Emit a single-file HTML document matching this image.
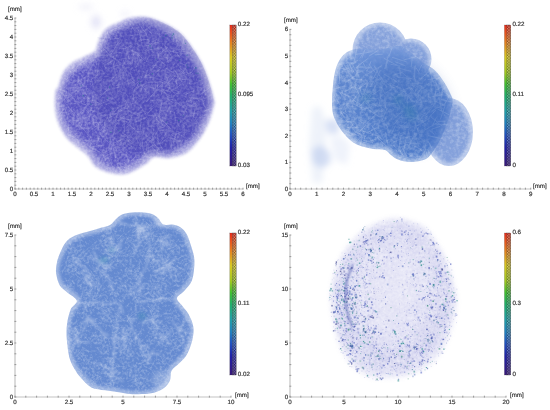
<!DOCTYPE html>
<html><head><meta charset="utf-8"><style>
html,body{margin:0;padding:0;background:#fff;width:550px;height:410px;overflow:hidden}
svg{display:block}
</style></head><body>
<svg width="550" height="410" viewBox="0 0 550 410">
<defs>
<linearGradient id="cb" x1="0" y1="0" x2="0" y2="1">
<stop offset="0" stop-color="#e82c1c"/>
<stop offset="0.10" stop-color="#e87020"/>
<stop offset="0.23" stop-color="#d8c820"/>
<stop offset="0.34" stop-color="#a0c820"/>
<stop offset="0.42" stop-color="#40c030"/>
<stop offset="0.50" stop-color="#20b068"/>
<stop offset="0.61" stop-color="#20a0a8"/>
<stop offset="0.70" stop-color="#2080c0"/>
<stop offset="0.78" stop-color="#2050c0"/>
<stop offset="0.87" stop-color="#2020a8"/>
<stop offset="1" stop-color="#381878"/>
</linearGradient>
<pattern id="chk" x="0" y="0" width="2.8" height="2.8" patternUnits="userSpaceOnUse">
<rect x="0" y="0" width="1.4" height="1.4" fill="#fff" fill-opacity="0.4"/>
<rect x="1.4" y="0" width="1.4" height="1.4" fill="#000" fill-opacity="0.45"/>
<rect x="0" y="1.4" width="1.4" height="1.4" fill="#000" fill-opacity="0.45"/>
<rect x="1.4" y="1.4" width="1.4" height="1.4" fill="#fff" fill-opacity="0.4"/>
</pattern>
<filter id="b05" x="-10%" y="-10%" width="120%" height="120%"><feGaussianBlur stdDeviation="0.6"/></filter>
<filter id="b08" x="-10%" y="-10%" width="120%" height="120%"><feGaussianBlur stdDeviation="0.8"/></filter>
<filter id="b1" x="-50%" y="-50%" width="200%" height="200%"><feGaussianBlur stdDeviation="1"/></filter>
<filter id="b2" x="-50%" y="-50%" width="200%" height="200%"><feGaussianBlur stdDeviation="2"/></filter>
<filter id="b3" x="-50%" y="-50%" width="200%" height="200%"><feGaussianBlur stdDeviation="3"/></filter>
<filter id="b5" x="-50%" y="-50%" width="200%" height="200%"><feGaussianBlur stdDeviation="5"/></filter>
<filter id="b8" x="-50%" y="-50%" width="200%" height="200%"><feGaussianBlur stdDeviation="8"/></filter>
<filter id="tex1" x="-15%" y="-15%" width="130%" height="130%" color-interpolation-filters="sRGB">
<feMorphology in="SourceGraphic" operator="erode" radius="5" result="er"/>
<feGaussianBlur in="er" stdDeviation="2.5" result="core"/>
<feGaussianBlur in="SourceGraphic" stdDeviation="1.8" result="outer"/>
<feComponentTransfer in="outer" result="outerA"><feFuncA type="linear" slope="0.5"/></feComponentTransfer>
<feComponentTransfer in="core" result="coreA"><feFuncA type="linear" slope="0.9"/></feComponentTransfer>
<feComposite in="coreA" in2="outerA" operator="over" result="b"/>
<feTurbulence type="fractalNoise" baseFrequency="0.4" numOctaves="2" seed="4" result="n1"/>
<feColorMatrix in="n1" type="matrix" values="0 0 0 0 0 0 0 0 0 0 0 0 0 0 0 1 0 0 0 0" result="a1"/>
<feTurbulence type="fractalNoise" baseFrequency="0.07" numOctaves="2" seed="9" result="n2"/>
<feColorMatrix in="n2" type="matrix" values="0 0 0 0 0 0 0 0 0 0 0 0 0 0 0 1 0 0 0 0" result="a2"/>
<feComposite in="a1" in2="a2" operator="arithmetic" k1="0" k2="0.6" k3="0.3" k4="0.43" result="na"/>
<feComposite in="b" in2="na" operator="in"/>
</filter><filter id="tex2" x="-15%" y="-15%" width="130%" height="130%" color-interpolation-filters="sRGB">
<feMorphology in="SourceGraphic" operator="erode" radius="3" result="er"/>
<feGaussianBlur in="er" stdDeviation="1.5" result="core"/>
<feGaussianBlur in="SourceGraphic" stdDeviation="0.7" result="outer"/>
<feComponentTransfer in="outer" result="outerA"><feFuncA type="linear" slope="0.55"/></feComponentTransfer>
<feComponentTransfer in="core" result="coreA"><feFuncA type="linear" slope="0.92"/></feComponentTransfer>
<feComposite in="coreA" in2="outerA" operator="over" result="b"/>
<feTurbulence type="fractalNoise" baseFrequency="0.3" numOctaves="3" seed="5" result="n1"/>
<feColorMatrix in="n1" type="matrix" values="0 0 0 0 0 0 0 0 0 0 0 0 0 0 0 1 0 0 0 0" result="a1"/>
<feTurbulence type="fractalNoise" baseFrequency="0.05" numOctaves="2" seed="11" result="n2"/>
<feColorMatrix in="n2" type="matrix" values="0 0 0 0 0 0 0 0 0 0 0 0 0 0 0 1 0 0 0 0" result="a2"/>
<feComposite in="a1" in2="a2" operator="arithmetic" k1="0" k2="0.6" k3="0.25" k4="0.47" result="na"/>
<feComposite in="b" in2="na" operator="in"/>
</filter><filter id="tex2l" x="-15%" y="-15%" width="130%" height="130%" color-interpolation-filters="sRGB">
<feMorphology in="SourceGraphic" operator="erode" radius="3" result="er"/>
<feGaussianBlur in="er" stdDeviation="1.5" result="core"/>
<feGaussianBlur in="SourceGraphic" stdDeviation="0.7" result="outer"/>
<feComponentTransfer in="outer" result="outerA"><feFuncA type="linear" slope="0.55"/></feComponentTransfer>
<feComponentTransfer in="core" result="coreA"><feFuncA type="linear" slope="0.85"/></feComponentTransfer>
<feComposite in="coreA" in2="outerA" operator="over" result="b"/>
<feTurbulence type="fractalNoise" baseFrequency="0.3" numOctaves="3" seed="6" result="n1"/>
<feColorMatrix in="n1" type="matrix" values="0 0 0 0 0 0 0 0 0 0 0 0 0 0 0 1 0 0 0 0" result="a1"/>
<feTurbulence type="fractalNoise" baseFrequency="0.05" numOctaves="2" seed="12" result="n2"/>
<feColorMatrix in="n2" type="matrix" values="0 0 0 0 0 0 0 0 0 0 0 0 0 0 0 1 0 0 0 0" result="a2"/>
<feComposite in="a1" in2="a2" operator="arithmetic" k1="0" k2="0.6" k3="0.25" k4="0.5" result="na"/>
<feComposite in="b" in2="na" operator="in"/>
</filter><filter id="tex3" x="-15%" y="-15%" width="130%" height="130%" color-interpolation-filters="sRGB">
<feMorphology in="SourceGraphic" operator="erode" radius="3" result="er"/>
<feGaussianBlur in="er" stdDeviation="1.8" result="core"/>
<feGaussianBlur in="SourceGraphic" stdDeviation="0.6" result="outer"/>
<feComponentTransfer in="outer" result="outerA"><feFuncA type="linear" slope="0.6"/></feComponentTransfer>
<feComponentTransfer in="core" result="coreA"><feFuncA type="linear" slope="0.92"/></feComponentTransfer>
<feComposite in="coreA" in2="outerA" operator="over" result="b"/>
<feTurbulence type="fractalNoise" baseFrequency="0.4" numOctaves="2" seed="7" result="n1"/>
<feColorMatrix in="n1" type="matrix" values="0 0 0 0 0 0 0 0 0 0 0 0 0 0 0 1 0 0 0 0" result="a1"/>
<feTurbulence type="fractalNoise" baseFrequency="0.06" numOctaves="2" seed="13" result="n2"/>
<feColorMatrix in="n2" type="matrix" values="0 0 0 0 0 0 0 0 0 0 0 0 0 0 0 1 0 0 0 0" result="a2"/>
<feComposite in="a1" in2="a2" operator="arithmetic" k1="0" k2="0.6" k3="0.35" k4="0.47" result="na"/>
<feComposite in="b" in2="na" operator="in"/>
</filter><filter id="tex4" x="-15%" y="-15%" width="130%" height="130%" color-interpolation-filters="sRGB">
<feMorphology in="SourceGraphic" operator="erode" radius="4" result="er"/>
<feGaussianBlur in="er" stdDeviation="3" result="core"/>
<feGaussianBlur in="SourceGraphic" stdDeviation="2.5" result="outer"/>
<feComponentTransfer in="outer" result="outerA"><feFuncA type="linear" slope="0.6"/></feComponentTransfer>
<feComponentTransfer in="core" result="coreA"><feFuncA type="linear" slope="0.8"/></feComponentTransfer>
<feComposite in="coreA" in2="outerA" operator="over" result="b"/>
<feTurbulence type="fractalNoise" baseFrequency="0.35" numOctaves="2" seed="8" result="n1"/>
<feColorMatrix in="n1" type="matrix" values="0 0 0 0 0 0 0 0 0 0 0 0 0 0 0 1 0 0 0 0" result="a1"/>
<feTurbulence type="fractalNoise" baseFrequency="0.06" numOctaves="2" seed="14" result="n2"/>
<feColorMatrix in="n2" type="matrix" values="0 0 0 0 0 0 0 0 0 0 0 0 0 0 0 1 0 0 0 0" result="a2"/>
<feComposite in="a1" in2="a2" operator="arithmetic" k1="0" k2="0.7" k3="0.35" k4="0.3" result="na"/>
<feComposite in="b" in2="na" operator="in"/>
</filter>
</defs>
<rect width="550" height="410" fill="#fff"/>
<g fill="#d0d0f0" filter="url(#b3)"><ellipse cx="96" cy="22" rx="5" ry="7" opacity="0.55"/><ellipse cx="86" cy="7" rx="8" ry="3" opacity="0.3"/><ellipse cx="125" cy="14" rx="4" ry="3" opacity="0.3"/></g>
<path d="M130.0,18.0 C134.2,17.2 140.2,16.5 145.0,17.0 C149.8,17.5 153.3,18.5 159.0,21.0 C164.7,23.5 173.3,27.3 179.0,32.0 C184.7,36.7 189.0,43.3 193.0,49.0 C197.0,54.7 200.2,60.0 203.0,66.0 C205.8,72.0 208.2,79.3 210.0,85.0 C211.8,90.7 213.3,96.7 214.0,100.0 C214.7,103.3 215.0,101.0 214.0,105.0 C213.0,109.0 210.7,118.0 208.0,124.0 C205.3,130.0 201.7,136.2 198.0,141.0 C194.3,145.8 190.8,150.2 186.0,153.0 C181.2,155.8 174.3,157.3 169.0,158.0 C163.7,158.7 157.7,156.2 154.0,157.0 C150.3,157.8 149.8,161.0 147.0,163.0 C144.2,165.0 140.7,167.2 137.0,169.0 C133.3,170.8 129.3,173.3 125.0,174.0 C120.7,174.7 115.8,174.2 111.0,173.0 C106.2,171.8 99.8,169.8 96.0,167.0 C92.2,164.2 90.8,159.1 88.0,156.0 C85.2,152.9 82.5,151.5 79.0,148.5 C75.5,145.5 70.5,142.4 67.0,138.0 C63.5,133.6 60.0,127.5 58.0,122.0 C56.0,116.5 55.3,110.3 55.0,105.0 C54.7,99.7 55.5,92.8 56.0,90.0 C56.5,87.2 56.8,90.8 58.0,88.0 C59.2,85.2 60.7,77.2 63.0,73.0 C65.3,68.8 68.5,65.7 72.0,63.0 C75.5,60.3 80.2,59.0 84.0,57.0 C87.8,55.0 92.6,53.6 95.0,51.0 C97.4,48.4 96.7,45.2 98.5,41.5 C100.3,37.8 102.4,32.2 106.0,29.0 C109.6,25.8 116.0,23.8 120.0,22.0 C124.0,20.2 125.8,18.8 130.0,18.0 Z" fill="#524ec0" filter="url(#tex1)"/>
<clipPath id="cp1"><path d="M130.0,18.0 C134.2,17.2 140.2,16.5 145.0,17.0 C149.8,17.5 153.3,18.5 159.0,21.0 C164.7,23.5 173.3,27.3 179.0,32.0 C184.7,36.7 189.0,43.3 193.0,49.0 C197.0,54.7 200.2,60.0 203.0,66.0 C205.8,72.0 208.2,79.3 210.0,85.0 C211.8,90.7 213.3,96.7 214.0,100.0 C214.7,103.3 215.0,101.0 214.0,105.0 C213.0,109.0 210.7,118.0 208.0,124.0 C205.3,130.0 201.7,136.2 198.0,141.0 C194.3,145.8 190.8,150.2 186.0,153.0 C181.2,155.8 174.3,157.3 169.0,158.0 C163.7,158.7 157.7,156.2 154.0,157.0 C150.3,157.8 149.8,161.0 147.0,163.0 C144.2,165.0 140.7,167.2 137.0,169.0 C133.3,170.8 129.3,173.3 125.0,174.0 C120.7,174.7 115.8,174.2 111.0,173.0 C106.2,171.8 99.8,169.8 96.0,167.0 C92.2,164.2 90.8,159.1 88.0,156.0 C85.2,152.9 82.5,151.5 79.0,148.5 C75.5,145.5 70.5,142.4 67.0,138.0 C63.5,133.6 60.0,127.5 58.0,122.0 C56.0,116.5 55.3,110.3 55.0,105.0 C54.7,99.7 55.5,92.8 56.0,90.0 C56.5,87.2 56.8,90.8 58.0,88.0 C59.2,85.2 60.7,77.2 63.0,73.0 C65.3,68.8 68.5,65.7 72.0,63.0 C75.5,60.3 80.2,59.0 84.0,57.0 C87.8,55.0 92.6,53.6 95.0,51.0 C97.4,48.4 96.7,45.2 98.5,41.5 C100.3,37.8 102.4,32.2 106.0,29.0 C109.6,25.8 116.0,23.8 120.0,22.0 C124.0,20.2 125.8,18.8 130.0,18.0 Z"/></clipPath>
<g clip-path="url(#cp1)"><ellipse cx="153" cy="86" rx="60" ry="68" fill="#34349e" opacity="0.2" filter="url(#b3)"/></g>
<path d="M83.1,121.0L79.3,129.5M93.3,138.7L85.4,144.2M131.1,54.0L139.5,54.1M150.9,25.7L145.2,30.0M190.2,113.3L198.1,114.1M138.2,34.6L130.0,35.8M124.8,99.5L129.3,107.8M185.6,49.1L172.6,50.4M176.5,131.2L173.6,142.4M77.4,90.0L71.6,93.5M119.5,70.2L120.8,78.5M134.8,88.4L132.9,100.0M91.2,107.4L89.4,117.8M108.0,158.0L112.8,167.1M181.6,71.2L175.5,80.5M212.3,108.0L203.5,111.4M117.7,54.6L111.7,57.0M180.4,91.5L175.7,94.2M95.2,59.3L96.8,65.7M168.8,87.3L178.4,97.1M135.1,131.1L142.0,131.7M193.1,140.0L183.4,143.7M126.2,106.5L119.3,110.0M141.9,58.6L138.1,62.0M158.3,147.2L156.4,154.2M122.5,166.6L116.5,168.4M159.7,32.9L158.7,40.8M130.6,49.8L136.4,53.1M115.5,125.8L114.6,131.1M173.5,141.0L182.7,141.3M78.9,124.7L86.8,132.7M120.5,64.4L113.2,66.8M137.9,102.8L132.1,103.7M155.2,91.7L146.0,101.9M104.7,121.8L103.9,131.8M176.8,84.9L174.9,89.7M157.7,82.2L157.3,90.7M114.4,51.7L123.2,53.1M99.1,124.4L89.4,130.7M125.9,49.7L129.2,58.5M68.4,86.6L68.7,98.0M157.9,130.6L151.5,141.6M161.4,119.6L170.9,128.8M122.2,109.9L110.5,117.1M103.6,63.0L105.8,68.9M139.0,24.0L146.9,35.0M166.6,87.3L179.4,91.9M164.3,44.6L169.6,54.0M167.3,57.4L159.5,58.6M90.5,147.1L100.4,152.3M84.1,107.7L89.5,114.1M203.5,85.1L205.6,95.5M110.5,56.0L121.8,63.6M63.4,109.5L59.1,115.3M126.0,154.6L128.4,160.3M181.1,143.4L180.6,148.8M85.4,76.8L84.3,83.7M188.9,147.9L176.3,150.9M171.5,134.7L176.1,137.8M186.3,107.9L182.9,116.5M179.5,67.0L184.9,73.1M105.0,114.5L99.7,116.4M67.5,94.5L64.0,100.2M63.8,90.1L58.0,99.3M201.4,96.2L204.6,106.9M164.7,97.8L176.8,100.9M112.3,97.6L109.7,103.6M162.3,91.4L173.4,97.6M168.1,46.9L158.0,55.3M144.0,159.2L135.6,160.0M112.9,107.8L109.0,118.9M162.6,41.3L153.1,43.4M182.2,131.7L174.5,134.7M64.0,78.1L72.3,83.3M182.2,72.8L187.0,74.9M116.8,107.7L127.7,108.6M207.1,97.6L198.0,100.7M126.9,113.7L118.0,121.5M157.6,52.6L159.4,60.8M133.4,54.1L132.3,63.2M152.2,138.8L144.3,147.3M162.3,101.5L159.0,115.1M171.6,141.8L171.9,147.3M113.9,142.2L113.9,151.3M118.6,110.3L115.2,121.0M191.2,131.6L194.0,138.3M182.6,140.7L176.0,142.2M158.9,38.1L152.6,41.8M160.8,61.3L166.2,65.6M129.8,125.4L138.4,132.5M106.9,115.8L109.6,122.0M159.7,79.5L171.7,84.4M169.4,105.7L171.1,115.0M154.5,113.1L157.8,120.5M174.4,112.0L175.7,121.6M85.2,140.6L95.9,141.3M128.7,46.8L126.0,56.7M63.5,90.9L74.1,97.0M104.9,66.8L109.1,70.3M151.9,148.1L156.6,152.0M138.2,29.5L141.7,40.8M87.7,124.0L87.0,129.7M90.3,110.1L96.8,112.1M147.1,140.0L146.3,150.9M103.0,155.0L108.2,165.8M66.1,93.3L54.8,97.2M149.9,44.9L144.4,46.3M165.9,98.3L172.9,102.3M158.5,114.2L162.6,125.7M177.6,133.5L184.5,137.1M72.2,117.4L73.5,124.4M113.2,147.4L115.8,158.3M155.5,87.3L154.1,95.4M84.2,91.4L88.8,97.9M119.2,48.1L126.1,48.8M194.9,66.8L191.3,73.0M161.7,84.1L155.1,91.3M116.5,55.0L112.9,66.9M161.6,86.8L168.3,98.0M166.6,132.4L159.4,144.0M83.0,75.6L80.2,82.5M99.5,136.2L95.4,147.2M172.0,97.2L161.1,98.2M121.6,118.8L125.3,123.7M113.5,38.5L119.3,38.5M121.9,136.0L132.5,137.7M70.0,93.5L75.4,100.7M166.3,76.5L170.1,87.4M77.1,66.7L69.7,76.8M158.1,61.0L150.7,71.2M80.5,70.4L72.5,72.0M151.7,140.9L159.4,150.1M79.5,69.7L83.6,72.9M183.8,39.4L181.6,49.1M156.0,41.5L151.7,45.5M123.2,138.7L112.7,143.8M168.9,52.0L173.0,58.6M126.8,154.3L121.0,154.3M130.9,123.7L125.7,127.9M68.2,122.6L68.8,135.8M75.8,100.9L87.2,105.4M106.4,34.4L102.0,44.1M147.7,70.0L144.9,78.1M121.9,132.6L128.3,136.8M170.0,50.9L182.9,53.7M78.3,78.5L82.4,84.6M106.5,99.6L115.6,103.1M114.1,60.0L104.5,65.4M132.4,134.8L128.1,141.4M153.6,128.2L152.3,139.9M101.9,122.1L92.1,122.8M173.2,55.6L166.9,61.8M135.6,51.4L144.5,60.6M153.7,114.4L160.9,117.1M140.7,121.4L140.3,131.4M91.3,79.1L94.1,89.9M164.8,54.3L159.8,61.6M118.5,41.9L111.4,53.9M207.4,113.8L198.9,117.9M144.2,156.5L152.3,158.1M113.9,67.9L115.1,73.2M103.7,138.1L112.7,145.9M86.0,106.2L78.9,114.7M194.5,90.3L185.1,94.7M85.7,76.9L77.9,81.8M86.6,104.9L82.6,113.1M116.6,163.3L121.8,173.0M85.0,96.1L90.1,99.3M106.6,30.0L110.5,40.1M142.1,139.0L142.5,144.8M175.5,75.3L165.8,85.0M136.3,52.0L140.4,60.6M123.3,116.8L113.4,123.3M114.4,117.1L126.4,119.2M167.2,54.9L167.9,62.4M186.6,79.8L176.3,88.2M175.4,70.7L181.9,82.6M115.3,138.1L109.9,143.4M122.4,166.9L129.5,169.0M211.0,86.5L200.1,94.9M103.3,48.3L111.5,57.1M80.5,102.1L73.9,103.6M159.8,99.7L150.2,100.7M135.3,156.6L130.8,161.1M189.6,79.0L176.0,80.3M130.6,79.9L136.3,84.8M153.6,107.1L146.8,114.6M65.2,103.3L74.4,113.7M204.7,123.2L198.4,126.7M130.2,73.4L134.1,80.8M126.1,119.3L135.9,120.1M139.6,104.8L145.8,114.2M148.4,56.9L146.3,61.9M175.3,62.8L171.3,67.5M146.3,43.1L153.7,44.0M190.3,72.0L189.5,84.1M168.6,137.3L162.1,142.2M127.1,136.8L133.7,143.4M151.8,146.8L159.7,154.5M133.7,112.6L128.0,124.8M80.9,96.6L81.4,103.9M152.3,116.0L162.4,124.6M162.2,47.5L149.7,49.8M101.2,151.2L108.6,154.4M119.1,163.5L124.1,170.4M82.7,142.2L93.3,149.1M112.6,101.9L105.8,104.7M140.1,112.6L138.0,121.1M155.5,65.2L159.9,67.6M153.9,105.3L148.7,109.0M162.5,81.9L161.5,94.4M138.9,82.6L136.1,88.2M189.1,97.6L198.4,98.9M126.5,57.9L119.1,59.4M125.9,121.9L133.8,123.6M165.8,68.1L175.6,74.1M124.1,120.0L124.7,132.3M184.1,125.1L184.4,135.5M120.6,26.8L109.2,31.2M69.2,70.4L66.5,82.4M135.7,136.0L139.9,146.2M176.2,110.9L187.1,111.6M68.3,134.0L78.2,139.8M64.7,108.4L68.1,118.5M127.9,110.9L138.1,115.4M184.2,150.1L174.1,150.3M160.6,68.7L154.5,73.6M160.2,115.2L148.1,115.6M114.1,76.4L109.5,82.1M140.8,83.6L147.0,92.4M151.1,87.8L161.6,90.4M185.8,68.1L179.7,75.8M109.3,88.0L99.9,96.8M193.6,73.2L187.9,76.2M148.0,82.5L137.5,87.2M157.7,140.3L161.9,148.3M66.7,68.7L76.0,75.5M146.2,85.4L154.6,88.7M148.8,39.3L140.5,39.9M122.6,58.3L125.5,65.2M112.7,106.9L113.2,114.8M129.4,23.2L134.5,30.5M175.5,79.3L178.3,89.8M94.7,100.4L103.3,106.4M146.3,117.4L135.1,122.0M119.9,86.8L106.7,90.1M179.8,63.1L186.2,65.5M159.4,126.7L164.3,127.8M55.8,88.2L67.5,91.9M142.2,112.4L136.2,113.8M90.7,136.3L87.7,144.8M118.3,113.1L105.0,115.4M187.2,51.2L186.5,60.4M115.4,125.0L112.8,137.4M141.9,144.7L145.4,156.6M124.5,70.2L127.5,76.6M145.4,135.3L152.5,139.7M140.9,77.1L153.7,77.4M79.3,120.2L71.7,120.7M98.8,62.2L97.0,75.9M158.4,130.3L163.7,130.3M160.8,88.8L170.1,91.9M67.7,67.4L77.3,68.5M127.2,59.9L131.5,63.5M170.0,84.9L167.9,92.3M122.4,83.9L116.2,85.6M195.0,109.4L192.9,119.0M146.0,28.4L151.9,34.1M171.3,80.0L165.4,86.2M138.9,81.5L134.0,85.3M143.1,84.9L140.4,91.5M70.4,94.7L65.4,95.3M169.8,137.6L179.6,141.3M140.2,59.5L135.6,68.1M101.3,153.9L98.3,162.5M95.5,148.5L83.2,154.4M194.7,117.1L199.8,126.2M110.6,138.4L108.5,151.0M193.6,133.1L200.0,137.8M82.5,62.2L77.6,65.9M174.8,50.8L180.4,58.0M155.1,144.2L147.6,148.8M125.5,138.0L130.9,143.6M185.2,68.4L188.0,73.6M96.2,124.2L99.1,130.1M116.7,163.2L122.8,164.3M157.2,133.9L158.0,139.2M139.9,32.0L145.3,33.3M127.1,143.4L134.0,148.4M177.2,102.8L185.2,108.5M57.4,95.7L71.1,96.2M105.5,101.6L97.4,105.0M175.7,35.6L177.7,47.0M133.1,44.3L125.7,47.9M161.6,81.6L148.0,82.4M180.7,50.5L190.8,53.4M104.7,145.1L91.4,146.7M165.2,31.2L171.3,33.3M149.7,73.8L144.1,76.8M116.2,109.3L112.9,114.5" stroke="#ffffff" stroke-width="0.9" opacity="0.16" fill="none" filter="url(#b05)"/>
<path d="M161.9,70.1L155.2,72.5M193.3,106.8L197.0,112.3M196.0,107.3L184.2,109.7M210.9,101.6L204.8,110.2M110.1,138.9L99.3,140.4M156.3,45.3L166.0,46.8M134.0,93.0L137.0,103.5M111.4,104.3L117.5,112.6M143.9,80.9L138.8,89.2M109.5,78.4L113.6,91.2M205.5,94.6L207.3,100.2M139.8,68.3L144.0,75.3M141.7,138.9L138.6,145.0M124.7,145.9L115.9,148.1M190.0,90.2L189.2,100.4M132.0,127.5L128.4,134.9M181.9,139.4L177.4,152.1M151.1,67.6L160.7,73.3M117.3,58.3L130.9,60.1M108.2,33.2L113.8,37.8M127.0,44.5L132.5,54.7M85.2,88.4L89.4,99.4M166.7,87.4L171.7,92.4M165.9,39.9L155.8,43.6M64.9,92.8L63.2,97.9M189.9,50.5L189.2,56.7M111.6,151.2L107.3,154.0M110.2,114.3L120.6,120.7M194.3,97.8L199.7,109.3M134.5,44.1L138.6,49.0M191.9,92.0L184.8,102.1M122.6,151.4L116.4,157.1M156.9,46.3L161.7,48.9M115.8,47.2L115.0,60.9M84.0,102.4L74.6,106.7M132.1,137.1L145.6,138.0M166.7,142.1L161.6,145.2M139.4,163.1L131.1,165.5M150.5,127.2L157.4,139.1M156.4,64.7L161.0,70.2M121.8,66.7L129.7,71.6M124.2,70.4L117.7,74.7M145.2,154.3L136.9,155.4M133.5,49.8L140.0,52.6M97.5,37.7L111.3,39.9M131.5,140.0L131.4,145.6M113.9,75.4L104.1,78.1M122.5,115.2L133.5,116.9M181.9,118.9L185.1,125.7M82.2,85.9L76.9,90.4M131.1,114.5L129.1,119.2M199.3,106.0L203.4,111.8M109.2,76.3L108.0,82.7M120.6,155.0L118.4,167.2M99.4,151.2L93.9,155.6M140.5,119.0L138.1,129.1M90.5,98.5L95.9,109.4M146.5,49.8L148.1,55.7M153.5,63.4L148.8,67.3M160.9,127.0L165.5,131.2M112.5,117.0L116.0,120.7M119.3,140.8L131.1,147.2M131.8,40.9L139.8,43.5M126.2,43.3L135.3,45.8M94.5,81.2L96.3,92.3M141.5,49.4L152.2,56.2M142.6,158.3L139.5,165.7M118.9,127.9L128.0,136.0M103.8,102.0L115.5,107.9M207.6,95.6L196.9,98.9M147.1,40.8L134.0,42.8M121.7,76.2L132.0,78.6M187.7,73.9L194.2,82.2M177.7,39.5L184.5,47.8M104.7,144.4L105.6,150.9M100.7,132.7L92.1,139.2M106.6,118.2L101.1,124.3M65.4,88.5L70.5,92.8M120.7,27.5L113.5,29.9M191.3,132.5L204.4,133.0M188.0,97.8L179.3,101.1M107.0,150.2L101.8,153.3M107.6,31.8L113.7,37.2M122.6,37.4L119.2,43.7M195.2,86.8L197.8,98.4M106.3,55.9L113.4,58.8M89.8,127.3L94.8,137.5M106.7,77.7L100.2,79.6M63.7,90.5L62.1,96.3M115.7,137.7L127.2,137.7M163.7,135.9L164.1,145.1M137.6,34.8L137.3,42.0M141.8,49.4L140.2,58.8M152.5,119.3L147.1,127.2M102.6,139.9L104.8,145.4M119.1,147.0L124.8,148.9M133.0,150.6L135.5,157.4M107.6,108.0L96.3,113.8M105.5,56.0L108.1,61.6M102.1,137.1L94.6,137.6M124.9,129.8L116.3,137.8M178.5,51.1L179.8,56.7M114.4,140.5L114.8,150.2M111.1,87.3L111.3,98.5M142.6,117.5L140.9,131.3M148.4,106.1L151.3,114.4M182.0,73.8L171.0,77.3M140.2,74.3L151.1,74.9M176.4,128.7L172.5,132.4M161.6,54.9L166.0,66.9M116.1,89.8L122.7,90.8M135.3,23.7L140.9,25.3M168.7,95.4L179.8,100.2M132.7,147.1L139.9,157.7M178.6,152.5L166.3,153.1M87.0,92.3L85.4,103.7M89.4,105.0L93.6,110.2M127.2,139.1L125.8,147.2M89.7,69.8L92.1,76.9M101.1,48.3L107.8,57.1" stroke="#2a2c90" stroke-width="0.9" opacity="0.1" fill="none" filter="url(#b05)"/>
<g filter="url(#b05)"><rect x="171.6" y="34.9" width="1.3" height="1.3" fill="#2a7090" opacity="0.50"/><rect x="171.3" y="37.3" width="1.3" height="1.3" fill="#2a7090" opacity="0.59"/><rect x="162.3" y="37.1" width="1.3" height="1.3" fill="#2a7090" opacity="0.46"/><rect x="165.2" y="34.8" width="1.3" height="1.3" fill="#2a7090" opacity="0.74"/><rect x="184.8" y="42.7" width="1.3" height="1.3" fill="#2a7090" opacity="0.47"/><rect x="172.8" y="33.4" width="1.3" height="1.3" fill="#2a7090" opacity="0.73"/><rect x="187.2" y="66.8" width="1.3" height="1.3" fill="#2a7090" opacity="0.43"/><rect x="186.3" y="54.7" width="1.3" height="1.3" fill="#2a7090" opacity="0.48"/><rect x="185.9" y="64.3" width="1.3" height="1.3" fill="#2a7090" opacity="0.48"/><rect x="179.0" y="59.6" width="1.3" height="1.3" fill="#2a7090" opacity="0.68"/><rect x="195.2" y="67.3" width="1.3" height="1.3" fill="#2a7090" opacity="0.79"/><rect x="149.4" y="45.1" width="1.3" height="1.3" fill="#2a7090" opacity="0.74"/><rect x="155.5" y="58.7" width="1.3" height="1.3" fill="#2a7090" opacity="0.43"/><rect x="151.5" y="47.7" width="1.3" height="1.3" fill="#2a7090" opacity="0.44"/><rect x="90.2" y="103.5" width="1.3" height="1.3" fill="#2a7090" opacity="0.62"/><rect x="110.2" y="109.7" width="1.3" height="1.3" fill="#2a7090" opacity="0.42"/><rect x="109.0" y="86.5" width="1.3" height="1.3" fill="#2a7090" opacity="0.70"/><rect x="107.0" y="97.5" width="1.3" height="1.3" fill="#2a7090" opacity="0.49"/><rect x="110.3" y="131.7" width="1.3" height="1.3" fill="#2a7090" opacity="0.71"/><rect x="109.1" y="139.7" width="1.3" height="1.3" fill="#2a7090" opacity="0.41"/><rect x="118.3" y="130.0" width="1.3" height="1.3" fill="#2a7090" opacity="0.54"/><rect x="178.0" y="119.8" width="1.3" height="1.3" fill="#2a7090" opacity="0.79"/><rect x="182.6" y="114.9" width="1.3" height="1.3" fill="#2a7090" opacity="0.42"/><rect x="165.9" y="121.6" width="1.3" height="1.3" fill="#2a7090" opacity="0.44"/><rect x="139.2" y="82.5" width="1.3" height="1.3" fill="#2a7090" opacity="0.74"/><rect x="151.7" y="73.1" width="1.3" height="1.3" fill="#2a7090" opacity="0.70"/><rect x="138.1" y="79.0" width="1.3" height="1.3" fill="#2a7090" opacity="0.59"/><rect x="80.7" y="84.9" width="1.3" height="1.3" fill="#2a7090" opacity="0.41"/><rect x="82.6" y="95.1" width="1.3" height="1.3" fill="#2a7090" opacity="0.77"/><rect x="199.5" y="78.9" width="1.3" height="1.3" fill="#2a7090" opacity="0.59"/><rect x="197.4" y="72.8" width="1.3" height="1.3" fill="#2a7090" opacity="0.50"/><rect x="195.3" y="72.5" width="1.3" height="1.3" fill="#2a7090" opacity="0.47"/></g>
<g filter="url(#b3)"><path d="M312,108 L320,106 L326,120 L326,150 L322,183 L313,183 L309,150 Z" fill="#c8d4f0" opacity="0.3"/><path d="M312,150 L320,145 L330,152 L331,163 L322,168 L313,163 Z" fill="#a8bce8" opacity="0.45"/><path d="M325,122 L333,118 L340,124 L338,134 L328,134 Z" fill="#a8bce8" opacity="0.45"/><path d="M330,137 L342,136 L350,145 L347,165 L335,160 Z" fill="#d0dcf4" opacity="0.35"/></g>
<g filter="url(#tex2l)" fill="#7c9ad8"><circle cx="380" cy="50" r="27.5"/><circle cx="411" cy="59" r="20.5"/><ellipse cx="449" cy="132" rx="24" ry="34"/></g>
<linearGradient id="p2g" gradientUnits="userSpaceOnUse" x1="0" y1="48" x2="0" y2="165"><stop offset="0" stop-color="#7498da"/><stop offset="0.3" stop-color="#5882ce"/><stop offset="1" stop-color="#4c7aca"/></linearGradient>
<path d="M348.0,51.5 C350.3,50.2 353.0,49.5 356.0,49.0 C359.0,48.5 362.0,48.4 366.0,48.5 C370.0,48.6 374.7,49.9 380.0,49.5 C385.3,49.1 393.0,45.6 398.0,46.0 C403.0,46.4 406.0,49.3 410.0,52.0 C414.0,54.7 417.9,59.0 422.0,62.0 C426.1,65.0 430.9,66.7 434.6,70.0 C438.3,73.3 441.4,78.0 444.0,82.0 C446.6,86.0 449.1,90.7 450.5,94.0 C451.9,97.3 452.9,97.7 452.5,102.0 C452.1,106.3 449.9,114.0 448.0,120.0 C446.1,126.0 443.3,133.0 441.0,138.0 C438.7,143.0 436.5,146.5 434.0,150.0 C431.5,153.5 429.8,157.0 426.0,159.0 C422.2,161.0 415.7,161.9 411.0,162.0 C406.3,162.1 401.3,160.7 398.0,159.5 C394.7,158.3 393.2,156.6 391.0,155.0 C388.8,153.4 388.0,151.0 385.0,150.0 C382.0,149.0 377.5,149.8 373.0,149.0 C368.5,148.2 362.0,146.7 358.0,145.0 C354.0,143.3 352.2,142.0 349.0,139.0 C345.8,136.0 341.7,131.2 339.0,127.0 C336.3,122.8 334.2,118.5 333.0,114.0 C331.8,109.5 332.0,104.8 332.0,100.0 C332.0,95.2 332.6,89.3 333.0,85.0 C333.4,80.7 333.8,77.5 334.5,74.0 C335.2,70.5 336.2,66.9 337.5,64.0 C338.8,61.1 340.2,58.6 342.0,56.5 C343.8,54.4 345.7,52.8 348.0,51.5 Z" fill="url(#p2g)" filter="url(#tex2)"/>
<path d="M376.1,123.8L382.6,126.8M353.9,130.9L365.9,136.9M412.4,56.6L411.2,67.0M441.5,90.0L449.0,95.5M358.9,65.6L355.8,76.7M381.8,65.7L367.9,73.6M431.2,117.1L442.0,126.0M421.7,64.8L418.2,72.2M375.5,85.5L369.1,98.4M371.1,61.1L366.7,71.8M399.7,125.2L409.2,128.1M445.6,121.2L437.7,121.4M385.6,132.0L388.0,145.7M392.1,57.3L407.2,62.1M343.1,62.8L349.6,74.2M434.9,94.2L435.0,108.1M367.6,83.4L363.4,95.0M353.1,123.7L344.1,136.6M430.4,70.2L418.6,80.9M374.5,77.1L380.0,80.5M360.7,66.0L353.1,70.8M357.4,94.2L350.9,103.4M436.1,86.0L435.1,99.1M387.2,125.5L388.0,132.8M425.1,150.5L418.4,160.2M341.9,93.2L350.7,97.4M372.5,90.9L365.5,99.9M366.1,131.1L356.4,141.6M380.0,89.9L371.7,95.2M352.9,65.1L358.9,76.6M372.2,134.6L380.5,136.3M407.3,93.9L407.3,109.3M360.0,66.5L370.8,67.6M364.8,100.9L370.8,101.0M373.3,127.8L382.2,140.0M405.0,90.1L398.6,95.5M405.5,139.6L404.3,148.8M339.5,109.9L347.6,115.3M417.2,104.3L409.0,108.2M379.4,120.5L378.0,128.6M376.8,137.0L386.2,146.0M421.4,83.2L407.5,83.9M339.2,66.8L339.6,82.8M380.6,104.8L382.0,112.1M384.6,95.3L385.5,108.1M416.6,83.6L422.6,87.1M398.0,147.3L403.2,155.7M407.8,142.5L421.0,144.1M391.9,88.9L380.7,96.2M442.9,88.8L440.4,102.5M388.6,54.8L384.7,69.0M374.2,65.7L381.7,79.4M379.3,78.4L386.1,86.3M409.3,83.5L416.1,88.0M345.9,131.2L359.0,135.8M363.3,133.1L364.8,139.7M394.4,96.6L400.2,108.1M391.5,48.9L388.7,57.5M436.8,107.3L431.3,112.0M423.8,113.5L410.6,120.2M401.7,111.8L395.2,117.6M399.3,131.8L396.0,142.7M364.5,51.2L361.9,58.2M399.8,139.3L393.0,142.3M386.2,63.3L387.1,70.6M435.1,80.2L440.2,94.3M431.2,78.7L431.2,91.3M358.1,60.1L351.2,63.4M418.6,127.1L415.9,136.1M428.1,135.6L442.7,138.9M405.7,77.8L411.7,81.3M428.0,140.9L431.6,147.8M338.9,91.4L342.8,96.6M363.0,140.2L372.8,142.3M390.6,64.4L397.3,65.2M440.2,126.4L431.5,129.2M402.9,148.5L407.2,157.7M414.8,146.2L422.2,150.5M437.5,109.0L449.1,114.8M416.4,56.5L404.2,59.9M386.4,83.3L395.8,88.5M378.9,67.4L373.3,78.7M386.2,124.3L390.1,133.9M333.6,93.6L340.5,105.8M440.8,99.3L452.3,102.2M406.9,121.5L398.7,128.4M394.0,134.7L402.4,135.4M388.1,59.7L385.0,69.1M408.8,154.6L420.3,159.5M396.8,77.0L412.1,78.7M408.7,116.2L422.9,120.9M381.0,94.8L379.2,105.1M450.5,94.4L443.3,106.0M408.4,87.9L401.7,90.5M365.3,49.3L359.7,58.7M364.1,92.3L373.3,101.7M426.5,89.0L420.6,91.6M394.8,61.7L405.6,65.9M352.0,87.4L344.3,91.9M393.0,145.0L401.1,152.0M415.3,65.2L414.3,79.4M437.1,122.7L423.4,130.9M402.4,72.8L407.4,77.0M445.1,105.3L440.4,119.3M416.1,88.2L414.3,94.8M367.6,82.1L357.5,89.6M402.6,87.4L407.0,96.2M344.8,85.8L331.2,89.8M364.8,101.0L359.2,106.7M368.7,109.8L381.2,118.2M408.1,86.3L417.2,97.9M415.9,67.5L419.6,73.3M404.2,89.7L411.3,100.6M368.6,58.0L356.7,66.9M433.9,105.1L424.7,116.5M371.5,125.1L378.2,137.0M387.2,108.0L381.7,121.0M398.8,64.8L401.0,76.3M420.8,89.2L417.2,94.0M339.4,109.5L345.1,117.8M419.3,94.6L414.7,107.2M429.3,130.0L434.4,134.4M357.0,48.6L353.5,64.2M383.8,74.0L397.3,82.0M402.7,72.2L393.0,75.1M355.5,67.3L369.6,68.0M375.9,128.1L367.1,132.9M395.6,125.4L391.4,134.0M349.7,78.7L362.1,79.5M408.0,129.2L410.5,142.3M400.4,138.5L398.4,151.1M397.4,67.8L411.2,71.3M419.2,104.2L411.7,106.3M416.8,103.2L423.7,105.6M420.2,100.7L431.0,102.3M366.6,98.3L369.9,105.9M429.9,118.2L416.5,126.0M434.5,101.0L444.9,105.7M366.0,125.2L357.2,133.4M434.8,106.9L443.4,108.4M377.5,110.7L372.2,114.4M350.3,95.8L356.4,102.4M384.0,58.4L398.0,65.8M420.5,113.8L427.2,116.8M399.1,117.0L414.7,117.6M380.4,70.3L374.1,84.1M368.9,104.4L379.4,106.0M442.5,77.7L427.6,79.4M415.5,124.6L413.8,130.9M415.6,132.4L409.0,145.9M371.5,102.6L378.4,107.1M376.7,103.1L386.7,112.3M403.1,142.9L410.3,146.1M364.9,102.0L372.7,110.0M378.6,50.2L368.8,56.2M446.0,103.7L435.0,108.9M397.4,154.5L408.4,157.7M377.0,138.9L363.0,142.9M382.8,54.2L374.7,54.8M435.9,109.8L427.2,119.6M358.2,84.7L362.9,96.8M391.9,84.7L401.6,88.5M399.8,125.5L407.7,126.2M412.3,136.4L405.0,137.8M421.5,91.9L417.9,104.2M384.1,116.0L377.9,116.7M424.7,146.5L427.9,157.5M362.1,127.1L346.4,127.6M441.8,94.9L427.5,97.7M380.3,85.5L385.1,93.5M403.7,93.9L397.8,94.7M412.8,95.9L396.9,96.0M415.6,124.6L420.4,136.6M362.3,136.5L360.4,144.6M354.4,85.5L360.3,96.7M378.9,98.3L363.6,98.8M346.4,68.0L354.0,71.9M370.3,107.0L361.3,110.3M376.4,99.8L365.5,101.6M403.1,113.5L394.0,124.6M339.9,67.7L352.9,72.1M384.6,102.5L398.5,104.0M414.4,131.8L418.5,145.9M348.8,63.6L353.4,71.7M438.7,97.6L441.8,111.4M381.3,76.9L386.8,87.4M421.2,97.8L410.9,109.2M357.9,119.6L364.0,123.8M436.4,117.4L432.0,126.7M369.6,52.2L355.8,54.4M340.2,111.4L348.0,122.8M350.7,99.8L353.0,107.8M368.9,63.9L374.9,72.4M384.4,120.5L374.1,124.6M349.6,101.9L362.5,108.4M442.2,110.7L445.2,116.3M348.2,132.6L355.0,135.1M435.1,124.1L447.8,124.7M366.0,70.2L372.5,73.1M405.7,131.7L393.9,135.6M425.5,112.4L418.1,122.8M415.0,120.6L415.4,128.5M374.2,80.8L370.2,86.9M420.4,99.5L410.4,102.0M429.3,67.7L432.6,80.9M422.7,156.2L408.9,156.3M355.9,75.4L346.8,81.4M441.1,76.7L427.2,84.5M415.0,65.8L413.7,77.4M362.7,130.9L369.9,133.7M428.5,94.1L428.7,100.2M411.0,87.5L418.7,98.3M411.6,100.7L422.3,103.3M415.5,116.9L424.8,123.5M375.1,115.2L365.1,125.1M343.1,89.7L340.5,98.7M363.2,62.9L366.4,69.1M350.6,121.4L340.6,122.1M365.7,92.1L373.8,92.1M356.1,62.2L343.6,63.3" stroke="#ffffff" stroke-width="0.9" opacity="0.18" fill="none" filter="url(#b05)"/>
<ellipse cx="0" cy="0" rx="36" ry="46" transform="translate(408,104) rotate(-35)" fill="#3464b8" opacity="0.4" filter="url(#b8)"/>
<g fill="#2a78a8" opacity="0.4" filter="url(#b3)"><ellipse cx="366" cy="98" rx="5" ry="4"/><ellipse cx="398" cy="100" rx="5" ry="5"/><ellipse cx="410" cy="112" rx="6" ry="9" transform="rotate(-30 410 112)"/></g>
<path d="M116.0,219.0 C118.0,217.2 119.3,215.6 122.0,214.5 C124.7,213.4 128.3,212.8 132.0,212.5 C135.7,212.2 140.7,212.2 144.0,212.5 C147.3,212.8 149.7,213.1 152.0,214.0 C154.3,214.9 156.3,216.4 158.0,218.0 C159.7,219.6 160.7,222.3 162.0,223.5 C163.3,224.7 164.3,224.8 166.0,225.0 C167.7,225.2 169.7,224.2 172.0,224.5 C174.3,224.8 177.7,225.6 180.0,227.0 C182.3,228.4 184.2,230.2 186.0,233.0 C187.8,235.8 189.2,240.0 190.5,244.0 C191.8,248.0 193.5,252.9 194.1,257.0 C194.7,261.1 194.5,264.8 194.1,268.8 C193.7,272.8 193.3,277.4 191.7,281.0 C190.1,284.6 186.8,287.9 184.4,290.7 C182.0,293.5 177.4,295.6 177.0,298.0 C176.6,300.4 180.1,302.7 182.0,305.4 C183.9,308.1 186.6,310.4 188.5,314.0 C190.4,317.6 192.8,322.4 193.4,327.0 C194.0,331.6 193.2,336.7 192.0,341.5 C190.8,346.3 188.2,352.4 186.0,356.0 C183.8,359.6 181.4,360.9 179.0,363.4 C176.6,365.8 173.0,367.8 171.5,370.7 C170.0,373.6 171.2,377.6 170.0,380.5 C168.8,383.4 166.7,386.0 164.0,388.0 C161.3,390.0 157.7,391.7 154.0,392.7 C150.3,393.7 146.0,393.8 142.0,394.0 C138.0,394.2 133.9,394.3 130.0,394.0 C126.1,393.7 122.8,392.9 118.6,392.3 C114.4,391.7 109.5,391.1 105.0,390.3 C100.5,389.5 95.2,389.3 91.3,387.4 C87.4,385.4 84.1,381.4 81.5,378.6 C78.9,375.8 77.5,374.1 75.6,370.8 C73.6,367.5 71.3,364.2 69.8,359.0 C68.3,353.8 67.3,345.3 66.8,339.5 C66.3,333.7 66.3,329.0 67.0,324.0 C67.7,319.0 69.1,313.2 70.7,309.3 C72.3,305.4 77.4,303.6 76.8,300.7 C76.2,297.8 69.8,294.7 67.0,292.2 C64.2,289.7 61.6,288.6 59.8,285.5 C58.0,282.4 56.6,277.2 56.1,273.3 C55.6,269.4 56.3,265.6 57.0,262.0 C57.7,258.4 59.0,255.3 60.5,252.0 C62.0,248.7 63.6,244.8 66.0,242.0 C68.4,239.2 71.0,237.3 75.0,235.5 C79.0,233.7 85.8,232.2 90.0,231.0 C94.2,229.8 96.7,229.0 100.0,228.0 C103.3,227.0 107.3,226.5 110.0,225.0 C112.7,223.5 114.0,220.8 116.0,219.0 Z" fill="#6086cf" filter="url(#tex3)"/>
<path d="M104.6,252.0L112.8,256.7M136.4,334.7L135.3,340.9M160.1,314.6L154.0,319.6M169.8,291.1L174.1,293.4M157.7,239.5L154.1,246.3M174.9,248.5L169.4,254.9M69.0,332.3L77.7,335.9M64.9,266.6L62.1,273.7M169.3,265.4L176.5,269.0M112.2,329.7L112.4,336.1M118.4,340.6L120.3,348.8M132.0,369.7L129.2,374.9M173.0,347.5L180.5,350.2M147.6,345.5L145.5,351.6M92.2,288.9L86.8,294.9M115.6,293.9L110.0,294.5M82.3,333.4L88.3,340.6M99.3,376.0L102.8,384.6M157.8,343.8L161.7,346.9M145.4,221.7L150.8,226.7M74.5,269.6L80.5,274.9M139.3,338.5L138.2,345.4M138.9,380.2L136.0,386.6M148.6,241.3L142.9,247.9M140.8,272.4L135.7,280.4M177.1,266.3L185.2,270.5M143.2,361.9L138.0,364.2M140.4,265.1L133.9,270.0M89.9,300.7L88.3,305.9M77.9,297.8L84.7,299.4M150.7,340.7L159.2,341.4M81.4,355.6L84.7,360.9M76.3,367.0L83.4,372.9M128.7,236.3L125.3,242.6M161.0,342.1L162.8,346.9M130.8,316.1L126.9,321.8M132.4,341.9L136.6,344.7M126.7,346.7L119.2,352.0M113.7,341.0L119.7,343.1M161.7,278.7L158.1,281.4M109.5,275.1L105.0,277.2M175.2,268.9L169.6,270.6M176.3,246.4L166.9,249.4M181.8,336.6L172.8,339.6M193.0,260.5L185.2,264.5M107.1,242.0L100.6,244.1M129.1,370.7L129.4,376.2M148.1,306.0L153.4,312.2M184.4,254.8L177.3,259.5M129.6,245.1L126.8,250.1M89.2,365.7L92.2,369.1M98.8,281.8L97.6,290.2M112.7,380.0L113.9,387.8M94.2,277.8L99.8,281.2M156.3,325.4L156.9,329.8M171.2,334.8L163.1,340.3M133.8,291.8L135.1,297.3M145.9,227.1L136.7,229.3M174.2,306.8L176.6,313.2M111.8,384.8L102.7,387.1M129.4,302.9L126.2,307.6M93.2,259.3L93.4,263.8M130.3,240.4L126.4,242.7M170.2,258.6L163.3,264.0M125.1,222.7L123.4,232.1M159.2,328.7L168.7,331.5M103.8,383.5L109.0,386.1M82.2,292.8L81.5,298.3M124.8,284.9L128.0,291.0M105.7,281.0L102.1,284.3M100.4,296.7L91.7,300.8M85.2,274.4L90.6,276.3M89.7,251.9L94.5,260.2M127.6,371.6L126.8,380.0M152.2,319.2L144.9,320.9M122.5,253.1L128.7,255.1M114.2,235.9L110.1,236.5M115.7,252.9L118.3,261.6M152.4,372.0L156.3,377.0M113.2,360.6L118.6,368.2M82.5,334.1L80.8,338.0M100.6,362.1L101.9,366.2M120.7,307.4L121.3,313.9M185.0,331.0L186.1,337.5M162.1,251.5L162.6,260.0M167.3,330.7L165.7,334.6M105.0,294.0L107.7,298.8M103.7,253.0L111.0,254.6M113.6,356.9L109.5,362.3M159.5,328.2L152.5,328.4M107.1,308.2L114.4,310.7M75.7,330.2L72.9,337.8M86.4,340.9L76.7,342.7M163.6,239.4L159.8,242.7M187.3,258.4L181.7,260.8M172.3,234.5L165.7,235.7M86.6,293.2L90.8,293.3M125.2,320.7L118.1,320.7M97.7,259.6L107.2,260.3M155.6,257.7L149.7,263.3M148.7,292.7L139.9,296.4M160.1,242.3L161.4,250.1M119.9,224.3L125.4,225.4M152.3,248.7L146.6,254.2M97.5,306.2L93.9,308.3M145.6,348.7L139.6,349.3M141.5,355.2L146.5,362.3M159.0,383.0L160.2,387.4M131.5,334.4L123.3,336.7M135.0,366.1L128.2,369.5M93.7,335.4L89.8,339.8M141.1,371.0L137.2,375.5M92.9,356.3L85.6,362.1M170.1,353.1L173.0,361.1M157.8,358.7L165.5,364.9M135.8,373.1L135.3,381.8M139.3,260.8L139.6,269.8M97.5,377.1L91.7,383.6M130.2,338.1L127.5,344.1M150.2,309.7L152.5,316.7M184.1,325.7L178.9,326.7M143.9,297.3L151.0,299.7M68.9,262.2L73.8,264.6M129.9,237.6L134.0,239.8M155.5,314.8L150.3,320.2M88.8,280.5L92.7,289.2M155.4,359.3L150.8,367.9M179.0,246.9L179.8,254.3M89.4,261.7L84.6,263.5M172.7,295.0L169.1,300.2M149.0,337.5L150.4,343.2M112.8,347.7L118.0,347.9M104.6,336.4L104.4,341.7M180.3,315.8L174.4,317.9M105.9,238.9L101.8,241.9M165.7,358.2L173.3,361.5M156.4,226.1L149.3,232.8M101.7,306.1L103.2,311.3M80.7,332.8L76.0,333.3M91.5,368.4L94.0,371.7M98.2,283.8L99.6,290.2M166.7,247.1L171.7,251.0M145.3,360.6L141.4,363.7M188.5,241.7L181.0,246.9M69.4,279.1L74.7,283.3M165.6,356.8L162.5,359.7M99.0,376.9L93.2,383.2M80.0,237.0L80.2,244.6M138.2,380.0L132.1,381.8M94.1,360.5L94.2,368.1M129.2,294.8L125.1,296.7M118.1,248.1L115.1,256.5M110.5,248.4L119.2,251.9M135.0,380.1L138.8,384.4M81.8,323.8L80.0,332.7M133.3,271.8L141.5,274.6M185.0,269.1L189.0,275.0M107.7,344.2L108.1,351.1M112.9,256.9L103.5,259.2M87.0,278.4L83.1,283.1M114.9,312.5L119.1,317.3M150.7,382.0L159.8,383.9M84.1,359.1L91.2,359.5M120.3,327.8L113.9,332.7M116.2,247.6L110.8,252.0M186.2,271.3L190.0,276.9M98.6,337.0L94.9,339.3M163.1,297.1L155.2,300.2M108.8,279.1L115.3,283.9M171.9,291.7L178.7,294.3M67.1,282.8L71.9,283.3M98.1,270.7L93.1,271.7M172.1,313.2L162.5,314.4M140.3,271.8L143.3,275.9M86.8,320.1L88.7,327.1M153.8,237.1L151.6,241.1M135.5,303.9L136.6,312.7M152.6,249.4L152.7,255.8M106.6,251.2L112.5,256.2M127.2,292.5L122.2,299.8M126.2,239.4L134.4,244.5M117.5,298.7L123.6,303.7M109.4,311.0L107.8,320.3M165.3,377.3L161.1,379.1M139.2,259.0L142.6,265.2M127.6,315.5L128.5,320.0M149.7,248.4L146.1,253.2M107.0,364.9L104.3,368.1M94.7,280.9L99.9,284.9M171.7,325.9L173.2,332.6M72.5,257.6L81.1,258.9M69.5,240.6L71.6,249.2M96.6,280.8L98.1,290.6M136.6,268.0L141.2,275.7M143.2,306.5L146.8,311.6M118.4,358.7L123.4,364.2M82.8,350.0L92.2,352.1M112.8,326.1L119.1,328.3M121.3,351.5L119.8,356.2M67.6,257.6L66.4,262.1M74.7,273.5L80.3,278.7M89.4,247.0L83.9,252.5M159.4,236.0L156.9,241.8M125.0,249.0L117.6,253.8M117.3,275.7L122.3,280.6M99.3,287.8L96.3,296.4M160.6,281.8L166.9,284.2M174.5,280.8L178.6,286.7M138.8,377.8L129.3,380.6M125.9,317.6L120.8,320.4M122.1,234.8L118.0,239.0M90.4,270.5L95.5,277.3M172.3,327.0L173.6,335.0M126.8,320.8L133.0,327.7M100.6,293.1L107.2,295.8M119.0,252.6L116.6,256.9M132.4,293.5L124.1,295.0M141.4,330.2L136.4,337.7M82.4,349.1L76.6,356.4M102.8,351.1L109.1,351.2M84.1,255.5L90.9,257.4M139.9,351.9L142.1,355.5M174.5,272.6L177.7,281.4M75.4,327.7L78.5,334.7M121.8,248.3L114.8,249.6M82.9,291.4L80.0,300.4M115.9,366.0L125.4,366.9M126.0,294.4L122.8,302.2M147.4,377.5L145.4,383.0M109.9,286.0L114.4,289.7M111.8,382.6L103.9,385.4M153.2,256.9L155.4,261.6M170.0,334.2L168.2,337.8M157.0,352.4L156.4,361.0M166.3,325.0L170.3,331.2M180.0,228.8L174.8,231.9M150.7,229.8L152.0,239.7M135.1,297.1L138.6,302.3M144.2,378.1L149.7,380.5M112.0,264.7L103.1,265.5M182.4,344.9L177.0,347.0M99.3,283.4L101.3,289.8M121.5,331.7L115.5,335.0M175.4,245.4L177.6,249.5M170.4,357.6L168.9,363.0M140.9,249.5L145.2,253.3M169.2,264.2L161.9,265.6M76.3,252.8L69.3,252.8M137.5,228.9L132.5,232.7M94.2,326.9L102.3,332.6M142.0,327.5L139.5,334.2M143.8,258.1L146.4,262.8M135.7,312.6L128.9,317.2M177.0,284.6L172.5,286.6M120.1,327.6L125.6,328.0M108.4,339.3L111.0,348.9M149.6,364.0L142.5,364.4M141.3,229.0L140.1,234.4M101.2,308.2L107.8,312.4M96.4,362.1L90.6,362.1" stroke="#ffffff" stroke-width="0.8" opacity="0.16" fill="none" filter="url(#b05)"/>
<ellipse cx="161" cy="380" rx="9" ry="10" fill="#ffffff" opacity="0.22" filter="url(#b2)"/>
<path d="M74.0,301.0 L77.0,301.6 L79.9,302.1 L82.9,302.6 L85.9,303.2 L88.9,303.0 L91.9,303.7 L95.0,303.0 L98.2,302.0 L101.3,303.2 L104.3,304.4 L107.5,303.9 L110.6,304.6 L113.8,302.8 L116.9,303.8 L120.0,304.0M77.0,301.6 L73.9,301.5 L71.3,300.0M85.9,303.2 L85.0,305.6 L85.5,308.3 L84.5,310.7M104.3,304.4 L101.6,302.0M113.8,302.8 L116.6,299.9M135.0,302.0 L137.9,300.9 L141.2,302.3 L144.1,301.7 L146.9,299.9 L150.0,300.0 L153.2,300.9 L156.3,299.6 L159.4,299.7 L162.4,298.3 L165.7,299.8 L168.8,299.0 L172.0,299.4 L175.0,298.0M146.9,299.9 L144.5,302.8M156.3,299.6 L160.4,301.4M120.0,303.0 L120.7,306.4 L118.6,309.3 L118.9,312.6 L118.5,315.7 L116.7,318.7 L117.0,322.0 L116.7,325.3 L116.8,328.7 L116.0,332.0 L115.2,335.3 L116.4,338.8 L115.0,342.0 L113.5,344.9 L115.5,348.1 L113.4,350.9 L112.8,353.9 L114.5,357.1 L113.0,360.0 L111.9,363.1 L112.5,366.4 L111.6,369.6 L112.6,372.9 L111.0,376.0M120.7,306.4 L122.2,308.5 L122.5,311.2 L123.9,313.4M115.2,335.3 L113.1,337.2 L111.7,339.7M113.5,344.9 L114.1,341.4 L113.5,337.9M112.8,353.9 L116.1,352.8M111.9,363.1 L109.8,361.7 L108.5,359.3 L106.1,358.2M86.0,316.0 L88.8,318.2 L91.3,320.7 L94.0,323.0 L96.0,326.0 L98.9,327.5 L101.0,329.8 L102.3,332.9 L104.0,335.6 L107.0,337.0M88.8,318.2 L91.3,319.0 L93.9,319.6 L96.4,320.6M96.0,326.0 L93.0,324.1 L90.1,322.0M102.3,332.9 L104.9,333.1 L107.0,334.6 L109.4,335.5M128.0,316.0 L128.6,319.5 L131.5,322.0 L131.5,325.7 L132.3,329.1 L134.4,332.0 L136.0,335.0 L136.5,338.1 L139.1,340.4 L139.5,343.5 L141.2,346.1 L140.8,349.6 L143.1,352.0 L143.8,355.0M128.6,319.5 L132.2,320.2 L135.8,319.4M132.3,329.1 L129.0,329.4 L125.7,329.6M136.5,338.1 L133.4,340.2M141.2,346.1 L143.8,346.1 L146.4,345.7 L149.0,345.6M94.0,363.0 L97.6,363.9 L101.3,364.6 L104.7,366.2 L108.0,368.0 L110.7,370.0 L113.6,371.6 L117.1,371.8 L120.0,373.5M164.7,337.0 L162.2,339.4 L159.8,341.9 L158.0,345.0M162.2,339.4 L160.9,335.2M164.7,337.0 L167.1,334.6 L170.0,332.8 L172.0,330.0M164.7,337.0 L166.9,339.4 L167.3,342.9 L170.0,345.0M164.7,337.0 L161.6,335.2 L157.7,334.7 L155.0,332.0M168.0,265.0 L164.9,263.1 L162.9,260.0 L160.0,258.0M164.9,263.1 L166.6,260.5 L167.5,257.4M168.0,265.0 L170.4,262.4 L173.6,260.6 L176.0,258.0M168.0,265.0 L165.3,267.6 L164.3,271.2 L162.0,274.0M168.0,265.0 L170.9,267.5 L174.5,268.7 L178.0,270.0M168.0,265.0 L168.0,268.6 L170.0,271.5 L170.9,274.8 L172.0,278.0M168.0,268.6 L169.2,266.4 L170.9,264.3 L171.9,262.0M136.0,217.6 L136.0,220.8 L136.5,223.9 L138.3,226.8 L138.0,230.0 L137.6,233.3 L138.3,236.5 L138.4,239.8 L139.0,243.0 L137.9,246.1 L136.2,248.9 L134.6,251.7 L134.0,255.0M138.4,239.8 L139.5,242.1 L141.1,244.2M136.2,248.9 L134.3,246.3 L133.8,243.2M93.0,250.7 L94.6,254.3 L96.0,258.0 L98.3,261.0 L99.5,264.7M94.6,254.3 L97.6,257.7M118.6,222.7 L122.6,223.1 L126.4,224.2 L130.0,226.0 L133.0,224.9 L136.0,225.9 L139.0,225.7 L142.0,226.3 L145.0,226.0 L148.2,226.0 L151.4,225.0 L154.7,226.5 L157.9,224.1 L161.2,224.9 L164.4,225.0M122.6,223.1 L119.6,225.0M142.0,226.3 L145.1,226.3 L147.9,227.6M161.2,224.9 L159.1,223.2 L156.6,222.5 L154.3,221.1M150.0,255.0 L152.0,258.0 L154.8,260.2 L157.7,262.3 L160.0,265.0M152.0,258.0 L150.0,255.8 L147.2,254.7M145.0,232.0 L145.2,235.7 L147.3,238.6 L149.1,241.6 L150.0,245.0 L148.7,248.3 L150.4,251.9 L149.7,255.3 L148.2,258.6 L148.0,262.0 L146.4,264.9 L146.1,268.4 L143.7,270.9 L141.8,273.6 L141.6,277.1 L140.0,280.0 L138.1,282.5 L136.5,285.2 L134.4,287.5 L131.1,288.9 L130.0,292.0M145.2,235.7 L147.7,235.2 L150.0,234.1 L152.5,233.8M149.7,255.3 L145.8,257.6M141.8,273.6 L141.8,276.4 L140.6,278.9M131.1,288.9 L129.7,292.1 L129.3,295.5M100.0,270.0 L103.3,271.7 L104.9,275.1 L107.9,277.1 L110.0,280.0 L109.5,283.2 L110.3,286.1 L112.1,288.9 L112.0,292.0M103.3,271.7 L105.1,273.7 L106.2,276.1 L107.8,278.2M110.0,280.0 L108.5,277.4 L106.3,275.2M112.1,288.9 L112.4,284.4M75.0,262.0 L78.3,264.1 L81.9,265.7 L85.0,268.0 L87.2,270.8 L88.4,274.0 L90.3,277.0 L92.0,280.0M78.3,264.1 L77.5,261.1 L78.1,258.1M87.2,270.8 L84.6,270.9 L82.3,272.1 L79.9,272.8M167.0,267.0 L163.7,267.7 L161.0,269.8 L157.8,270.3 L154.7,271.3M167.0,267.0 L169.4,264.6 L171.3,261.7 L173.9,260.1 L175.4,257.5M167.0,267.0 L163.8,267.2 L160.7,268.4 L158.7,269.9 L156.7,271.5 L154.9,273.3M167.0,267.0 L162.7,267.8 L158.8,267.5M150.0,355.0 L152.5,353.7 L155.3,354.1 L158.0,354.2 L160.6,353.4M150.0,355.0 L149.6,358.4 L151.0,361.3M150.0,355.0 L147.5,359.3 L147.4,363.8M150.0,355.0 L146.5,355.3 L143.2,355.1M150.0,355.0 L151.6,351.9 L154.5,349.9M100.0,262.0 L103.2,260.2 L106.6,258.1M100.0,262.0 L101.7,264.3 L103.1,266.9 L106.2,267.9 L108.6,270.1M100.0,262.0 L102.8,262.4 L105.2,264.0 L107.6,266.0 L109.8,268.2M100.0,262.0 L99.1,264.7 L97.8,267.2 L95.6,270.9M100.0,262.0 L102.9,263.1 L105.8,264.1 L108.6,266.3 L112.2,267.1M100.0,262.0 L97.1,261.4 L94.5,260.0 L91.8,258.5 L88.6,257.7M136.0,232.0 L139.2,231.3 L142.6,231.0 L145.8,229.6 L149.2,229.6M136.0,232.0 L140.5,232.5 L145.0,230.5M136.0,232.0 L137.7,230.0 L139.5,228.0 L141.7,226.3 L142.7,223.6M136.0,232.0 L137.7,234.2 L140.2,235.4 L144.2,238.1M136.0,232.0 L140.6,230.3 L143.1,229.4 L145.7,230.1M136.0,232.0 L138.1,230.4 L140.4,229.2 L143.8,227.6M88.0,318.0 L87.3,321.5 L86.2,325.0 L84.1,327.8 L82.8,331.1M88.0,318.0 L85.3,321.4 L82.0,323.0M88.0,318.0 L85.9,320.4 L82.7,323.4M88.0,318.0 L89.4,321.0 L92.3,323.3M110.0,376.0 L113.6,376.0 L116.8,377.7 L119.1,378.9 L121.0,380.9 L123.6,381.5M110.0,376.0 L106.4,372.6 L102.7,371.2M110.0,376.0 L112.1,379.1 L114.6,381.8M110.0,376.0 L112.7,373.5 L114.6,370.3M140.0,290.0 L139.7,287.0 L140.0,284.0 L138.7,280.9 L136.7,278.3M140.0,290.0 L138.7,293.0 L139.2,296.0M140.0,290.0 L142.2,287.0 L145.3,283.6M140.0,290.0 L136.1,291.2 L133.7,292.5 L131.8,294.4M78.0,340.0 L78.4,343.3 L79.2,346.6M78.0,340.0 L75.1,343.3 L72.3,347.3M78.0,340.0 L78.0,336.9 L77.3,333.8 L76.4,330.5 L74.2,328.0M78.0,340.0 L75.0,336.1 L74.4,334.3M78.0,340.0 L81.0,341.3 L84.0,342.4 L87.3,342.8 L90.3,341.4M78.0,340.0 L73.5,339.5 L68.9,341.3M160.0,240.0 L162.1,241.4 L164.3,242.8 L165.7,244.9 L167.9,246.3M160.0,240.0 L163.0,241.6 L166.4,242.0 L169.4,244.3 L173.0,245.1M160.0,240.0 L161.5,242.7 L162.1,245.8 L163.2,250.5M160.0,240.0 L162.7,238.0 L165.9,237.1 L170.0,237.8M160.0,240.0 L162.9,241.2 L165.6,242.9 L168.2,244.0 L170.7,245.3M125.0,340.0 L121.4,339.5 L117.9,337.9M125.0,340.0 L123.1,337.0 L122.4,333.5 L123.0,330.2 L123.8,326.8M125.0,340.0 L125.8,335.9 L126.1,331.6M125.0,340.0 L122.7,338.6 L120.0,338.8 L117.9,337.1 L115.4,335.9M125.0,340.0 L124.1,342.5 L124.2,345.1 L124.9,350.0M85.0,280.0 L87.5,277.8 L90.6,275.3M85.0,280.0 L85.4,277.0 L85.0,274.4M85.0,280.0 L87.1,282.3 L90.1,285.0M85.0,280.0 L85.6,277.0 L84.5,273.9M85.0,280.0 L87.8,281.8 L90.2,284.1 L93.0,285.0 L95.1,287.1M178.0,330.0 L176.1,326.2 L174.3,323.9 L172.3,321.8M178.0,330.0 L181.2,330.6 L184.4,330.6M178.0,330.0 L180.2,327.1 L182.6,324.4 L184.2,321.9 L186.0,319.6 L188.0,317.4M178.0,330.0 L180.9,329.5 L183.6,330.4 L186.2,331.5 L188.8,332.4M178.0,330.0 L179.0,333.0 L180.9,335.4 L183.2,338.4 L184.2,342.1M150.0,320.0 L146.2,321.3 L142.3,324.1M150.0,320.0 L152.9,320.9 L155.7,321.8 L159.1,321.7 L162.0,323.4M150.0,320.0 L153.0,321.8 L154.8,324.9 L158.4,328.0M150.0,320.0 L153.4,317.8 L157.3,315.0M150.0,320.0 L146.2,320.9 L142.2,322.6M115.0,250.0 L113.4,252.8 L111.0,255.0 L109.1,257.5 L108.7,260.6M115.0,250.0 L116.3,246.8 L118.7,244.2 L120.6,242.5 L121.6,240.1 L123.1,238.1M115.0,250.0 L118.7,250.9 L122.5,252.7M115.0,250.0 L118.2,247.7 L122.0,244.8M115.0,250.0 L113.4,247.0 L112.2,243.7 L110.4,240.4 L110.3,236.6M115.0,250.0 L112.2,250.1 L109.4,249.6 L106.6,250.6 L103.8,249.9" stroke="#f6f8fd" stroke-width="1.2" fill="none" opacity="0.42" stroke-linejoin="round" filter="url(#b08)"/>
<g fill="#3a8cb4" filter="url(#b2)" opacity="0.5"><ellipse cx="142" cy="316" rx="4" ry="3"/><ellipse cx="104" cy="260" rx="5" ry="3"/><ellipse cx="112" cy="250" rx="3" ry="2"/></g>
<radialGradient id="p4g" gradientUnits="userSpaceOnUse" cx="392" cy="292" r="80" gradientTransform="translate(392 292) scale(0.85 1) translate(-392 -292)"><stop offset="0" stop-color="#e2e2f5"/><stop offset="0.55" stop-color="#dcdcf3"/><stop offset="0.85" stop-color="#d0d0ee"/><stop offset="1" stop-color="#dadaf2"/></radialGradient>
<path d="M393.6,218.0 C385.4,218.5 375.4,223.2 369.0,226.4 C362.6,229.6 359.6,233.2 355.5,237.3 C351.4,241.4 347.7,246.0 344.5,251.0 C341.3,256.0 338.4,261.9 336.4,267.3 C334.4,272.7 333.2,278.2 332.3,283.6 C331.4,289.1 330.8,293.6 331.0,300.0 C331.2,306.4 332.3,315.0 333.6,322.3 C334.9,329.6 336.3,337.2 339.0,344.0 C341.7,350.8 345.4,358.0 350.0,363.2 C354.6,368.4 360.9,372.9 366.4,375.4 C371.8,377.9 376.8,378.0 382.7,378.2 C388.6,378.4 395.9,377.9 401.8,376.8 C407.7,375.7 412.6,374.1 418.0,371.4 C423.4,368.7 429.9,365.0 434.5,360.4 C439.1,355.8 442.2,350.4 445.4,344.0 C448.6,337.6 451.8,329.6 453.6,322.3 C455.4,315.1 456.4,306.9 456.4,300.5 C456.4,294.1 455.0,289.6 453.6,283.6 C452.2,277.6 450.3,270.4 448.0,264.5 C445.7,258.6 443.2,253.4 440.0,248.0 C436.8,242.6 432.7,235.9 429.0,231.8 C425.3,227.7 423.9,225.9 418.0,223.6 C412.1,221.3 401.8,217.5 393.6,218.0 Z" fill="url(#p4g)" filter="url(#tex4)"/>
<g filter="url(#b05)"><rect x="348.3" y="308.0" width="0.8" height="0.8" fill="#8088d0" opacity="0.31"/><rect x="361.1" y="250.3" width="0.7" height="0.7" fill="#6a70c8" opacity="0.16"/><rect x="408.3" y="334.2" width="1.0" height="1.0" fill="#5a62c0" opacity="0.26"/><rect x="340.8" y="298.1" width="0.9" height="0.9" fill="#8088d0" opacity="0.40"/><rect x="378.0" y="334.9" width="0.7" height="0.7" fill="#6a70c8" opacity="0.25"/><rect x="401.5" y="256.6" width="0.9" height="0.9" fill="#6a70c8" opacity="0.39"/><rect x="419.6" y="350.5" width="0.8" height="0.8" fill="#7a80cc" opacity="0.25"/><rect x="337.0" y="260.4" width="0.8" height="0.8" fill="#8088d0" opacity="0.40"/><rect x="352.0" y="266.7" width="0.8" height="0.8" fill="#7a80cc" opacity="0.26"/><rect x="378.6" y="311.4" width="0.8" height="0.8" fill="#6a70c8" opacity="0.30"/><rect x="410.3" y="262.2" width="0.8" height="0.8" fill="#8088d0" opacity="0.37"/><rect x="358.3" y="270.8" width="0.7" height="0.7" fill="#5a62c0" opacity="0.21"/><rect x="363.5" y="276.8" width="0.7" height="0.7" fill="#7a80cc" opacity="0.21"/><rect x="378.8" y="377.2" width="0.7" height="0.7" fill="#6a70c8" opacity="0.22"/><rect x="378.5" y="303.5" width="0.9" height="0.9" fill="#7a80cc" opacity="0.17"/><rect x="426.0" y="335.9" width="0.8" height="0.8" fill="#6a70c8" opacity="0.38"/><rect x="355.4" y="304.2" width="0.7" height="0.7" fill="#6a70c8" opacity="0.30"/><rect x="439.0" y="306.7" width="1.0" height="1.0" fill="#8088d0" opacity="0.30"/><rect x="345.1" y="339.3" width="1.0" height="1.0" fill="#8088d0" opacity="0.36"/><rect x="444.8" y="327.5" width="0.7" height="0.7" fill="#8088d0" opacity="0.16"/><rect x="337.8" y="291.5" width="1.0" height="1.0" fill="#8088d0" opacity="0.37"/><rect x="362.6" y="357.8" width="1.0" height="1.0" fill="#7a80cc" opacity="0.37"/><rect x="351.2" y="336.0" width="0.8" height="0.8" fill="#7a80cc" opacity="0.27"/><rect x="425.9" y="287.6" width="1.0" height="1.0" fill="#8088d0" opacity="0.22"/><rect x="436.6" y="293.2" width="0.7" height="0.7" fill="#5a62c0" opacity="0.37"/><rect x="366.7" y="368.3" width="0.8" height="0.8" fill="#8088d0" opacity="0.26"/><rect x="452.2" y="307.1" width="0.8" height="0.8" fill="#6a70c8" opacity="0.40"/><rect x="366.0" y="264.2" width="0.8" height="0.8" fill="#7a80cc" opacity="0.36"/><rect x="328.8" y="297.8" width="0.8" height="0.8" fill="#6a70c8" opacity="0.25"/><rect x="418.7" y="369.1" width="0.9" height="0.9" fill="#8088d0" opacity="0.23"/><rect x="417.3" y="223.5" width="0.8" height="0.8" fill="#8088d0" opacity="0.40"/><rect x="339.0" y="280.0" width="0.7" height="0.7" fill="#7a80cc" opacity="0.35"/><rect x="449.1" y="321.5" width="0.9" height="0.9" fill="#7a80cc" opacity="0.27"/><rect x="385.5" y="356.8" width="0.7" height="0.7" fill="#6a70c8" opacity="0.30"/><rect x="341.6" y="335.8" width="1.0" height="1.0" fill="#6a70c8" opacity="0.32"/><rect x="439.0" y="317.8" width="1.0" height="1.0" fill="#5a62c0" opacity="0.21"/><rect x="429.4" y="326.8" width="0.9" height="0.9" fill="#7a80cc" opacity="0.33"/><rect x="396.0" y="356.2" width="0.7" height="0.7" fill="#5a62c0" opacity="0.33"/><rect x="371.8" y="227.5" width="1.0" height="1.0" fill="#7a80cc" opacity="0.28"/><rect x="428.1" y="258.7" width="0.8" height="0.8" fill="#7a80cc" opacity="0.21"/><rect x="339.8" y="327.1" width="1.0" height="1.0" fill="#6a70c8" opacity="0.17"/><rect x="351.7" y="348.2" width="0.9" height="0.9" fill="#7a80cc" opacity="0.35"/><rect x="403.9" y="322.9" width="0.8" height="0.8" fill="#5a62c0" opacity="0.38"/><rect x="338.1" y="311.6" width="1.0" height="1.0" fill="#8088d0" opacity="0.28"/><rect x="346.0" y="320.5" width="0.7" height="0.7" fill="#7a80cc" opacity="0.20"/><rect x="339.4" y="314.3" width="0.8" height="0.8" fill="#7a80cc" opacity="0.17"/><rect x="406.1" y="253.5" width="1.0" height="1.0" fill="#7a80cc" opacity="0.28"/><rect x="450.8" y="291.8" width="0.7" height="0.7" fill="#7a80cc" opacity="0.35"/><rect x="343.7" y="331.9" width="0.9" height="0.9" fill="#5a62c0" opacity="0.27"/><rect x="349.6" y="277.3" width="1.0" height="1.0" fill="#7a80cc" opacity="0.33"/><rect x="400.0" y="217.1" width="0.7" height="0.7" fill="#7a80cc" opacity="0.21"/><rect x="380.8" y="307.4" width="1.0" height="1.0" fill="#6a70c8" opacity="0.17"/><rect x="454.6" y="315.7" width="1.0" height="1.0" fill="#7a80cc" opacity="0.36"/><rect x="344.9" y="284.7" width="1.0" height="1.0" fill="#8088d0" opacity="0.22"/><rect x="361.4" y="322.1" width="1.0" height="1.0" fill="#5a62c0" opacity="0.29"/><rect x="379.1" y="367.8" width="0.7" height="0.7" fill="#7a80cc" opacity="0.30"/><rect x="429.1" y="310.1" width="0.9" height="0.9" fill="#6a70c8" opacity="0.35"/><rect x="405.3" y="366.0" width="0.8" height="0.8" fill="#6a70c8" opacity="0.28"/><rect x="436.4" y="335.4" width="0.8" height="0.8" fill="#6a70c8" opacity="0.24"/><rect x="420.0" y="336.2" width="1.0" height="1.0" fill="#8088d0" opacity="0.30"/><rect x="355.9" y="252.2" width="0.8" height="0.8" fill="#5a62c0" opacity="0.33"/><rect x="384.6" y="367.0" width="0.8" height="0.8" fill="#5a62c0" opacity="0.34"/><rect x="447.1" y="266.9" width="0.7" height="0.7" fill="#6a70c8" opacity="0.22"/><rect x="345.6" y="322.6" width="0.9" height="0.9" fill="#6a70c8" opacity="0.34"/><rect x="416.6" y="284.2" width="0.9" height="0.9" fill="#8088d0" opacity="0.27"/><rect x="404.8" y="280.6" width="0.8" height="0.8" fill="#8088d0" opacity="0.26"/><rect x="390.2" y="372.6" width="0.9" height="0.9" fill="#5a62c0" opacity="0.29"/><rect x="340.2" y="303.1" width="0.7" height="0.7" fill="#6a70c8" opacity="0.23"/><rect x="336.7" y="299.9" width="0.8" height="0.8" fill="#7a80cc" opacity="0.24"/><rect x="386.7" y="250.0" width="1.0" height="1.0" fill="#5a62c0" opacity="0.26"/><rect x="394.5" y="347.6" width="0.9" height="0.9" fill="#8088d0" opacity="0.30"/><rect x="433.9" y="246.4" width="0.7" height="0.7" fill="#7a80cc" opacity="0.29"/><rect x="337.5" y="290.3" width="0.9" height="0.9" fill="#5a62c0" opacity="0.32"/><rect x="346.0" y="299.9" width="0.7" height="0.7" fill="#8088d0" opacity="0.34"/><rect x="431.5" y="294.6" width="1.0" height="1.0" fill="#6a70c8" opacity="0.37"/><rect x="433.1" y="295.8" width="0.8" height="0.8" fill="#8088d0" opacity="0.26"/><rect x="372.3" y="378.4" width="0.9" height="0.9" fill="#6a70c8" opacity="0.23"/><rect x="408.1" y="254.9" width="0.9" height="0.9" fill="#7a80cc" opacity="0.30"/><rect x="355.8" y="270.2" width="1.0" height="1.0" fill="#7a80cc" opacity="0.37"/><rect x="362.5" y="308.2" width="0.8" height="0.8" fill="#8088d0" opacity="0.19"/><rect x="387.7" y="358.8" width="0.8" height="0.8" fill="#6a70c8" opacity="0.20"/><rect x="415.9" y="285.3" width="0.9" height="0.9" fill="#5a62c0" opacity="0.30"/><rect x="372.5" y="346.8" width="1.0" height="1.0" fill="#6a70c8" opacity="0.24"/><rect x="381.0" y="348.1" width="0.9" height="0.9" fill="#5a62c0" opacity="0.34"/><rect x="375.7" y="291.3" width="1.0" height="1.0" fill="#6a70c8" opacity="0.23"/><rect x="357.2" y="363.3" width="0.8" height="0.8" fill="#6a70c8" opacity="0.18"/><rect x="373.3" y="275.9" width="0.7" height="0.7" fill="#8088d0" opacity="0.30"/><rect x="421.5" y="315.4" width="0.7" height="0.7" fill="#8088d0" opacity="0.25"/><rect x="362.8" y="248.7" width="0.9" height="0.9" fill="#7a80cc" opacity="0.24"/><rect x="434.4" y="269.8" width="0.8" height="0.8" fill="#7a80cc" opacity="0.40"/><rect x="401.4" y="319.9" width="1.0" height="1.0" fill="#5a62c0" opacity="0.23"/><rect x="444.8" y="348.2" width="0.7" height="0.7" fill="#5a62c0" opacity="0.19"/><rect x="438.2" y="355.5" width="0.9" height="0.9" fill="#7a80cc" opacity="0.34"/><rect x="440.1" y="307.7" width="1.0" height="1.0" fill="#7a80cc" opacity="0.23"/><rect x="436.3" y="272.3" width="0.9" height="0.9" fill="#8088d0" opacity="0.37"/><rect x="406.2" y="274.2" width="0.9" height="0.9" fill="#8088d0" opacity="0.26"/><rect x="359.5" y="267.1" width="0.9" height="0.9" fill="#5a62c0" opacity="0.37"/><rect x="372.6" y="309.5" width="0.8" height="0.8" fill="#6a70c8" opacity="0.37"/><rect x="353.5" y="277.1" width="0.9" height="0.9" fill="#6a70c8" opacity="0.23"/><rect x="359.3" y="324.2" width="0.7" height="0.7" fill="#5a62c0" opacity="0.16"/><rect x="360.7" y="341.4" width="0.8" height="0.8" fill="#7a80cc" opacity="0.20"/><rect x="434.6" y="254.5" width="1.0" height="1.0" fill="#8088d0" opacity="0.17"/><rect x="405.2" y="330.1" width="0.9" height="0.9" fill="#5a62c0" opacity="0.24"/><rect x="347.1" y="289.6" width="0.9" height="0.9" fill="#5a62c0" opacity="0.26"/><rect x="450.7" y="308.4" width="0.7" height="0.7" fill="#8088d0" opacity="0.38"/><rect x="427.9" y="252.9" width="0.8" height="0.8" fill="#6a70c8" opacity="0.29"/><rect x="414.7" y="276.7" width="0.7" height="0.7" fill="#8088d0" opacity="0.35"/><rect x="415.5" y="302.2" width="0.8" height="0.8" fill="#7a80cc" opacity="0.16"/><rect x="341.3" y="298.5" width="1.0" height="1.0" fill="#5a62c0" opacity="0.21"/><rect x="340.9" y="299.0" width="1.0" height="1.0" fill="#6a70c8" opacity="0.23"/><rect x="340.4" y="309.3" width="0.7" height="0.7" fill="#7a80cc" opacity="0.27"/><rect x="399.8" y="216.8" width="1.0" height="1.0" fill="#6a70c8" opacity="0.15"/><rect x="350.7" y="325.5" width="0.9" height="0.9" fill="#8088d0" opacity="0.26"/><rect x="399.8" y="228.1" width="0.9" height="0.9" fill="#6a70c8" opacity="0.29"/><rect x="404.3" y="344.5" width="0.8" height="0.8" fill="#8088d0" opacity="0.20"/><rect x="406.2" y="351.8" width="1.0" height="1.0" fill="#8088d0" opacity="0.40"/><rect x="367.4" y="329.0" width="0.8" height="0.8" fill="#5a62c0" opacity="0.28"/><rect x="344.8" y="275.8" width="0.7" height="0.7" fill="#5a62c0" opacity="0.16"/><rect x="384.3" y="227.9" width="0.8" height="0.8" fill="#6a70c8" opacity="0.16"/><rect x="371.4" y="344.4" width="1.0" height="1.0" fill="#5a62c0" opacity="0.21"/><rect x="434.8" y="259.0" width="0.8" height="0.8" fill="#8088d0" opacity="0.16"/><rect x="428.2" y="345.6" width="0.9" height="0.9" fill="#8088d0" opacity="0.26"/><rect x="414.5" y="325.2" width="1.0" height="1.0" fill="#8088d0" opacity="0.18"/><rect x="355.4" y="293.9" width="0.9" height="0.9" fill="#5a62c0" opacity="0.30"/><rect x="391.1" y="231.3" width="0.8" height="0.8" fill="#5a62c0" opacity="0.32"/><rect x="366.5" y="349.4" width="0.8" height="0.8" fill="#8088d0" opacity="0.20"/><rect x="412.6" y="245.5" width="0.9" height="0.9" fill="#6a70c8" opacity="0.38"/><rect x="351.8" y="363.1" width="0.8" height="0.8" fill="#6a70c8" opacity="0.31"/><rect x="361.0" y="266.7" width="0.9" height="0.9" fill="#6a70c8" opacity="0.36"/><rect x="413.5" y="324.9" width="0.8" height="0.8" fill="#7a80cc" opacity="0.28"/><rect x="451.3" y="269.5" width="1.0" height="1.0" fill="#6a70c8" opacity="0.31"/><rect x="366.4" y="363.6" width="0.8" height="0.8" fill="#7a80cc" opacity="0.36"/><rect x="426.9" y="349.4" width="0.9" height="0.9" fill="#5a62c0" opacity="0.25"/><rect x="351.7" y="344.9" width="0.8" height="0.8" fill="#5a62c0" opacity="0.23"/><rect x="418.5" y="348.3" width="0.7" height="0.7" fill="#6a70c8" opacity="0.35"/><rect x="340.5" y="293.8" width="1.0" height="1.0" fill="#8088d0" opacity="0.16"/><rect x="345.3" y="337.2" width="0.9" height="0.9" fill="#7a80cc" opacity="0.23"/><rect x="398.2" y="333.0" width="0.8" height="0.8" fill="#5a62c0" opacity="0.32"/><rect x="345.8" y="324.8" width="0.8" height="0.8" fill="#6a70c8" opacity="0.19"/><rect x="454.0" y="297.0" width="0.9" height="0.9" fill="#6a70c8" opacity="0.25"/><rect x="432.8" y="256.6" width="1.0" height="1.0" fill="#7a80cc" opacity="0.40"/><rect x="346.3" y="337.8" width="0.8" height="0.8" fill="#8088d0" opacity="0.19"/><rect x="447.1" y="340.3" width="1.0" height="1.0" fill="#8088d0" opacity="0.18"/><rect x="430.6" y="344.4" width="0.8" height="0.8" fill="#6a70c8" opacity="0.27"/><rect x="367.8" y="327.4" width="0.7" height="0.7" fill="#6a70c8" opacity="0.37"/><rect x="385.4" y="320.1" width="1.0" height="1.0" fill="#7a80cc" opacity="0.40"/><rect x="339.9" y="330.2" width="0.7" height="0.7" fill="#7a80cc" opacity="0.29"/><rect x="361.6" y="249.1" width="0.9" height="0.9" fill="#7a80cc" opacity="0.40"/><rect x="336.5" y="319.5" width="0.8" height="0.8" fill="#6a70c8" opacity="0.39"/><rect x="341.5" y="284.9" width="0.7" height="0.7" fill="#5a62c0" opacity="0.17"/><rect x="333.6" y="311.2" width="0.9" height="0.9" fill="#6a70c8" opacity="0.34"/><rect x="357.6" y="299.1" width="0.7" height="0.7" fill="#8088d0" opacity="0.25"/><rect x="442.6" y="305.2" width="1.0" height="1.0" fill="#5a62c0" opacity="0.28"/><rect x="358.6" y="309.6" width="0.9" height="0.9" fill="#6a70c8" opacity="0.22"/><rect x="401.8" y="331.3" width="0.8" height="0.8" fill="#5a62c0" opacity="0.32"/><rect x="405.2" y="320.8" width="0.9" height="0.9" fill="#7a80cc" opacity="0.26"/><rect x="439.9" y="300.7" width="0.9" height="0.9" fill="#7a80cc" opacity="0.16"/><rect x="360.1" y="279.7" width="0.8" height="0.8" fill="#8088d0" opacity="0.25"/><rect x="429.9" y="346.2" width="0.7" height="0.7" fill="#7a80cc" opacity="0.30"/><rect x="363.6" y="342.9" width="1.0" height="1.0" fill="#6a70c8" opacity="0.18"/><rect x="354.3" y="337.4" width="0.7" height="0.7" fill="#8088d0" opacity="0.26"/><rect x="329.2" y="293.3" width="0.7" height="0.7" fill="#5a62c0" opacity="0.21"/><rect x="407.1" y="242.8" width="1.0" height="1.0" fill="#6a70c8" opacity="0.34"/><rect x="420.6" y="335.5" width="0.7" height="0.7" fill="#5a62c0" opacity="0.39"/><rect x="402.3" y="340.7" width="1.0" height="1.0" fill="#6a70c8" opacity="0.36"/><rect x="344.4" y="253.1" width="0.8" height="0.8" fill="#5a62c0" opacity="0.37"/><rect x="367.4" y="359.1" width="0.8" height="0.8" fill="#7a80cc" opacity="0.20"/><rect x="436.0" y="341.6" width="0.8" height="0.8" fill="#5a62c0" opacity="0.18"/><rect x="440.5" y="279.9" width="0.8" height="0.8" fill="#6a70c8" opacity="0.40"/><rect x="370.0" y="235.5" width="0.9" height="0.9" fill="#8088d0" opacity="0.20"/><rect x="425.2" y="313.0" width="1.0" height="1.0" fill="#5a62c0" opacity="0.26"/><rect x="330.8" y="295.4" width="1.0" height="1.0" fill="#7a80cc" opacity="0.27"/><rect x="402.6" y="353.6" width="1.0" height="1.0" fill="#7a80cc" opacity="0.26"/><rect x="433.9" y="315.0" width="1.0" height="1.0" fill="#5a62c0" opacity="0.22"/><rect x="372.1" y="237.4" width="1.0" height="1.0" fill="#5a62c0" opacity="0.18"/><rect x="351.5" y="270.8" width="0.8" height="0.8" fill="#6a70c8" opacity="0.35"/><rect x="433.9" y="257.1" width="0.7" height="0.7" fill="#5a62c0" opacity="0.19"/><rect x="348.9" y="296.4" width="0.7" height="0.7" fill="#7a80cc" opacity="0.39"/><rect x="435.6" y="316.5" width="0.8" height="0.8" fill="#7a80cc" opacity="0.27"/><rect x="420.8" y="249.5" width="0.7" height="0.7" fill="#6a70c8" opacity="0.19"/><rect x="347.1" y="287.2" width="0.7" height="0.7" fill="#5a62c0" opacity="0.40"/><rect x="378.0" y="291.2" width="0.7" height="0.7" fill="#5a62c0" opacity="0.22"/><rect x="445.1" y="337.3" width="0.8" height="0.8" fill="#8088d0" opacity="0.30"/><rect x="446.4" y="285.7" width="0.7" height="0.7" fill="#7a80cc" opacity="0.19"/><rect x="425.1" y="344.7" width="0.7" height="0.7" fill="#8088d0" opacity="0.23"/><rect x="434.5" y="310.1" width="0.9" height="0.9" fill="#6a70c8" opacity="0.31"/><rect x="336.6" y="330.0" width="0.8" height="0.8" fill="#6a70c8" opacity="0.25"/><rect x="371.7" y="367.6" width="0.9" height="0.9" fill="#6a70c8" opacity="0.26"/><rect x="355.3" y="303.7" width="1.0" height="1.0" fill="#6a70c8" opacity="0.16"/><rect x="354.1" y="285.7" width="0.7" height="0.7" fill="#5a62c0" opacity="0.16"/><rect x="338.8" y="288.6" width="0.7" height="0.7" fill="#6a70c8" opacity="0.32"/><rect x="440.2" y="340.2" width="0.7" height="0.7" fill="#7a80cc" opacity="0.21"/><rect x="384.6" y="372.3" width="0.9" height="0.9" fill="#8088d0" opacity="0.17"/><rect x="400.3" y="338.3" width="0.8" height="0.8" fill="#7a80cc" opacity="0.35"/><rect x="440.4" y="275.2" width="0.8" height="0.8" fill="#6a70c8" opacity="0.36"/><rect x="356.5" y="302.9" width="0.7" height="0.7" fill="#7a80cc" opacity="0.35"/><rect x="339.5" y="319.4" width="1.0" height="1.0" fill="#8088d0" opacity="0.35"/><rect x="345.6" y="334.5" width="0.7" height="0.7" fill="#7a80cc" opacity="0.17"/><rect x="416.6" y="331.2" width="1.0" height="1.0" fill="#8088d0" opacity="0.20"/><rect x="337.8" y="311.6" width="1.0" height="1.0" fill="#5a62c0" opacity="0.17"/><rect x="342.1" y="301.4" width="1.0" height="1.0" fill="#6a70c8" opacity="0.21"/><rect x="449.9" y="321.9" width="0.8" height="0.8" fill="#8088d0" opacity="0.38"/><rect x="354.0" y="290.1" width="0.8" height="0.8" fill="#6a70c8" opacity="0.32"/><rect x="367.0" y="332.0" width="0.8" height="0.8" fill="#7a80cc" opacity="0.40"/><rect x="411.5" y="326.9" width="0.9" height="0.9" fill="#5a62c0" opacity="0.24"/><rect x="445.5" y="281.6" width="0.9" height="0.9" fill="#6a70c8" opacity="0.21"/><rect x="441.0" y="304.0" width="0.9" height="0.9" fill="#5a62c0" opacity="0.21"/><rect x="428.5" y="335.4" width="0.9" height="0.9" fill="#5a62c0" opacity="0.39"/><rect x="371.1" y="291.4" width="0.8" height="0.8" fill="#5a62c0" opacity="0.23"/><rect x="339.6" y="324.8" width="0.8" height="0.8" fill="#8088d0" opacity="0.26"/><rect x="345.0" y="296.3" width="0.8" height="0.8" fill="#6a70c8" opacity="0.39"/><rect x="451.4" y="325.8" width="0.7" height="0.7" fill="#7a80cc" opacity="0.40"/><rect x="365.2" y="371.7" width="0.7" height="0.7" fill="#7a80cc" opacity="0.16"/><rect x="437.3" y="320.8" width="0.9" height="0.9" fill="#8088d0" opacity="0.38"/><rect x="410.0" y="282.9" width="0.8" height="0.8" fill="#6a70c8" opacity="0.32"/><rect x="448.9" y="332.4" width="0.8" height="0.8" fill="#5a62c0" opacity="0.38"/><rect x="437.8" y="244.1" width="1.0" height="1.0" fill="#5a62c0" opacity="0.38"/><rect x="403.5" y="295.4" width="0.8" height="0.8" fill="#6a70c8" opacity="0.15"/><rect x="389.1" y="361.5" width="0.9" height="0.9" fill="#5a62c0" opacity="0.26"/><rect x="401.6" y="375.0" width="0.8" height="0.8" fill="#7a80cc" opacity="0.21"/><rect x="336.7" y="305.6" width="0.8" height="0.8" fill="#5a62c0" opacity="0.30"/><rect x="348.3" y="275.0" width="0.9" height="0.9" fill="#7a80cc" opacity="0.17"/><rect x="338.1" y="294.6" width="0.7" height="0.7" fill="#7a80cc" opacity="0.29"/><rect x="445.9" y="326.0" width="0.8" height="0.8" fill="#6a70c8" opacity="0.25"/><rect x="432.8" y="295.5" width="0.7" height="0.7" fill="#8088d0" opacity="0.40"/><rect x="344.3" y="325.7" width="0.8" height="0.8" fill="#8088d0" opacity="0.38"/><rect x="334.2" y="273.3" width="0.7" height="0.7" fill="#6a70c8" opacity="0.27"/><rect x="420.4" y="288.6" width="0.8" height="0.8" fill="#8088d0" opacity="0.24"/><rect x="382.8" y="221.7" width="0.7" height="0.7" fill="#7a80cc" opacity="0.33"/><rect x="363.1" y="280.4" width="1.0" height="1.0" fill="#5a62c0" opacity="0.39"/><rect x="421.9" y="313.7" width="0.9" height="0.9" fill="#7a80cc" opacity="0.19"/><rect x="363.9" y="352.4" width="1.0" height="1.0" fill="#5a62c0" opacity="0.30"/><rect x="422.6" y="256.5" width="1.0" height="1.0" fill="#6a70c8" opacity="0.26"/><rect x="350.8" y="272.6" width="0.7" height="0.7" fill="#7a80cc" opacity="0.25"/><rect x="427.8" y="229.1" width="1.0" height="1.0" fill="#8088d0" opacity="0.30"/><rect x="393.7" y="369.2" width="0.8" height="0.8" fill="#8088d0" opacity="0.26"/><rect x="340.2" y="300.9" width="0.8" height="0.8" fill="#8088d0" opacity="0.28"/><rect x="428.1" y="294.7" width="0.9" height="0.9" fill="#7a80cc" opacity="0.29"/><rect x="344.6" y="332.2" width="0.7" height="0.7" fill="#6a70c8" opacity="0.24"/><rect x="354.1" y="294.4" width="1.0" height="1.0" fill="#8088d0" opacity="0.22"/><rect x="346.1" y="273.9" width="0.7" height="0.7" fill="#5a62c0" opacity="0.27"/><rect x="383.5" y="353.0" width="0.7" height="0.7" fill="#7a80cc" opacity="0.30"/><rect x="382.1" y="306.8" width="0.7" height="0.7" fill="#8088d0" opacity="0.24"/><rect x="374.8" y="249.8" width="0.8" height="0.8" fill="#7a80cc" opacity="0.35"/><rect x="425.5" y="360.9" width="0.8" height="0.8" fill="#6a70c8" opacity="0.38"/><rect x="439.8" y="304.6" width="1.0" height="1.0" fill="#6a70c8" opacity="0.39"/><rect x="415.2" y="331.3" width="1.0" height="1.0" fill="#5a62c0" opacity="0.21"/><rect x="346.8" y="258.8" width="0.8" height="0.8" fill="#6a70c8" opacity="0.26"/><rect x="356.7" y="322.5" width="0.7" height="0.7" fill="#5a62c0" opacity="0.39"/><rect x="361.5" y="259.2" width="0.9" height="0.9" fill="#6a70c8" opacity="0.16"/><rect x="430.6" y="356.5" width="0.7" height="0.7" fill="#7a80cc" opacity="0.28"/><rect x="376.4" y="338.1" width="0.9" height="0.9" fill="#6a70c8" opacity="0.23"/><rect x="401.1" y="251.6" width="1.0" height="1.0" fill="#6a70c8" opacity="0.16"/><rect x="392.6" y="256.8" width="0.9" height="0.9" fill="#7a80cc" opacity="0.26"/><rect x="413.1" y="222.8" width="1.0" height="1.0" fill="#8088d0" opacity="0.27"/><rect x="356.2" y="275.3" width="0.7" height="0.7" fill="#7a80cc" opacity="0.20"/><rect x="443.9" y="293.9" width="0.9" height="0.9" fill="#5a62c0" opacity="0.22"/><rect x="398.8" y="282.2" width="0.7" height="0.7" fill="#8088d0" opacity="0.39"/><rect x="420.8" y="289.6" width="0.7" height="0.7" fill="#6a70c8" opacity="0.15"/><rect x="396.4" y="372.3" width="1.0" height="1.0" fill="#6a70c8" opacity="0.17"/><rect x="363.6" y="285.1" width="1.0" height="1.0" fill="#6a70c8" opacity="0.25"/><rect x="367.0" y="266.2" width="1.0" height="1.0" fill="#8088d0" opacity="0.37"/><rect x="399.2" y="311.6" width="0.9" height="0.9" fill="#8088d0" opacity="0.20"/><rect x="448.9" y="272.2" width="0.8" height="0.8" fill="#5a62c0" opacity="0.21"/><rect x="364.7" y="306.6" width="0.7" height="0.7" fill="#5a62c0" opacity="0.29"/><rect x="341.3" y="340.8" width="1.0" height="1.0" fill="#5a62c0" opacity="0.17"/><rect x="342.9" y="346.1" width="0.8" height="0.8" fill="#8088d0" opacity="0.16"/><rect x="349.8" y="333.9" width="0.9" height="0.9" fill="#5a62c0" opacity="0.29"/><rect x="393.3" y="367.4" width="0.8" height="0.8" fill="#6a70c8" opacity="0.18"/><rect x="348.7" y="289.9" width="1.0" height="1.0" fill="#8088d0" opacity="0.22"/><rect x="411.9" y="249.2" width="0.7" height="0.7" fill="#8088d0" opacity="0.27"/><rect x="352.8" y="282.5" width="0.9" height="0.9" fill="#5a62c0" opacity="0.26"/><rect x="417.0" y="338.7" width="0.9" height="0.9" fill="#7a80cc" opacity="0.24"/><rect x="405.7" y="322.1" width="0.7" height="0.7" fill="#7a80cc" opacity="0.22"/><rect x="339.6" y="301.7" width="0.9" height="0.9" fill="#5a62c0" opacity="0.20"/><rect x="375.0" y="234.8" width="0.8" height="0.8" fill="#8088d0" opacity="0.33"/><rect x="382.3" y="356.7" width="0.8" height="0.8" fill="#5a62c0" opacity="0.19"/><rect x="430.3" y="289.7" width="1.0" height="1.0" fill="#7a80cc" opacity="0.36"/><rect x="440.6" y="270.6" width="0.9" height="0.9" fill="#5a62c0" opacity="0.20"/><rect x="446.4" y="314.0" width="0.7" height="0.7" fill="#6a70c8" opacity="0.23"/><rect x="344.3" y="264.9" width="1.0" height="1.0" fill="#6a70c8" opacity="0.35"/><rect x="380.9" y="293.4" width="0.9" height="0.9" fill="#6a70c8" opacity="0.27"/><rect x="378.6" y="359.4" width="0.9" height="0.9" fill="#6a70c8" opacity="0.21"/><rect x="382.7" y="339.7" width="0.9" height="0.9" fill="#8088d0" opacity="0.30"/><rect x="348.0" y="307.0" width="1.0" height="1.0" fill="#7a80cc" opacity="0.25"/><rect x="353.3" y="331.7" width="0.8" height="0.8" fill="#5a62c0" opacity="0.16"/><rect x="366.4" y="272.0" width="1.0" height="1.0" fill="#5a62c0" opacity="0.34"/><rect x="353.9" y="309.7" width="0.8" height="0.8" fill="#6a70c8" opacity="0.18"/><rect x="356.8" y="289.8" width="0.9" height="0.9" fill="#6a70c8" opacity="0.37"/><rect x="329.5" y="291.2" width="0.7" height="0.7" fill="#6a70c8" opacity="0.37"/><rect x="351.6" y="270.5" width="0.8" height="0.8" fill="#6a70c8" opacity="0.27"/><rect x="438.4" y="265.9" width="1.0" height="1.0" fill="#5a62c0" opacity="0.40"/><rect x="439.0" y="273.9" width="0.8" height="0.8" fill="#6a70c8" opacity="0.21"/><rect x="330.2" y="288.6" width="0.8" height="0.8" fill="#7a80cc" opacity="0.34"/><rect x="415.2" y="323.8" width="0.8" height="0.8" fill="#8088d0" opacity="0.31"/><rect x="391.7" y="251.7" width="0.7" height="0.7" fill="#6a70c8" opacity="0.37"/><rect x="348.2" y="337.0" width="0.7" height="0.7" fill="#7a80cc" opacity="0.30"/><rect x="389.2" y="335.3" width="0.9" height="0.9" fill="#7a80cc" opacity="0.32"/><rect x="420.2" y="323.2" width="0.9" height="0.9" fill="#5a62c0" opacity="0.29"/><rect x="369.6" y="278.3" width="0.8" height="0.8" fill="#8088d0" opacity="0.20"/><rect x="398.8" y="228.5" width="0.7" height="0.7" fill="#7a80cc" opacity="0.22"/><rect x="414.4" y="239.3" width="0.8" height="0.8" fill="#7a80cc" opacity="0.26"/><rect x="357.3" y="321.4" width="0.7" height="0.7" fill="#8088d0" opacity="0.15"/><rect x="364.2" y="377.0" width="0.9" height="0.9" fill="#6a70c8" opacity="0.26"/><rect x="378.6" y="365.0" width="0.9" height="0.9" fill="#6a70c8" opacity="0.38"/><rect x="427.7" y="306.8" width="0.7" height="0.7" fill="#7a80cc" opacity="0.31"/><rect x="421.5" y="266.9" width="0.7" height="0.7" fill="#8088d0" opacity="0.37"/><rect x="443.1" y="318.2" width="0.9" height="0.9" fill="#8088d0" opacity="0.20"/><rect x="420.9" y="365.7" width="0.9" height="0.9" fill="#6a70c8" opacity="0.18"/><rect x="348.2" y="307.0" width="1.0" height="1.0" fill="#7a80cc" opacity="0.35"/><rect x="417.2" y="345.8" width="1.0" height="1.0" fill="#5a62c0" opacity="0.23"/><rect x="341.0" y="310.6" width="0.8" height="0.8" fill="#7a80cc" opacity="0.30"/><rect x="421.3" y="359.3" width="0.9" height="0.9" fill="#6a70c8" opacity="0.24"/><rect x="392.4" y="339.9" width="0.9" height="0.9" fill="#6a70c8" opacity="0.16"/><rect x="363.9" y="257.6" width="0.8" height="0.8" fill="#6a70c8" opacity="0.19"/><rect x="367.7" y="261.9" width="0.8" height="0.8" fill="#6a70c8" opacity="0.32"/><rect x="361.1" y="261.7" width="1.0" height="1.0" fill="#5a62c0" opacity="0.27"/><rect x="416.1" y="283.9" width="0.8" height="0.8" fill="#5a62c0" opacity="0.30"/><rect x="379.8" y="353.2" width="0.9" height="0.9" fill="#8088d0" opacity="0.39"/><rect x="406.6" y="281.7" width="1.0" height="1.0" fill="#6a70c8" opacity="0.39"/><rect x="421.1" y="317.2" width="0.9" height="0.9" fill="#5a62c0" opacity="0.24"/><rect x="417.9" y="277.8" width="0.8" height="0.8" fill="#8088d0" opacity="0.19"/><rect x="387.8" y="237.4" width="0.9" height="0.9" fill="#8088d0" opacity="0.20"/><rect x="427.5" y="294.0" width="0.8" height="0.8" fill="#8088d0" opacity="0.35"/><rect x="410.7" y="360.3" width="0.8" height="0.8" fill="#8088d0" opacity="0.30"/><rect x="410.4" y="313.0" width="1.0" height="1.0" fill="#8088d0" opacity="0.36"/><rect x="365.0" y="300.6" width="0.8" height="0.8" fill="#7a80cc" opacity="0.18"/><rect x="359.6" y="332.6" width="0.9" height="0.9" fill="#5a62c0" opacity="0.27"/><rect x="337.4" y="285.6" width="0.7" height="0.7" fill="#6a70c8" opacity="0.24"/><rect x="365.0" y="302.9" width="1.0" height="1.0" fill="#5a62c0" opacity="0.23"/><rect x="404.3" y="241.8" width="1.0" height="1.0" fill="#6a70c8" opacity="0.17"/><rect x="393.5" y="236.1" width="1.0" height="1.0" fill="#8088d0" opacity="0.23"/><rect x="435.1" y="307.2" width="0.8" height="0.8" fill="#5a62c0" opacity="0.31"/><rect x="397.0" y="229.9" width="0.9" height="0.9" fill="#6a70c8" opacity="0.19"/><rect x="364.7" y="254.2" width="0.8" height="0.8" fill="#5a62c0" opacity="0.40"/><rect x="405.5" y="232.6" width="1.0" height="1.0" fill="#8088d0" opacity="0.17"/><rect x="404.0" y="310.9" width="0.9" height="0.9" fill="#6a70c8" opacity="0.26"/><rect x="345.8" y="308.7" width="0.9" height="0.9" fill="#6a70c8" opacity="0.36"/><rect x="447.8" y="333.6" width="0.9" height="0.9" fill="#7a80cc" opacity="0.25"/><rect x="364.8" y="294.2" width="0.9" height="0.9" fill="#6a70c8" opacity="0.32"/><rect x="414.4" y="314.2" width="1.0" height="1.0" fill="#6a70c8" opacity="0.39"/><rect x="341.5" y="306.0" width="1.0" height="1.0" fill="#7a80cc" opacity="0.31"/><rect x="425.4" y="343.7" width="0.7" height="0.7" fill="#6a70c8" opacity="0.37"/><rect x="421.9" y="313.7" width="0.8" height="0.8" fill="#6a70c8" opacity="0.30"/><rect x="418.7" y="258.7" width="0.7" height="0.7" fill="#5a62c0" opacity="0.15"/><rect x="375.3" y="352.2" width="1.0" height="1.0" fill="#6a70c8" opacity="0.35"/><rect x="430.8" y="366.1" width="0.8" height="0.8" fill="#6a70c8" opacity="0.26"/><rect x="444.5" y="267.1" width="0.7" height="0.7" fill="#8088d0" opacity="0.17"/><rect x="396.0" y="368.4" width="0.8" height="0.8" fill="#8088d0" opacity="0.17"/><rect x="350.0" y="330.0" width="0.7" height="0.7" fill="#8088d0" opacity="0.32"/><rect x="364.5" y="347.4" width="0.9" height="0.9" fill="#6a70c8" opacity="0.15"/><rect x="420.2" y="340.7" width="1.0" height="1.0" fill="#6a70c8" opacity="0.24"/><rect x="437.2" y="311.9" width="0.8" height="0.8" fill="#5a62c0" opacity="0.19"/><rect x="366.0" y="372.9" width="0.8" height="0.8" fill="#8088d0" opacity="0.37"/><rect x="401.3" y="256.1" width="1.0" height="1.0" fill="#6a70c8" opacity="0.30"/><rect x="432.0" y="336.3" width="0.8" height="0.8" fill="#5a62c0" opacity="0.25"/><rect x="347.0" y="293.5" width="0.9" height="0.9" fill="#6a70c8" opacity="0.38"/><rect x="444.4" y="264.8" width="0.8" height="0.8" fill="#7a80cc" opacity="0.26"/><rect x="358.9" y="253.7" width="0.9" height="0.9" fill="#5a62c0" opacity="0.31"/><rect x="413.3" y="312.0" width="0.9" height="0.9" fill="#6a70c8" opacity="0.26"/><rect x="373.2" y="233.3" width="0.9" height="0.9" fill="#7a80cc" opacity="0.19"/><rect x="393.0" y="270.0" width="1.0" height="1.0" fill="#5a62c0" opacity="0.29"/><rect x="402.2" y="284.6" width="1.0" height="1.0" fill="#6a70c8" opacity="0.37"/><rect x="362.2" y="244.2" width="0.7" height="0.7" fill="#8088d0" opacity="0.33"/><rect x="411.8" y="246.0" width="1.0" height="1.0" fill="#8088d0" opacity="0.32"/><rect x="373.2" y="291.5" width="1.0" height="1.0" fill="#7a80cc" opacity="0.36"/><rect x="363.5" y="242.4" width="0.9" height="0.9" fill="#7a80cc" opacity="0.24"/><rect x="430.9" y="300.6" width="1.0" height="1.0" fill="#5a62c0" opacity="0.22"/><rect x="339.3" y="326.8" width="0.8" height="0.8" fill="#5a62c0" opacity="0.21"/><rect x="378.8" y="355.1" width="0.9" height="0.9" fill="#5a62c0" opacity="0.17"/><rect x="434.8" y="252.6" width="0.8" height="0.8" fill="#7a80cc" opacity="0.34"/><rect x="391.6" y="336.7" width="1.0" height="1.0" fill="#5a62c0" opacity="0.36"/><rect x="441.2" y="290.9" width="0.9" height="0.9" fill="#5a62c0" opacity="0.17"/><rect x="377.7" y="288.8" width="0.8" height="0.8" fill="#7a80cc" opacity="0.33"/><rect x="350.3" y="299.0" width="0.9" height="0.9" fill="#6a70c8" opacity="0.31"/><rect x="377.6" y="328.6" width="0.8" height="0.8" fill="#8088d0" opacity="0.28"/><rect x="415.6" y="372.0" width="0.7" height="0.7" fill="#8088d0" opacity="0.17"/><rect x="398.1" y="336.5" width="0.7" height="0.7" fill="#7a80cc" opacity="0.27"/><rect x="364.2" y="368.4" width="0.7" height="0.7" fill="#8088d0" opacity="0.16"/><rect x="343.7" y="256.7" width="0.8" height="0.8" fill="#7a80cc" opacity="0.23"/><rect x="432.8" y="245.1" width="0.9" height="0.9" fill="#7a80cc" opacity="0.28"/><rect x="372.6" y="298.5" width="1.0" height="1.0" fill="#6a70c8" opacity="0.35"/><rect x="414.0" y="270.6" width="0.7" height="0.7" fill="#6a70c8" opacity="0.37"/><rect x="388.1" y="373.3" width="1.0" height="1.0" fill="#5a62c0" opacity="0.15"/><rect x="444.3" y="280.9" width="0.8" height="0.8" fill="#6a70c8" opacity="0.27"/><rect x="381.7" y="359.4" width="0.9" height="0.9" fill="#8088d0" opacity="0.37"/><rect x="332.5" y="273.1" width="1.0" height="1.0" fill="#6a70c8" opacity="0.24"/><rect x="353.9" y="310.6" width="0.8" height="0.8" fill="#8088d0" opacity="0.37"/><rect x="415.2" y="260.3" width="1.0" height="1.0" fill="#8088d0" opacity="0.27"/><rect x="437.3" y="284.7" width="0.7" height="0.7" fill="#5a62c0" opacity="0.27"/><rect x="355.2" y="279.8" width="1.0" height="1.0" fill="#6a70c8" opacity="0.18"/><rect x="341.4" y="295.1" width="0.7" height="0.7" fill="#6a70c8" opacity="0.30"/><rect x="429.3" y="258.9" width="0.9" height="0.9" fill="#6a70c8" opacity="0.16"/><rect x="406.5" y="312.3" width="0.8" height="0.8" fill="#5a62c0" opacity="0.25"/><rect x="420.5" y="285.7" width="0.7" height="0.7" fill="#8088d0" opacity="0.16"/><rect x="420.4" y="228.1" width="0.7" height="0.7" fill="#5a62c0" opacity="0.29"/><rect x="375.9" y="369.3" width="0.8" height="0.8" fill="#5a62c0" opacity="0.19"/><rect x="364.6" y="281.3" width="0.8" height="0.8" fill="#7a80cc" opacity="0.37"/><rect x="421.6" y="350.4" width="0.8" height="0.8" fill="#5a62c0" opacity="0.18"/><rect x="375.2" y="266.2" width="0.8" height="0.8" fill="#5a62c0" opacity="0.28"/><rect x="347.9" y="280.5" width="0.7" height="0.7" fill="#8088d0" opacity="0.23"/><rect x="447.3" y="340.1" width="1.0" height="1.0" fill="#8088d0" opacity="0.27"/><rect x="365.2" y="234.5" width="0.7" height="0.7" fill="#7a80cc" opacity="0.28"/><rect x="408.9" y="365.5" width="0.9" height="0.9" fill="#5a62c0" opacity="0.29"/><rect x="340.8" y="322.1" width="0.8" height="0.8" fill="#5a62c0" opacity="0.39"/><rect x="362.1" y="267.6" width="0.7" height="0.7" fill="#5a62c0" opacity="0.30"/><rect x="340.2" y="320.8" width="0.9" height="0.9" fill="#5a62c0" opacity="0.17"/><rect x="437.3" y="289.7" width="0.9" height="0.9" fill="#5a62c0" opacity="0.19"/><rect x="447.7" y="331.5" width="0.8" height="0.8" fill="#8088d0" opacity="0.17"/><rect x="442.6" y="299.1" width="0.8" height="0.8" fill="#5a62c0" opacity="0.24"/><rect x="397.7" y="346.2" width="1.0" height="1.0" fill="#7a80cc" opacity="0.20"/><rect x="342.8" y="309.1" width="0.8" height="0.8" fill="#7a80cc" opacity="0.30"/><rect x="367.1" y="239.4" width="1.0" height="1.0" fill="#8088d0" opacity="0.27"/><rect x="363.8" y="311.1" width="0.8" height="0.8" fill="#6a70c8" opacity="0.24"/><rect x="349.4" y="257.6" width="0.7" height="0.7" fill="#6a70c8" opacity="0.32"/><rect x="397.2" y="348.1" width="0.7" height="0.7" fill="#8088d0" opacity="0.38"/><rect x="364.9" y="301.1" width="1.0" height="1.0" fill="#5a62c0" opacity="0.21"/><rect x="442.7" y="316.6" width="0.9" height="0.9" fill="#8088d0" opacity="0.32"/><rect x="403.6" y="365.1" width="0.7" height="0.7" fill="#5a62c0" opacity="0.21"/><rect x="408.7" y="279.1" width="0.7" height="0.7" fill="#7a80cc" opacity="0.37"/><rect x="401.8" y="367.1" width="1.0" height="1.0" fill="#7a80cc" opacity="0.15"/><rect x="422.3" y="230.2" width="0.8" height="0.8" fill="#7a80cc" opacity="0.31"/><rect x="369.7" y="344.9" width="0.9" height="0.9" fill="#8088d0" opacity="0.20"/><rect x="350.9" y="354.2" width="0.8" height="0.8" fill="#8088d0" opacity="0.33"/><rect x="392.8" y="350.5" width="1.0" height="1.0" fill="#8088d0" opacity="0.28"/><rect x="349.9" y="345.8" width="0.9" height="0.9" fill="#5a62c0" opacity="0.26"/><rect x="430.2" y="245.2" width="0.9" height="0.9" fill="#5a62c0" opacity="0.33"/><rect x="399.4" y="240.7" width="1.0" height="1.0" fill="#6a70c8" opacity="0.26"/><rect x="416.5" y="350.2" width="0.8" height="0.8" fill="#5a62c0" opacity="0.28"/><rect x="355.7" y="271.6" width="1.0" height="1.0" fill="#8088d0" opacity="0.27"/><rect x="416.4" y="257.0" width="0.7" height="0.7" fill="#7a80cc" opacity="0.30"/><rect x="423.3" y="338.7" width="0.8" height="0.8" fill="#7a80cc" opacity="0.23"/><rect x="372.1" y="349.8" width="0.7" height="0.7" fill="#8088d0" opacity="0.26"/><rect x="343.0" y="315.8" width="0.9" height="0.9" fill="#8088d0" opacity="0.21"/><rect x="411.3" y="248.0" width="0.9" height="0.9" fill="#8088d0" opacity="0.28"/><rect x="356.7" y="351.2" width="0.8" height="0.8" fill="#6a70c8" opacity="0.34"/><rect x="328.7" y="300.3" width="0.8" height="0.8" fill="#7a80cc" opacity="0.37"/><rect x="387.1" y="361.4" width="0.7" height="0.7" fill="#5a62c0" opacity="0.29"/><rect x="341.5" y="327.5" width="1.0" height="1.0" fill="#6a70c8" opacity="0.31"/><rect x="422.9" y="333.0" width="0.9" height="0.9" fill="#7a80cc" opacity="0.20"/><rect x="354.6" y="315.6" width="0.7" height="0.7" fill="#7a80cc" opacity="0.23"/><rect x="368.1" y="326.1" width="0.8" height="0.8" fill="#7a80cc" opacity="0.19"/><rect x="387.5" y="349.6" width="0.8" height="0.8" fill="#8088d0" opacity="0.17"/><rect x="364.7" y="331.5" width="0.7" height="0.7" fill="#8088d0" opacity="0.17"/><rect x="400.0" y="362.4" width="1.0" height="1.0" fill="#7a80cc" opacity="0.22"/><rect x="383.5" y="277.5" width="0.8" height="0.8" fill="#8088d0" opacity="0.23"/><rect x="411.3" y="336.2" width="0.7" height="0.7" fill="#7a80cc" opacity="0.32"/><rect x="340.2" y="292.9" width="0.9" height="0.9" fill="#6a70c8" opacity="0.32"/><rect x="389.6" y="352.8" width="0.9" height="0.9" fill="#7a80cc" opacity="0.27"/><rect x="423.4" y="352.9" width="0.7" height="0.7" fill="#6a70c8" opacity="0.22"/><rect x="441.2" y="338.5" width="0.9" height="0.9" fill="#7a80cc" opacity="0.35"/><rect x="359.1" y="293.5" width="0.7" height="0.7" fill="#5a62c0" opacity="0.17"/><rect x="357.4" y="353.2" width="1.0" height="1.0" fill="#8088d0" opacity="0.26"/><rect x="343.6" y="336.7" width="1.0" height="1.0" fill="#7a80cc" opacity="0.22"/><rect x="339.8" y="295.6" width="0.7" height="0.7" fill="#8088d0" opacity="0.22"/><rect x="434.9" y="281.9" width="0.8" height="0.8" fill="#8088d0" opacity="0.20"/><rect x="361.5" y="370.7" width="0.8" height="0.8" fill="#5a62c0" opacity="0.33"/><rect x="358.2" y="235.0" width="0.7" height="0.7" fill="#8088d0" opacity="0.39"/><rect x="420.7" y="307.9" width="0.7" height="0.7" fill="#7a80cc" opacity="0.31"/><rect x="428.7" y="251.9" width="0.7" height="0.7" fill="#8088d0" opacity="0.33"/><rect x="412.7" y="365.1" width="0.8" height="0.8" fill="#5a62c0" opacity="0.39"/><rect x="403.0" y="351.0" width="1.0" height="1.0" fill="#6a70c8" opacity="0.39"/><rect x="435.8" y="270.9" width="1.0" height="1.0" fill="#8088d0" opacity="0.39"/><rect x="351.3" y="308.4" width="0.9" height="0.9" fill="#8088d0" opacity="0.39"/><rect x="382.7" y="229.2" width="1.0" height="1.0" fill="#7a80cc" opacity="0.36"/><rect x="358.1" y="234.9" width="0.7" height="0.7" fill="#5a62c0" opacity="0.39"/><rect x="364.8" y="266.7" width="0.8" height="0.8" fill="#6a70c8" opacity="0.31"/><rect x="350.8" y="300.8" width="0.8" height="0.8" fill="#7a80cc" opacity="0.29"/><rect x="362.9" y="283.2" width="0.9" height="0.9" fill="#7a80cc" opacity="0.30"/><rect x="390.2" y="369.6" width="1.0" height="1.0" fill="#5a62c0" opacity="0.35"/><rect x="368.4" y="329.5" width="0.8" height="0.8" fill="#7a80cc" opacity="0.38"/><rect x="340.6" y="351.8" width="1.0" height="1.0" fill="#5a62c0" opacity="0.22"/><rect x="384.6" y="278.7" width="0.7" height="0.7" fill="#8088d0" opacity="0.35"/><rect x="444.7" y="330.7" width="0.8" height="0.8" fill="#8088d0" opacity="0.29"/><rect x="408.0" y="323.8" width="1.0" height="1.0" fill="#8088d0" opacity="0.22"/><rect x="405.8" y="359.4" width="1.0" height="1.0" fill="#7a80cc" opacity="0.24"/><rect x="433.3" y="345.8" width="1.0" height="1.0" fill="#6a70c8" opacity="0.17"/><rect x="354.9" y="313.3" width="0.9" height="0.9" fill="#6a70c8" opacity="0.23"/><rect x="345.2" y="334.3" width="1.0" height="1.0" fill="#5a62c0" opacity="0.25"/><rect x="444.8" y="309.9" width="1.0" height="1.0" fill="#6a70c8" opacity="0.31"/><rect x="419.5" y="353.7" width="0.9" height="0.9" fill="#7a80cc" opacity="0.29"/><rect x="370.8" y="291.7" width="0.8" height="0.8" fill="#5a62c0" opacity="0.32"/><rect x="350.1" y="280.2" width="0.8" height="0.8" fill="#8088d0" opacity="0.21"/><rect x="434.2" y="299.4" width="0.9" height="0.9" fill="#6a70c8" opacity="0.36"/><rect x="364.0" y="362.9" width="0.8" height="0.8" fill="#8088d0" opacity="0.40"/><rect x="333.2" y="315.8" width="0.7" height="0.7" fill="#5a62c0" opacity="0.19"/><rect x="360.7" y="314.4" width="1.0" height="1.0" fill="#8088d0" opacity="0.35"/><rect x="439.7" y="310.2" width="0.9" height="0.9" fill="#8088d0" opacity="0.34"/><rect x="426.7" y="285.4" width="0.9" height="0.9" fill="#7a80cc" opacity="0.33"/><rect x="337.8" y="322.5" width="0.7" height="0.7" fill="#7a80cc" opacity="0.16"/><rect x="340.2" y="261.8" width="0.8" height="0.8" fill="#6a70c8" opacity="0.17"/><rect x="416.4" y="306.4" width="1.0" height="1.0" fill="#5a62c0" opacity="0.28"/><rect x="382.6" y="329.4" width="0.7" height="0.7" fill="#5a62c0" opacity="0.33"/><rect x="446.2" y="283.3" width="0.7" height="0.7" fill="#7a80cc" opacity="0.22"/><rect x="368.4" y="244.0" width="0.7" height="0.7" fill="#6a70c8" opacity="0.25"/><rect x="427.2" y="305.1" width="0.7" height="0.7" fill="#6a70c8" opacity="0.34"/><rect x="425.0" y="305.2" width="0.7" height="0.7" fill="#7a80cc" opacity="0.17"/><rect x="347.9" y="274.7" width="0.7" height="0.7" fill="#7a80cc" opacity="0.28"/><rect x="434.3" y="244.9" width="0.8" height="0.8" fill="#7a80cc" opacity="0.26"/><rect x="437.7" y="324.0" width="0.9" height="0.9" fill="#6a70c8" opacity="0.25"/><rect x="373.6" y="287.5" width="1.0" height="1.0" fill="#6a70c8" opacity="0.18"/><rect x="397.5" y="239.9" width="0.9" height="0.9" fill="#6a70c8" opacity="0.20"/><rect x="337.4" y="321.2" width="0.9" height="0.9" fill="#8088d0" opacity="0.26"/><rect x="393.1" y="368.2" width="0.7" height="0.7" fill="#5a62c0" opacity="0.16"/><rect x="431.4" y="304.7" width="0.8" height="0.8" fill="#7a80cc" opacity="0.36"/><rect x="365.4" y="237.9" width="0.7" height="0.7" fill="#7a80cc" opacity="0.16"/><rect x="442.8" y="300.2" width="0.8" height="0.8" fill="#6a70c8" opacity="0.15"/><rect x="431.0" y="304.4" width="0.7" height="0.7" fill="#5a62c0" opacity="0.24"/><rect x="441.2" y="346.9" width="0.9" height="0.9" fill="#6a70c8" opacity="0.19"/><rect x="378.8" y="231.7" width="0.8" height="0.8" fill="#6a70c8" opacity="0.25"/><rect x="422.8" y="321.8" width="0.8" height="0.8" fill="#6a70c8" opacity="0.40"/><rect x="371.9" y="369.2" width="1.0" height="1.0" fill="#6a70c8" opacity="0.28"/><rect x="377.9" y="300.1" width="0.9" height="0.9" fill="#6a70c8" opacity="0.25"/><rect x="336.6" y="286.8" width="0.8" height="0.8" fill="#5a62c0" opacity="0.35"/><rect x="383.9" y="262.6" width="0.9" height="0.9" fill="#5a62c0" opacity="0.33"/><rect x="430.7" y="321.6" width="0.7" height="0.7" fill="#7a80cc" opacity="0.24"/><rect x="369.4" y="309.6" width="0.9" height="0.9" fill="#8088d0" opacity="0.19"/><rect x="333.2" y="295.9" width="0.7" height="0.7" fill="#5a62c0" opacity="0.32"/><rect x="395.9" y="368.0" width="0.8" height="0.8" fill="#5a62c0" opacity="0.19"/><rect x="346.1" y="342.1" width="1.0" height="1.0" fill="#5a62c0" opacity="0.36"/><rect x="359.2" y="305.1" width="0.9" height="0.9" fill="#8088d0" opacity="0.17"/><rect x="349.7" y="334.1" width="0.9" height="0.9" fill="#6a70c8" opacity="0.39"/><rect x="437.2" y="321.3" width="0.8" height="0.8" fill="#8088d0" opacity="0.31"/><rect x="364.0" y="230.6" width="0.9" height="0.9" fill="#7a80cc" opacity="0.33"/><rect x="348.8" y="265.5" width="0.9" height="0.9" fill="#6a70c8" opacity="0.40"/><rect x="345.9" y="267.5" width="0.9" height="0.9" fill="#8088d0" opacity="0.21"/><rect x="419.1" y="252.2" width="1.0" height="1.0" fill="#6a70c8" opacity="0.20"/><rect x="454.7" y="292.2" width="0.8" height="0.8" fill="#6a70c8" opacity="0.37"/><rect x="336.9" y="324.1" width="0.9" height="0.9" fill="#5a62c0" opacity="0.20"/><rect x="393.2" y="257.0" width="0.9" height="0.9" fill="#7a80cc" opacity="0.33"/><rect x="351.9" y="289.1" width="1.0" height="1.0" fill="#7a80cc" opacity="0.38"/><rect x="335.7" y="306.2" width="1.0" height="1.0" fill="#7a80cc" opacity="0.17"/><rect x="355.6" y="278.2" width="0.7" height="0.7" fill="#6a70c8" opacity="0.27"/><rect x="352.5" y="319.6" width="0.9" height="0.9" fill="#8088d0" opacity="0.39"/><rect x="333.7" y="315.6" width="1.0" height="1.0" fill="#7a80cc" opacity="0.37"/><rect x="409.7" y="355.0" width="0.8" height="0.8" fill="#5a62c0" opacity="0.16"/><rect x="333.7" y="272.8" width="0.9" height="0.9" fill="#7a80cc" opacity="0.36"/><rect x="370.8" y="297.5" width="0.7" height="0.7" fill="#8088d0" opacity="0.25"/><rect x="367.8" y="292.5" width="1.0" height="1.0" fill="#8088d0" opacity="0.38"/><rect x="361.3" y="297.2" width="0.8" height="0.8" fill="#8088d0" opacity="0.28"/><rect x="342.5" y="286.4" width="0.9" height="0.9" fill="#7a80cc" opacity="0.18"/><rect x="331.7" y="279.3" width="1.0" height="1.0" fill="#8088d0" opacity="0.23"/><rect x="345.5" y="273.3" width="1.0" height="1.0" fill="#6a70c8" opacity="0.24"/><rect x="393.9" y="236.1" width="0.8" height="0.8" fill="#5a62c0" opacity="0.17"/><rect x="385.3" y="331.2" width="0.9" height="0.9" fill="#7a80cc" opacity="0.40"/><rect x="350.8" y="350.1" width="1.0" height="1.0" fill="#5a62c0" opacity="0.37"/><rect x="353.7" y="303.0" width="0.7" height="0.7" fill="#6a70c8" opacity="0.28"/><rect x="386.2" y="246.8" width="0.9" height="0.9" fill="#5a62c0" opacity="0.19"/><rect x="338.5" y="314.5" width="0.7" height="0.7" fill="#7a80cc" opacity="0.25"/><rect x="344.2" y="322.2" width="0.7" height="0.7" fill="#6a70c8" opacity="0.31"/><rect x="340.0" y="290.2" width="1.0" height="1.0" fill="#5a62c0" opacity="0.22"/><rect x="446.7" y="326.8" width="0.8" height="0.8" fill="#8088d0" opacity="0.34"/><rect x="342.5" y="307.8" width="0.7" height="0.7" fill="#6a70c8" opacity="0.26"/><rect x="379.5" y="355.4" width="0.8" height="0.8" fill="#7a80cc" opacity="0.24"/><rect x="414.4" y="241.9" width="1.0" height="1.0" fill="#7a80cc" opacity="0.36"/><rect x="375.8" y="263.1" width="0.9" height="0.9" fill="#6a70c8" opacity="0.33"/><rect x="367.2" y="320.5" width="0.8" height="0.8" fill="#5a62c0" opacity="0.33"/><rect x="412.6" y="270.2" width="1.0" height="1.0" fill="#6a70c8" opacity="0.20"/><rect x="344.8" y="292.4" width="0.7" height="0.7" fill="#8088d0" opacity="0.18"/><rect x="456.1" y="322.3" width="0.8" height="0.8" fill="#7a80cc" opacity="0.39"/><rect x="430.3" y="232.7" width="0.9" height="0.9" fill="#5a62c0" opacity="0.30"/><rect x="359.2" y="308.7" width="1.0" height="1.0" fill="#7a80cc" opacity="0.36"/><rect x="343.5" y="328.7" width="0.7" height="0.7" fill="#5a62c0" opacity="0.37"/><rect x="374.4" y="355.4" width="0.7" height="0.7" fill="#8088d0" opacity="0.34"/><rect x="412.2" y="364.8" width="1.0" height="1.0" fill="#7a80cc" opacity="0.33"/><rect x="422.4" y="278.8" width="0.9" height="0.9" fill="#5a62c0" opacity="0.22"/><rect x="338.6" y="348.2" width="0.7" height="0.7" fill="#6a70c8" opacity="0.16"/><rect x="342.7" y="352.7" width="0.9" height="0.9" fill="#7a80cc" opacity="0.17"/><rect x="433.5" y="251.3" width="0.9" height="0.9" fill="#8088d0" opacity="0.32"/><rect x="406.8" y="285.8" width="0.8" height="0.8" fill="#5a62c0" opacity="0.28"/><rect x="345.5" y="263.9" width="0.9" height="0.9" fill="#5a62c0" opacity="0.18"/><rect x="435.8" y="360.9" width="1.0" height="1.0" fill="#5a62c0" opacity="0.18"/><rect x="352.7" y="361.3" width="1.0" height="1.0" fill="#5a62c0" opacity="0.26"/><rect x="359.6" y="337.8" width="1.0" height="1.0" fill="#5a62c0" opacity="0.34"/><rect x="350.8" y="336.3" width="0.9" height="0.9" fill="#5a62c0" opacity="0.22"/><rect x="401.6" y="371.7" width="0.8" height="0.8" fill="#5a62c0" opacity="0.35"/><rect x="403.6" y="240.7" width="0.9" height="0.9" fill="#7a80cc" opacity="0.36"/><rect x="391.6" y="360.5" width="0.7" height="0.7" fill="#8088d0" opacity="0.30"/><rect x="436.2" y="277.7" width="1.0" height="1.0" fill="#6a70c8" opacity="0.22"/><rect x="386.5" y="233.2" width="0.8" height="0.8" fill="#7a80cc" opacity="0.35"/><rect x="365.4" y="291.4" width="0.8" height="0.8" fill="#6a70c8" opacity="0.33"/><rect x="348.1" y="269.9" width="0.8" height="0.8" fill="#5a62c0" opacity="0.23"/><rect x="437.6" y="292.0" width="0.7" height="0.7" fill="#8088d0" opacity="0.31"/><rect x="365.2" y="279.3" width="0.8" height="0.8" fill="#5a62c0" opacity="0.32"/><rect x="349.8" y="306.8" width="0.8" height="0.8" fill="#7a80cc" opacity="0.36"/><rect x="350.5" y="329.0" width="1.0" height="1.0" fill="#5a62c0" opacity="0.26"/><rect x="341.4" y="314.2" width="0.9" height="0.9" fill="#7a80cc" opacity="0.19"/><rect x="349.5" y="348.2" width="0.7" height="0.7" fill="#5a62c0" opacity="0.26"/><rect x="364.2" y="296.7" width="0.9" height="0.9" fill="#8088d0" opacity="0.23"/><rect x="348.2" y="274.6" width="0.8" height="0.8" fill="#8088d0" opacity="0.34"/><rect x="395.2" y="340.6" width="1.0" height="1.0" fill="#5a62c0" opacity="0.24"/><rect x="432.0" y="309.1" width="0.8" height="0.8" fill="#8088d0" opacity="0.35"/><rect x="399.9" y="372.4" width="0.9" height="0.9" fill="#6a70c8" opacity="0.35"/><rect x="337.3" y="298.2" width="0.9" height="0.9" fill="#5a62c0" opacity="0.16"/><rect x="409.7" y="259.3" width="0.8" height="0.8" fill="#7a80cc" opacity="0.39"/><rect x="437.7" y="337.4" width="0.9" height="0.9" fill="#5a62c0" opacity="0.20"/><rect x="338.6" y="295.5" width="0.7" height="0.7" fill="#8088d0" opacity="0.29"/><rect x="426.3" y="226.8" width="0.9" height="0.9" fill="#5a62c0" opacity="0.22"/><rect x="361.5" y="275.2" width="0.7" height="0.7" fill="#5a62c0" opacity="0.21"/><rect x="355.8" y="310.6" width="0.8" height="0.8" fill="#7a80cc" opacity="0.38"/><rect x="347.7" y="287.0" width="0.9" height="0.9" fill="#6a70c8" opacity="0.35"/><rect x="432.0" y="348.1" width="1.0" height="1.0" fill="#7a80cc" opacity="0.25"/><rect x="403.2" y="337.7" width="0.7" height="0.7" fill="#6a70c8" opacity="0.17"/><rect x="415.1" y="320.0" width="0.8" height="0.8" fill="#7a80cc" opacity="0.36"/><rect x="417.4" y="348.2" width="1.0" height="1.0" fill="#8088d0" opacity="0.23"/><rect x="365.8" y="235.4" width="0.8" height="0.8" fill="#5a62c0" opacity="0.36"/><rect x="420.6" y="364.8" width="0.9" height="0.9" fill="#8088d0" opacity="0.23"/><rect x="359.9" y="341.0" width="0.8" height="0.8" fill="#5a62c0" opacity="0.19"/><rect x="396.4" y="370.6" width="1.0" height="1.0" fill="#6a70c8" opacity="0.25"/><rect x="391.6" y="285.7" width="0.9" height="0.9" fill="#5a62c0" opacity="0.30"/><rect x="367.5" y="315.1" width="0.7" height="0.7" fill="#7a80cc" opacity="0.16"/><rect x="411.1" y="284.1" width="1.0" height="1.0" fill="#6a70c8" opacity="0.16"/><rect x="353.3" y="334.1" width="0.8" height="0.8" fill="#6a70c8" opacity="0.17"/><rect x="439.8" y="277.0" width="0.8" height="0.8" fill="#8088d0" opacity="0.20"/><rect x="338.4" y="293.1" width="0.7" height="0.7" fill="#8088d0" opacity="0.38"/><rect x="446.5" y="294.0" width="0.8" height="0.8" fill="#6a70c8" opacity="0.26"/><rect x="437.2" y="320.6" width="0.7" height="0.7" fill="#5a62c0" opacity="0.37"/><rect x="422.9" y="357.0" width="0.8" height="0.8" fill="#5a62c0" opacity="0.39"/><rect x="382.9" y="242.3" width="1.0" height="1.0" fill="#8088d0" opacity="0.16"/><rect x="411.7" y="367.0" width="0.8" height="0.8" fill="#6a70c8" opacity="0.24"/><rect x="428.3" y="314.2" width="0.7" height="0.7" fill="#8088d0" opacity="0.39"/><rect x="352.3" y="314.8" width="1.0" height="1.0" fill="#7a80cc" opacity="0.34"/><rect x="401.1" y="357.4" width="0.9" height="0.9" fill="#6a70c8" opacity="0.39"/><rect x="420.7" y="252.9" width="0.8" height="0.8" fill="#7a80cc" opacity="0.25"/><rect x="379.3" y="352.0" width="0.7" height="0.7" fill="#6a70c8" opacity="0.35"/><rect x="447.3" y="293.0" width="1.0" height="1.0" fill="#7a80cc" opacity="0.31"/><rect x="436.7" y="295.9" width="0.7" height="0.7" fill="#7a80cc" opacity="0.17"/><rect x="391.4" y="267.2" width="0.7" height="0.7" fill="#6a70c8" opacity="0.23"/><rect x="400.5" y="233.6" width="0.7" height="0.7" fill="#6a70c8" opacity="0.35"/><rect x="397.8" y="221.4" width="0.8" height="0.8" fill="#8088d0" opacity="0.17"/><rect x="425.6" y="351.2" width="1.0" height="1.0" fill="#7a80cc" opacity="0.20"/><rect x="345.2" y="351.2" width="0.8" height="0.8" fill="#5a62c0" opacity="0.23"/><rect x="408.1" y="253.1" width="0.9" height="0.9" fill="#5a62c0" opacity="0.31"/><rect x="421.3" y="353.4" width="0.8" height="0.8" fill="#6a70c8" opacity="0.16"/><rect x="407.8" y="247.7" width="0.8" height="0.8" fill="#8088d0" opacity="0.39"/><rect x="398.3" y="286.4" width="1.0" height="1.0" fill="#8088d0" opacity="0.29"/><rect x="431.1" y="240.5" width="0.8" height="0.8" fill="#8088d0" opacity="0.35"/><rect x="424.2" y="253.6" width="0.7" height="0.7" fill="#8088d0" opacity="0.19"/><rect x="362.2" y="324.6" width="1.0" height="1.0" fill="#8088d0" opacity="0.24"/><rect x="432.9" y="333.8" width="0.7" height="0.7" fill="#5a62c0" opacity="0.19"/><rect x="352.5" y="351.7" width="0.9" height="0.9" fill="#5a62c0" opacity="0.27"/><rect x="338.7" y="324.5" width="0.8" height="0.8" fill="#8088d0" opacity="0.18"/><rect x="424.1" y="311.8" width="0.7" height="0.7" fill="#5a62c0" opacity="0.28"/><rect x="434.3" y="251.2" width="0.7" height="0.7" fill="#8088d0" opacity="0.24"/><rect x="370.6" y="296.5" width="0.7" height="0.7" fill="#6a70c8" opacity="0.20"/><rect x="337.4" y="319.0" width="0.9" height="0.9" fill="#7a80cc" opacity="0.28"/><rect x="358.5" y="323.6" width="0.7" height="0.7" fill="#8088d0" opacity="0.32"/><rect x="384.7" y="225.9" width="0.7" height="0.7" fill="#7a80cc" opacity="0.21"/><rect x="375.2" y="341.5" width="0.9" height="0.9" fill="#5a62c0" opacity="0.38"/><rect x="401.9" y="283.8" width="1.0" height="1.0" fill="#5a62c0" opacity="0.37"/><rect x="446.3" y="290.7" width="0.8" height="0.8" fill="#8088d0" opacity="0.28"/><rect x="399.8" y="328.5" width="0.9" height="0.9" fill="#8088d0" opacity="0.30"/><rect x="345.6" y="328.0" width="0.9" height="0.9" fill="#7a80cc" opacity="0.23"/><rect x="404.5" y="309.3" width="0.8" height="0.8" fill="#8088d0" opacity="0.16"/><rect x="381.7" y="367.5" width="0.7" height="0.7" fill="#6a70c8" opacity="0.34"/><rect x="358.3" y="285.4" width="0.9" height="0.9" fill="#5a62c0" opacity="0.35"/><rect x="408.9" y="340.9" width="1.0" height="1.0" fill="#5a62c0" opacity="0.24"/><rect x="417.5" y="236.8" width="1.0" height="1.0" fill="#5a62c0" opacity="0.31"/><rect x="343.5" y="277.9" width="0.9" height="0.9" fill="#7a80cc" opacity="0.25"/><rect x="435.7" y="304.3" width="0.8" height="0.8" fill="#8088d0" opacity="0.25"/><rect x="414.6" y="264.7" width="1.0" height="1.0" fill="#5a62c0" opacity="0.32"/><rect x="337.6" y="281.0" width="1.0" height="1.0" fill="#5a62c0" opacity="0.17"/><rect x="335.1" y="273.7" width="1.0" height="1.0" fill="#5a62c0" opacity="0.27"/><rect x="345.2" y="317.3" width="1.0" height="1.0" fill="#7a80cc" opacity="0.26"/><rect x="420.5" y="236.9" width="0.7" height="0.7" fill="#6a70c8" opacity="0.18"/><rect x="435.7" y="322.4" width="1.0" height="1.0" fill="#8088d0" opacity="0.34"/><rect x="335.2" y="321.1" width="1.0" height="1.0" fill="#8088d0" opacity="0.22"/><rect x="431.8" y="338.6" width="0.8" height="0.8" fill="#5a62c0" opacity="0.22"/><rect x="400.4" y="354.2" width="1.0" height="1.0" fill="#5a62c0" opacity="0.17"/><rect x="423.9" y="273.0" width="0.8" height="0.8" fill="#8088d0" opacity="0.16"/><rect x="412.0" y="366.5" width="0.7" height="0.7" fill="#7a80cc" opacity="0.28"/><rect x="423.5" y="263.6" width="1.0" height="1.0" fill="#7a80cc" opacity="0.26"/><rect x="377.8" y="380.1" width="0.8" height="0.8" fill="#5a62c0" opacity="0.36"/><rect x="398.3" y="348.9" width="0.9" height="0.9" fill="#6a70c8" opacity="0.22"/><rect x="408.3" y="369.1" width="0.7" height="0.7" fill="#5a62c0" opacity="0.29"/><rect x="351.2" y="363.2" width="0.9" height="0.9" fill="#6a70c8" opacity="0.37"/><rect x="437.4" y="315.5" width="0.9" height="0.9" fill="#7a80cc" opacity="0.19"/><rect x="382.8" y="298.1" width="0.9" height="0.9" fill="#8088d0" opacity="0.32"/><rect x="415.2" y="273.8" width="0.7" height="0.7" fill="#6a70c8" opacity="0.16"/><rect x="438.9" y="309.2" width="1.0" height="1.0" fill="#8088d0" opacity="0.39"/><rect x="427.1" y="329.2" width="0.7" height="0.7" fill="#6a70c8" opacity="0.32"/><rect x="359.3" y="256.9" width="0.9" height="0.9" fill="#7a80cc" opacity="0.32"/><rect x="434.0" y="361.6" width="0.7" height="0.7" fill="#7a80cc" opacity="0.36"/><rect x="432.9" y="316.5" width="0.8" height="0.8" fill="#7a80cc" opacity="0.33"/><rect x="406.1" y="367.0" width="0.9" height="0.9" fill="#8088d0" opacity="0.25"/><rect x="384.7" y="363.8" width="0.7" height="0.7" fill="#6a70c8" opacity="0.16"/><rect x="445.5" y="314.5" width="0.9" height="0.9" fill="#5a62c0" opacity="0.30"/><rect x="444.3" y="307.8" width="0.7" height="0.7" fill="#6a70c8" opacity="0.27"/><rect x="349.2" y="286.1" width="1.0" height="1.0" fill="#8088d0" opacity="0.40"/><rect x="356.3" y="359.5" width="1.0" height="1.0" fill="#8088d0" opacity="0.29"/><rect x="351.3" y="320.4" width="0.9" height="0.9" fill="#6a70c8" opacity="0.34"/><rect x="336.9" y="276.5" width="0.7" height="0.7" fill="#5a62c0" opacity="0.32"/><rect x="375.3" y="379.7" width="1.0" height="1.0" fill="#8088d0" opacity="0.37"/><rect x="436.9" y="310.8" width="0.7" height="0.7" fill="#6a70c8" opacity="0.20"/><rect x="449.4" y="298.0" width="0.8" height="0.8" fill="#7a80cc" opacity="0.24"/><rect x="387.7" y="373.4" width="0.8" height="0.8" fill="#5a62c0" opacity="0.33"/><rect x="342.2" y="334.5" width="0.9" height="0.9" fill="#5a62c0" opacity="0.38"/><rect x="345.1" y="308.4" width="1.0" height="1.0" fill="#6a70c8" opacity="0.21"/><rect x="379.6" y="359.9" width="0.9" height="0.9" fill="#8088d0" opacity="0.15"/><rect x="441.9" y="339.4" width="0.8" height="0.8" fill="#5a62c0" opacity="0.27"/><rect x="427.3" y="282.7" width="0.7" height="0.7" fill="#5a62c0" opacity="0.29"/><rect x="376.6" y="361.8" width="0.8" height="0.8" fill="#7a80cc" opacity="0.26"/><rect x="407.8" y="266.2" width="1.0" height="1.0" fill="#5a62c0" opacity="0.32"/><rect x="426.1" y="344.4" width="0.7" height="0.7" fill="#7a80cc" opacity="0.39"/><rect x="338.1" y="309.9" width="0.7" height="0.7" fill="#7a80cc" opacity="0.29"/><rect x="445.5" y="294.3" width="0.9" height="0.9" fill="#7a80cc" opacity="0.38"/><rect x="345.0" y="317.5" width="0.8" height="0.8" fill="#6a70c8" opacity="0.20"/><rect x="376.9" y="376.1" width="0.8" height="0.8" fill="#6a70c8" opacity="0.29"/><rect x="407.1" y="349.9" width="0.7" height="0.7" fill="#7a80cc" opacity="0.30"/><rect x="446.0" y="263.2" width="1.0" height="1.0" fill="#6a70c8" opacity="0.20"/><rect x="424.1" y="261.5" width="0.9" height="0.9" fill="#7a80cc" opacity="0.28"/><rect x="381.6" y="360.7" width="0.7" height="0.7" fill="#8088d0" opacity="0.21"/><rect x="368.3" y="269.2" width="0.9" height="0.9" fill="#8088d0" opacity="0.40"/><rect x="355.9" y="332.2" width="1.0" height="1.0" fill="#6a70c8" opacity="0.16"/><rect x="403.1" y="252.1" width="0.9" height="0.9" fill="#7a80cc" opacity="0.17"/><rect x="338.1" y="283.7" width="1.0" height="1.0" fill="#8088d0" opacity="0.29"/><rect x="337.0" y="303.1" width="1.0" height="1.0" fill="#7a80cc" opacity="0.37"/><rect x="349.8" y="321.6" width="0.7" height="0.7" fill="#8088d0" opacity="0.24"/><rect x="428.0" y="287.9" width="0.8" height="0.8" fill="#6a70c8" opacity="0.30"/><rect x="362.9" y="257.2" width="0.7" height="0.7" fill="#8088d0" opacity="0.21"/><rect x="347.4" y="285.3" width="0.9" height="0.9" fill="#6a70c8" opacity="0.24"/><rect x="348.7" y="268.9" width="1.0" height="1.0" fill="#5a62c0" opacity="0.31"/><rect x="368.7" y="368.6" width="0.8" height="0.8" fill="#8088d0" opacity="0.15"/><rect x="368.2" y="256.3" width="0.7" height="0.7" fill="#5a62c0" opacity="0.37"/><rect x="456.1" y="294.6" width="0.7" height="0.7" fill="#6a70c8" opacity="0.29"/><rect x="337.3" y="309.8" width="1.0" height="1.0" fill="#5a62c0" opacity="0.32"/><rect x="360.7" y="304.4" width="0.8" height="0.8" fill="#5a62c0" opacity="0.37"/><rect x="355.3" y="300.7" width="0.9" height="0.9" fill="#6a70c8" opacity="0.25"/><rect x="391.7" y="373.3" width="0.9" height="0.9" fill="#5a62c0" opacity="0.37"/><rect x="367.5" y="315.8" width="0.7" height="0.7" fill="#5a62c0" opacity="0.18"/><rect x="347.2" y="287.2" width="0.9" height="0.9" fill="#5a62c0" opacity="0.16"/><rect x="404.4" y="231.7" width="1.0" height="1.0" fill="#8088d0" opacity="0.21"/><rect x="345.8" y="290.9" width="1.0" height="1.0" fill="#5a62c0" opacity="0.21"/><rect x="392.2" y="344.8" width="1.0" height="1.0" fill="#6a70c8" opacity="0.20"/><rect x="412.4" y="361.1" width="0.9" height="0.9" fill="#8088d0" opacity="0.24"/><rect x="398.8" y="232.6" width="0.7" height="0.7" fill="#7a80cc" opacity="0.22"/><rect x="436.9" y="296.1" width="0.7" height="0.7" fill="#5a62c0" opacity="0.19"/><rect x="370.8" y="336.8" width="0.8" height="0.8" fill="#5a62c0" opacity="0.18"/><rect x="336.6" y="297.6" width="0.8" height="0.8" fill="#6a70c8" opacity="0.22"/><rect x="358.4" y="286.0" width="0.9" height="0.9" fill="#7a80cc" opacity="0.34"/><rect x="359.7" y="277.9" width="0.8" height="0.8" fill="#7a80cc" opacity="0.20"/><rect x="399.0" y="303.5" width="0.9" height="0.9" fill="#5a62c0" opacity="0.20"/><rect x="350.9" y="330.7" width="0.7" height="0.7" fill="#7a80cc" opacity="0.20"/><rect x="437.1" y="290.8" width="1.0" height="1.0" fill="#8088d0" opacity="0.17"/><rect x="440.5" y="263.2" width="1.0" height="1.0" fill="#5a62c0" opacity="0.31"/><rect x="340.1" y="273.8" width="0.9" height="0.9" fill="#7a80cc" opacity="0.23"/><rect x="360.7" y="351.0" width="1.0" height="1.0" fill="#5a62c0" opacity="0.34"/><rect x="415.4" y="324.9" width="0.9" height="0.9" fill="#7a80cc" opacity="0.21"/><rect x="398.1" y="250.7" width="0.9" height="0.9" fill="#8088d0" opacity="0.22"/><rect x="363.4" y="333.9" width="0.7" height="0.7" fill="#8088d0" opacity="0.25"/><rect x="405.4" y="273.6" width="1.0" height="1.0" fill="#7a80cc" opacity="0.19"/><rect x="376.5" y="276.7" width="0.7" height="0.7" fill="#8088d0" opacity="0.40"/><rect x="381.6" y="252.2" width="0.9" height="0.9" fill="#8088d0" opacity="0.33"/><rect x="345.4" y="306.8" width="0.9" height="0.9" fill="#7a80cc" opacity="0.18"/><rect x="416.7" y="294.0" width="0.8" height="0.8" fill="#6a70c8" opacity="0.40"/><rect x="362.8" y="325.5" width="0.9" height="0.9" fill="#7a80cc" opacity="0.40"/><rect x="451.1" y="288.5" width="0.8" height="0.8" fill="#5a62c0" opacity="0.30"/><rect x="419.2" y="253.3" width="0.9" height="0.9" fill="#5a62c0" opacity="0.20"/><rect x="419.8" y="345.1" width="0.9" height="0.9" fill="#7a80cc" opacity="0.19"/><rect x="377.9" y="324.1" width="1.0" height="1.0" fill="#7a80cc" opacity="0.17"/><rect x="429.6" y="332.3" width="1.0" height="1.0" fill="#8088d0" opacity="0.17"/><rect x="355.4" y="349.9" width="1.0" height="1.0" fill="#5a62c0" opacity="0.34"/><rect x="364.9" y="279.3" width="0.8" height="0.8" fill="#5a62c0" opacity="0.22"/><rect x="451.4" y="312.2" width="0.8" height="0.8" fill="#5a62c0" opacity="0.24"/><rect x="442.7" y="323.9" width="0.7" height="0.7" fill="#5a62c0" opacity="0.20"/><rect x="414.8" y="351.7" width="0.9" height="0.9" fill="#8088d0" opacity="0.35"/><rect x="379.5" y="363.3" width="0.7" height="0.7" fill="#7a80cc" opacity="0.39"/><rect x="448.0" y="286.6" width="1.0" height="1.0" fill="#7a80cc" opacity="0.18"/><rect x="366.6" y="273.1" width="0.8" height="0.8" fill="#8088d0" opacity="0.28"/><rect x="385.8" y="352.7" width="0.7" height="0.7" fill="#8088d0" opacity="0.27"/><rect x="353.8" y="240.6" width="0.9" height="0.9" fill="#7a80cc" opacity="0.29"/><rect x="340.4" y="333.1" width="0.8" height="0.8" fill="#6a70c8" opacity="0.32"/><rect x="361.2" y="349.2" width="0.8" height="0.8" fill="#6a70c8" opacity="0.34"/><rect x="412.6" y="360.4" width="0.8" height="0.8" fill="#8088d0" opacity="0.24"/><rect x="408.8" y="235.6" width="0.7" height="0.7" fill="#5a62c0" opacity="0.21"/><rect x="356.2" y="279.6" width="0.9" height="0.9" fill="#6a70c8" opacity="0.34"/><rect x="366.2" y="328.2" width="0.7" height="0.7" fill="#6a70c8" opacity="0.36"/><rect x="445.2" y="305.2" width="1.0" height="1.0" fill="#7a80cc" opacity="0.20"/><rect x="389.4" y="243.4" width="1.0" height="1.0" fill="#5a62c0" opacity="0.20"/><rect x="409.7" y="260.6" width="1.0" height="1.0" fill="#5a62c0" opacity="0.21"/><rect x="391.5" y="253.3" width="0.7" height="0.7" fill="#7a80cc" opacity="0.30"/><rect x="366.4" y="330.1" width="1.0" height="1.0" fill="#5a62c0" opacity="0.30"/><rect x="413.6" y="243.5" width="1.0" height="1.0" fill="#8088d0" opacity="0.31"/><rect x="367.1" y="253.0" width="1.0" height="1.0" fill="#6a70c8" opacity="0.26"/><rect x="371.2" y="249.9" width="0.8" height="0.8" fill="#5a62c0" opacity="0.34"/><rect x="340.8" y="272.6" width="1.0" height="1.0" fill="#7a80cc" opacity="0.18"/><rect x="415.4" y="338.7" width="0.7" height="0.7" fill="#8088d0" opacity="0.28"/><rect x="447.9" y="333.6" width="0.9" height="0.9" fill="#5a62c0" opacity="0.25"/><rect x="351.4" y="264.5" width="1.0" height="1.0" fill="#5a62c0" opacity="0.16"/><rect x="358.3" y="339.4" width="0.8" height="0.8" fill="#7a80cc" opacity="0.35"/><rect x="427.7" y="280.4" width="1.0" height="1.0" fill="#5a62c0" opacity="0.38"/><rect x="368.6" y="334.2" width="1.0" height="1.0" fill="#7a80cc" opacity="0.25"/><rect x="404.7" y="346.1" width="0.7" height="0.7" fill="#7a80cc" opacity="0.25"/><rect x="426.7" y="328.7" width="0.8" height="0.8" fill="#6a70c8" opacity="0.31"/><rect x="408.3" y="353.0" width="0.8" height="0.8" fill="#8088d0" opacity="0.27"/><rect x="362.7" y="263.1" width="1.0" height="1.0" fill="#8088d0" opacity="0.18"/><rect x="346.5" y="334.8" width="0.7" height="0.7" fill="#8088d0" opacity="0.26"/><rect x="350.1" y="348.7" width="1.0" height="1.0" fill="#8088d0" opacity="0.38"/><rect x="368.5" y="280.0" width="0.9" height="0.9" fill="#6a70c8" opacity="0.19"/><rect x="360.6" y="251.4" width="0.7" height="0.7" fill="#8088d0" opacity="0.29"/><rect x="344.1" y="304.8" width="0.7" height="0.7" fill="#5a62c0" opacity="0.39"/><rect x="367.0" y="301.3" width="0.9" height="0.9" fill="#7a80cc" opacity="0.40"/><rect x="390.2" y="333.6" width="0.8" height="0.8" fill="#6a70c8" opacity="0.38"/><rect x="344.1" y="339.5" width="0.7" height="0.7" fill="#5a62c0" opacity="0.38"/><rect x="425.6" y="317.0" width="0.8" height="0.8" fill="#5a62c0" opacity="0.26"/><rect x="366.5" y="264.8" width="0.9" height="0.9" fill="#8088d0" opacity="0.27"/><rect x="427.9" y="274.2" width="0.8" height="0.8" fill="#6a70c8" opacity="0.26"/><rect x="383.7" y="324.1" width="0.8" height="0.8" fill="#8088d0" opacity="0.23"/><rect x="413.9" y="319.1" width="0.7" height="0.7" fill="#6a70c8" opacity="0.37"/><rect x="408.4" y="238.3" width="1.0" height="1.0" fill="#6a70c8" opacity="0.37"/><rect x="419.5" y="291.4" width="1.0" height="1.0" fill="#6a70c8" opacity="0.23"/><rect x="428.9" y="349.3" width="1.0" height="1.0" fill="#6a70c8" opacity="0.24"/><rect x="342.5" y="269.0" width="1.0" height="1.0" fill="#8088d0" opacity="0.21"/><rect x="449.3" y="322.8" width="0.8" height="0.8" fill="#8088d0" opacity="0.28"/><rect x="335.0" y="292.0" width="0.8" height="0.8" fill="#7a80cc" opacity="0.36"/><rect x="394.6" y="329.8" width="0.9" height="0.9" fill="#5a62c0" opacity="0.29"/><rect x="405.6" y="346.5" width="0.7" height="0.7" fill="#6a70c8" opacity="0.38"/><rect x="354.3" y="323.3" width="0.8" height="0.8" fill="#7a80cc" opacity="0.38"/><rect x="357.6" y="240.0" width="0.9" height="0.9" fill="#7a80cc" opacity="0.20"/><rect x="406.7" y="346.6" width="0.9" height="0.9" fill="#8088d0" opacity="0.33"/><rect x="361.9" y="256.6" width="0.8" height="0.8" fill="#7a80cc" opacity="0.29"/><rect x="368.6" y="371.0" width="1.0" height="1.0" fill="#6a70c8" opacity="0.28"/><rect x="421.6" y="346.0" width="0.8" height="0.8" fill="#6a70c8" opacity="0.38"/><rect x="339.4" y="328.0" width="1.0" height="1.0" fill="#7a80cc" opacity="0.37"/><rect x="395.3" y="367.9" width="0.9" height="0.9" fill="#8088d0" opacity="0.24"/><rect x="424.5" y="316.2" width="0.9" height="0.9" fill="#7a80cc" opacity="0.23"/><rect x="347.1" y="274.0" width="0.7" height="0.7" fill="#6a70c8" opacity="0.36"/><rect x="426.7" y="313.3" width="0.7" height="0.7" fill="#8088d0" opacity="0.16"/><rect x="351.5" y="312.1" width="0.7" height="0.7" fill="#6a70c8" opacity="0.22"/><rect x="351.8" y="299.7" width="1.0" height="1.0" fill="#6a70c8" opacity="0.39"/><rect x="411.3" y="373.5" width="0.7" height="0.7" fill="#6a70c8" opacity="0.24"/><rect x="400.1" y="260.0" width="0.8" height="0.8" fill="#5a62c0" opacity="0.36"/><rect x="393.4" y="357.8" width="1.0" height="1.0" fill="#8088d0" opacity="0.19"/><rect x="364.3" y="367.7" width="0.7" height="0.7" fill="#7a80cc" opacity="0.29"/><rect x="350.1" y="291.7" width="0.8" height="0.8" fill="#8088d0" opacity="0.25"/><rect x="347.6" y="303.6" width="0.7" height="0.7" fill="#6a70c8" opacity="0.24"/><rect x="443.9" y="321.3" width="0.8" height="0.8" fill="#6a70c8" opacity="0.33"/><rect x="405.4" y="261.8" width="0.7" height="0.7" fill="#8088d0" opacity="0.30"/><rect x="387.3" y="301.2" width="0.8" height="0.8" fill="#8088d0" opacity="0.35"/><rect x="421.5" y="368.1" width="0.7" height="0.7" fill="#5a62c0" opacity="0.38"/><rect x="361.2" y="309.6" width="1.0" height="1.0" fill="#8088d0" opacity="0.29"/><rect x="437.5" y="316.0" width="0.8" height="0.8" fill="#6a70c8" opacity="0.30"/><rect x="431.2" y="316.1" width="0.8" height="0.8" fill="#5a62c0" opacity="0.19"/><rect x="363.5" y="361.0" width="0.8" height="0.8" fill="#6a70c8" opacity="0.26"/><rect x="345.1" y="290.3" width="1.0" height="1.0" fill="#5a62c0" opacity="0.30"/><rect x="355.5" y="250.5" width="0.8" height="0.8" fill="#7a80cc" opacity="0.15"/><rect x="387.5" y="350.5" width="0.7" height="0.7" fill="#8088d0" opacity="0.27"/><rect x="395.2" y="248.3" width="0.8" height="0.8" fill="#5a62c0" opacity="0.35"/><rect x="352.7" y="270.8" width="0.9" height="0.9" fill="#5a62c0" opacity="0.22"/><rect x="424.2" y="338.0" width="0.9" height="0.9" fill="#8088d0" opacity="0.40"/><rect x="353.6" y="246.1" width="1.0" height="1.0" fill="#7a80cc" opacity="0.35"/><rect x="437.6" y="313.1" width="0.8" height="0.8" fill="#8088d0" opacity="0.38"/><rect x="412.1" y="340.2" width="0.7" height="0.7" fill="#8088d0" opacity="0.22"/><rect x="432.5" y="331.6" width="0.9" height="0.9" fill="#5a62c0" opacity="0.32"/><rect x="428.4" y="308.5" width="1.0" height="1.0" fill="#6a70c8" opacity="0.17"/><rect x="448.4" y="271.6" width="0.7" height="0.7" fill="#6a70c8" opacity="0.21"/><rect x="434.9" y="337.9" width="1.0" height="1.0" fill="#5a62c0" opacity="0.16"/><rect x="443.4" y="291.1" width="0.8" height="0.8" fill="#7a80cc" opacity="0.27"/><rect x="335.2" y="310.5" width="0.7" height="0.7" fill="#5a62c0" opacity="0.28"/><rect x="397.2" y="313.5" width="1.0" height="1.0" fill="#8088d0" opacity="0.20"/><rect x="420.3" y="345.5" width="0.9" height="0.9" fill="#5a62c0" opacity="0.27"/><rect x="366.9" y="329.4" width="0.9" height="0.9" fill="#6a70c8" opacity="0.20"/><rect x="363.6" y="328.4" width="0.8" height="0.8" fill="#6a70c8" opacity="0.16"/><rect x="415.7" y="229.6" width="0.7" height="0.7" fill="#6a70c8" opacity="0.36"/><rect x="437.4" y="347.1" width="0.8" height="0.8" fill="#8088d0" opacity="0.35"/><rect x="437.4" y="313.9" width="1.0" height="1.0" fill="#6a70c8" opacity="0.25"/><rect x="340.8" y="312.4" width="0.8" height="0.8" fill="#8088d0" opacity="0.39"/><rect x="346.5" y="263.9" width="0.7" height="0.7" fill="#5a62c0" opacity="0.16"/><rect x="361.4" y="306.7" width="0.8" height="0.8" fill="#5a62c0" opacity="0.16"/><rect x="386.6" y="316.3" width="1.0" height="1.0" fill="#6a70c8" opacity="0.19"/><rect x="366.2" y="273.8" width="0.7" height="0.7" fill="#5a62c0" opacity="0.22"/><rect x="351.4" y="313.7" width="1.0" height="1.0" fill="#6a70c8" opacity="0.26"/><rect x="404.4" y="338.3" width="1.0" height="1.0" fill="#7a80cc" opacity="0.35"/><rect x="431.4" y="321.4" width="1.0" height="1.0" fill="#6a70c8" opacity="0.25"/><rect x="428.1" y="314.4" width="0.9" height="0.9" fill="#5a62c0" opacity="0.37"/><rect x="395.6" y="335.8" width="1.0" height="1.0" fill="#6a70c8" opacity="0.37"/><rect x="342.2" y="292.8" width="0.9" height="0.9" fill="#6a70c8" opacity="0.37"/><rect x="448.8" y="286.8" width="0.8" height="0.8" fill="#7a80cc" opacity="0.39"/><rect x="376.6" y="231.8" width="0.9" height="0.9" fill="#7a80cc" opacity="0.32"/><rect x="405.8" y="259.3" width="0.8" height="0.8" fill="#8088d0" opacity="0.23"/><rect x="417.5" y="234.5" width="0.8" height="0.8" fill="#8088d0" opacity="0.32"/><rect x="368.4" y="314.6" width="1.0" height="1.0" fill="#7a80cc" opacity="0.28"/><rect x="337.2" y="274.3" width="0.8" height="0.8" fill="#5a62c0" opacity="0.17"/><rect x="403.9" y="307.4" width="0.9" height="0.9" fill="#8088d0" opacity="0.18"/><rect x="431.9" y="351.3" width="0.9" height="0.9" fill="#6a70c8" opacity="0.30"/><rect x="380.2" y="350.0" width="0.9" height="0.9" fill="#7a80cc" opacity="0.40"/><rect x="376.4" y="317.0" width="1.0" height="1.0" fill="#8088d0" opacity="0.39"/><rect x="439.9" y="307.1" width="0.7" height="0.7" fill="#8088d0" opacity="0.34"/><rect x="349.9" y="360.9" width="0.9" height="0.9" fill="#6a70c8" opacity="0.19"/><rect x="358.9" y="334.0" width="0.9" height="0.9" fill="#8088d0" opacity="0.15"/><rect x="381.8" y="286.5" width="0.7" height="0.7" fill="#7a80cc" opacity="0.40"/><rect x="358.0" y="363.7" width="0.7" height="0.7" fill="#8088d0" opacity="0.20"/><rect x="370.8" y="301.8" width="1.0" height="1.0" fill="#7a80cc" opacity="0.24"/><rect x="349.7" y="301.0" width="1.0" height="1.0" fill="#8088d0" opacity="0.18"/><rect x="374.0" y="257.3" width="0.8" height="0.8" fill="#5a62c0" opacity="0.39"/><rect x="377.5" y="357.6" width="0.7" height="0.7" fill="#6a70c8" opacity="0.26"/><rect x="400.8" y="364.4" width="0.8" height="0.8" fill="#6a70c8" opacity="0.26"/><rect x="417.3" y="316.4" width="1.0" height="1.0" fill="#6a70c8" opacity="0.16"/><rect x="414.3" y="341.2" width="1.0" height="1.0" fill="#8088d0" opacity="0.18"/><rect x="359.0" y="341.7" width="0.7" height="0.7" fill="#8088d0" opacity="0.23"/><rect x="378.0" y="287.0" width="0.9" height="0.9" fill="#5a62c0" opacity="0.19"/><rect x="372.0" y="247.3" width="0.8" height="0.8" fill="#5a62c0" opacity="0.21"/><rect x="345.6" y="327.8" width="0.7" height="0.7" fill="#8088d0" opacity="0.26"/><rect x="427.9" y="277.5" width="0.8" height="0.8" fill="#8088d0" opacity="0.39"/><rect x="379.3" y="379.2" width="0.8" height="0.8" fill="#8088d0" opacity="0.21"/><rect x="425.6" y="322.0" width="0.7" height="0.7" fill="#6a70c8" opacity="0.25"/><rect x="346.6" y="285.2" width="0.7" height="0.7" fill="#7a80cc" opacity="0.29"/><rect x="352.3" y="318.9" width="0.9" height="0.9" fill="#5a62c0" opacity="0.21"/><rect x="360.2" y="287.3" width="0.7" height="0.7" fill="#7a80cc" opacity="0.38"/><rect x="345.1" y="333.0" width="0.9" height="0.9" fill="#5a62c0" opacity="0.40"/><rect x="446.2" y="315.7" width="0.8" height="0.8" fill="#6a70c8" opacity="0.38"/><rect x="351.2" y="261.3" width="0.9" height="0.9" fill="#5a62c0" opacity="0.21"/><rect x="409.3" y="305.1" width="0.7" height="0.7" fill="#7a80cc" opacity="0.18"/><rect x="419.7" y="256.1" width="0.8" height="0.8" fill="#7a80cc" opacity="0.21"/><rect x="369.3" y="297.1" width="1.0" height="1.0" fill="#6a70c8" opacity="0.38"/><rect x="347.3" y="320.7" width="0.9" height="0.9" fill="#5a62c0" opacity="0.23"/><rect x="415.2" y="285.9" width="0.8" height="0.8" fill="#5a62c0" opacity="0.37"/><rect x="347.2" y="301.8" width="0.8" height="0.8" fill="#5a62c0" opacity="0.20"/><rect x="380.5" y="366.5" width="0.7" height="0.7" fill="#5a62c0" opacity="0.35"/><rect x="341.9" y="307.8" width="0.8" height="0.8" fill="#5a62c0" opacity="0.21"/><rect x="450.3" y="335.8" width="0.9" height="0.9" fill="#6a70c8" opacity="0.28"/><rect x="337.0" y="297.5" width="0.8" height="0.8" fill="#5a62c0" opacity="0.34"/><rect x="355.0" y="367.0" width="0.7" height="0.7" fill="#6a70c8" opacity="0.22"/><rect x="335.5" y="338.7" width="0.9" height="0.9" fill="#8088d0" opacity="0.27"/><rect x="342.0" y="338.9" width="1.0" height="1.0" fill="#7a80cc" opacity="0.34"/><rect x="366.5" y="241.4" width="1.0" height="1.0" fill="#5a62c0" opacity="0.20"/><rect x="356.4" y="312.3" width="0.7" height="0.7" fill="#7a80cc" opacity="0.20"/><rect x="425.6" y="319.6" width="0.8" height="0.8" fill="#7a80cc" opacity="0.30"/><rect x="349.4" y="342.3" width="0.8" height="0.8" fill="#5a62c0" opacity="0.23"/><rect x="439.5" y="264.5" width="0.9" height="0.9" fill="#8088d0" opacity="0.15"/><rect x="381.5" y="286.9" width="0.8" height="0.8" fill="#8088d0" opacity="0.20"/><rect x="363.1" y="329.6" width="1.0" height="1.0" fill="#8088d0" opacity="0.37"/><rect x="432.7" y="333.5" width="0.9" height="0.9" fill="#5a62c0" opacity="0.38"/><rect x="345.3" y="273.0" width="1.0" height="1.0" fill="#6a70c8" opacity="0.35"/><rect x="418.3" y="332.3" width="1.0" height="1.0" fill="#7a80cc" opacity="0.36"/><rect x="403.2" y="222.7" width="0.7" height="0.7" fill="#5a62c0" opacity="0.27"/><rect x="417.7" y="325.9" width="0.8" height="0.8" fill="#7a80cc" opacity="0.17"/><rect x="387.8" y="357.2" width="0.8" height="0.8" fill="#5a62c0" opacity="0.28"/><rect x="355.5" y="294.0" width="0.9" height="0.9" fill="#5a62c0" opacity="0.39"/><rect x="379.0" y="337.2" width="0.9" height="0.9" fill="#6a70c8" opacity="0.18"/><rect x="399.5" y="348.7" width="0.8" height="0.8" fill="#5a62c0" opacity="0.23"/><rect x="433.9" y="348.3" width="0.8" height="0.8" fill="#6a70c8" opacity="0.37"/><rect x="425.5" y="344.8" width="0.8" height="0.8" fill="#6a70c8" opacity="0.28"/><rect x="408.9" y="303.3" width="0.9" height="0.9" fill="#5a62c0" opacity="0.30"/><rect x="445.6" y="301.5" width="0.9" height="0.9" fill="#5a62c0" opacity="0.29"/><rect x="431.1" y="347.3" width="0.7" height="0.7" fill="#5a62c0" opacity="0.36"/><rect x="372.8" y="265.6" width="0.8" height="0.8" fill="#5a62c0" opacity="0.34"/><rect x="445.2" y="273.5" width="1.0" height="1.0" fill="#7a80cc" opacity="0.26"/><rect x="446.7" y="314.0" width="1.0" height="1.0" fill="#8088d0" opacity="0.31"/><rect x="436.6" y="341.7" width="0.8" height="0.8" fill="#8088d0" opacity="0.19"/><rect x="337.5" y="324.8" width="1.0" height="1.0" fill="#8088d0" opacity="0.37"/><rect x="337.9" y="259.4" width="0.9" height="0.9" fill="#6a70c8" opacity="0.27"/><rect x="438.7" y="309.7" width="0.8" height="0.8" fill="#8088d0" opacity="0.20"/><rect x="456.4" y="288.7" width="0.9" height="0.9" fill="#7a80cc" opacity="0.35"/><rect x="364.0" y="316.3" width="0.9" height="0.9" fill="#7a80cc" opacity="0.23"/><rect x="439.2" y="346.2" width="0.9" height="0.9" fill="#6a70c8" opacity="0.21"/><rect x="347.3" y="312.1" width="1.0" height="1.0" fill="#7a80cc" opacity="0.32"/><rect x="382.3" y="345.3" width="0.8" height="0.8" fill="#7a80cc" opacity="0.39"/><rect x="360.4" y="290.3" width="1.0" height="1.0" fill="#6a70c8" opacity="0.31"/><rect x="354.5" y="330.2" width="0.9" height="0.9" fill="#7a80cc" opacity="0.23"/><rect x="434.7" y="325.4" width="0.7" height="0.7" fill="#8088d0" opacity="0.29"/><rect x="417.7" y="333.3" width="0.9" height="0.9" fill="#8088d0" opacity="0.23"/><rect x="373.8" y="290.9" width="1.0" height="1.0" fill="#5a62c0" opacity="0.22"/><rect x="425.8" y="275.5" width="0.8" height="0.8" fill="#6a70c8" opacity="0.23"/><rect x="405.2" y="344.7" width="0.8" height="0.8" fill="#7a80cc" opacity="0.31"/><rect x="438.3" y="294.5" width="0.9" height="0.9" fill="#8088d0" opacity="0.35"/><rect x="368.1" y="334.0" width="1.0" height="1.0" fill="#6a70c8" opacity="0.36"/><rect x="450.5" y="264.6" width="0.7" height="0.7" fill="#5a62c0" opacity="0.23"/><rect x="330.3" y="311.9" width="1.0" height="1.0" fill="#6a70c8" opacity="0.18"/><rect x="453.3" y="287.4" width="0.9" height="0.9" fill="#8088d0" opacity="0.33"/><rect x="426.6" y="308.2" width="0.9" height="0.9" fill="#6a70c8" opacity="0.17"/><rect x="340.2" y="337.4" width="0.7" height="0.7" fill="#7a80cc" opacity="0.17"/><rect x="368.1" y="306.8" width="1.0" height="1.0" fill="#5a62c0" opacity="0.34"/><rect x="389.8" y="366.9" width="0.7" height="0.7" fill="#7a80cc" opacity="0.20"/><rect x="338.4" y="296.1" width="0.8" height="0.8" fill="#7a80cc" opacity="0.38"/><rect x="432.1" y="351.6" width="0.8" height="0.8" fill="#7a80cc" opacity="0.39"/><rect x="429.6" y="256.4" width="0.7" height="0.7" fill="#8088d0" opacity="0.23"/><rect x="395.1" y="362.1" width="0.8" height="0.8" fill="#6a70c8" opacity="0.20"/><rect x="427.9" y="278.3" width="0.8" height="0.8" fill="#5a62c0" opacity="0.19"/><rect x="339.1" y="284.3" width="0.7" height="0.7" fill="#6a70c8" opacity="0.27"/><rect x="402.0" y="348.1" width="0.7" height="0.7" fill="#5a62c0" opacity="0.37"/><rect x="336.8" y="304.2" width="1.0" height="1.0" fill="#8088d0" opacity="0.29"/><rect x="385.3" y="290.6" width="0.8" height="0.8" fill="#7a80cc" opacity="0.25"/><rect x="336.8" y="275.4" width="0.9" height="0.9" fill="#5a62c0" opacity="0.20"/><rect x="430.4" y="230.8" width="0.7" height="0.7" fill="#8088d0" opacity="0.25"/><rect x="362.2" y="331.5" width="1.0" height="1.0" fill="#5a62c0" opacity="0.29"/><rect x="446.2" y="331.4" width="1.0" height="1.0" fill="#7a80cc" opacity="0.35"/><rect x="415.5" y="314.1" width="0.7" height="0.7" fill="#8088d0" opacity="0.15"/><rect x="395.5" y="344.1" width="0.7" height="0.7" fill="#5a62c0" opacity="0.37"/><rect x="339.3" y="332.7" width="1.0" height="1.0" fill="#7a80cc" opacity="0.21"/><rect x="395.2" y="245.4" width="0.7" height="0.7" fill="#6a70c8" opacity="0.38"/><rect x="451.0" y="326.2" width="0.9" height="0.9" fill="#7a80cc" opacity="0.23"/><rect x="398.8" y="348.9" width="1.0" height="1.0" fill="#8088d0" opacity="0.22"/><rect x="330.1" y="287.2" width="0.7" height="0.7" fill="#7a80cc" opacity="0.20"/><rect x="409.3" y="331.9" width="0.8" height="0.8" fill="#7a80cc" opacity="0.29"/><rect x="333.4" y="277.6" width="0.9" height="0.9" fill="#6a70c8" opacity="0.30"/><rect x="344.2" y="277.5" width="1.0" height="1.0" fill="#5a62c0" opacity="0.25"/><rect x="399.2" y="303.6" width="0.8" height="0.8" fill="#8088d0" opacity="0.39"/><rect x="433.4" y="322.7" width="0.9" height="0.9" fill="#6a70c8" opacity="0.38"/><rect x="385.0" y="372.7" width="0.8" height="0.8" fill="#5a62c0" opacity="0.20"/><rect x="456.8" y="314.6" width="0.9" height="0.9" fill="#5a62c0" opacity="0.29"/><rect x="407.0" y="302.3" width="1.0" height="1.0" fill="#7a80cc" opacity="0.24"/><rect x="437.4" y="280.3" width="0.8" height="0.8" fill="#6a70c8" opacity="0.34"/><rect x="406.2" y="224.5" width="1.0" height="1.0" fill="#7a80cc" opacity="0.30"/><rect x="356.0" y="277.1" width="0.8" height="0.8" fill="#5a62c0" opacity="0.19"/><rect x="365.9" y="281.9" width="0.8" height="0.8" fill="#6a70c8" opacity="0.16"/><rect x="343.8" y="355.4" width="0.7" height="0.7" fill="#7a80cc" opacity="0.20"/><rect x="425.4" y="345.8" width="1.0" height="1.0" fill="#6a70c8" opacity="0.33"/><rect x="355.2" y="322.0" width="0.8" height="0.8" fill="#6a70c8" opacity="0.39"/><rect x="361.4" y="255.8" width="1.0" height="1.0" fill="#6a70c8" opacity="0.20"/><rect x="360.5" y="265.1" width="0.8" height="0.8" fill="#5a62c0" opacity="0.36"/><rect x="333.1" y="326.5" width="0.8" height="0.8" fill="#6a70c8" opacity="0.23"/><rect x="410.7" y="276.3" width="0.9" height="0.9" fill="#8088d0" opacity="0.22"/><rect x="363.0" y="238.4" width="0.8" height="0.8" fill="#7a80cc" opacity="0.18"/><rect x="421.6" y="330.0" width="0.7" height="0.7" fill="#6a70c8" opacity="0.16"/><rect x="437.3" y="326.4" width="0.8" height="0.8" fill="#7a80cc" opacity="0.31"/><rect x="418.8" y="252.6" width="0.7" height="0.7" fill="#8088d0" opacity="0.27"/><rect x="352.8" y="350.3" width="1.0" height="1.0" fill="#5a62c0" opacity="0.29"/><rect x="356.0" y="273.9" width="0.9" height="0.9" fill="#8088d0" opacity="0.22"/><rect x="339.7" y="293.8" width="0.8" height="0.8" fill="#8088d0" opacity="0.38"/><rect x="391.2" y="230.0" width="1.0" height="1.0" fill="#8088d0" opacity="0.19"/><rect x="418.8" y="339.5" width="0.8" height="0.8" fill="#7a80cc" opacity="0.18"/><rect x="357.1" y="317.6" width="0.8" height="0.8" fill="#7a80cc" opacity="0.38"/><rect x="341.5" y="265.8" width="0.7" height="0.7" fill="#7a80cc" opacity="0.18"/><rect x="426.5" y="298.0" width="1.0" height="1.0" fill="#8088d0" opacity="0.20"/><rect x="366.1" y="343.7" width="1.0" height="1.0" fill="#7a80cc" opacity="0.21"/><rect x="354.7" y="292.1" width="1.0" height="1.0" fill="#7a80cc" opacity="0.39"/><rect x="344.7" y="321.4" width="0.9" height="0.9" fill="#7a80cc" opacity="0.22"/><rect x="339.2" y="348.9" width="0.7" height="0.7" fill="#7a80cc" opacity="0.31"/><rect x="344.4" y="292.9" width="0.7" height="0.7" fill="#5a62c0" opacity="0.27"/><rect x="354.7" y="353.1" width="1.0" height="1.0" fill="#5a62c0" opacity="0.39"/><rect x="394.4" y="346.0" width="0.7" height="0.7" fill="#7a80cc" opacity="0.39"/><rect x="349.1" y="266.3" width="0.8" height="0.8" fill="#5a62c0" opacity="0.24"/><rect x="418.2" y="366.5" width="0.9" height="0.9" fill="#5a62c0" opacity="0.18"/><rect x="349.3" y="333.6" width="1.0" height="1.0" fill="#7a80cc" opacity="0.20"/><rect x="351.6" y="342.5" width="1.0" height="1.0" fill="#7a80cc" opacity="0.37"/><rect x="330.8" y="298.3" width="1.0" height="1.0" fill="#6a70c8" opacity="0.22"/><rect x="337.5" y="331.9" width="1.0" height="1.0" fill="#8088d0" opacity="0.33"/><rect x="394.3" y="369.4" width="1.0" height="1.0" fill="#5a62c0" opacity="0.18"/><rect x="432.1" y="350.8" width="0.8" height="0.8" fill="#7a80cc" opacity="0.30"/><rect x="387.9" y="373.2" width="0.8" height="0.8" fill="#8088d0" opacity="0.30"/><rect x="390.6" y="235.4" width="1.0" height="1.0" fill="#5a62c0" opacity="0.39"/><rect x="431.8" y="279.3" width="0.7" height="0.7" fill="#7a80cc" opacity="0.35"/><rect x="355.4" y="295.5" width="0.7" height="0.7" fill="#5a62c0" opacity="0.35"/><rect x="433.3" y="299.7" width="0.8" height="0.8" fill="#7a80cc" opacity="0.37"/><rect x="414.7" y="315.4" width="0.7" height="0.7" fill="#8088d0" opacity="0.38"/><rect x="355.3" y="260.7" width="1.0" height="1.0" fill="#6a70c8" opacity="0.34"/><rect x="336.8" y="302.3" width="0.8" height="0.8" fill="#8088d0" opacity="0.37"/><rect x="437.8" y="353.3" width="0.9" height="0.9" fill="#6a70c8" opacity="0.32"/><rect x="417.3" y="260.1" width="0.7" height="0.7" fill="#8088d0" opacity="0.26"/><rect x="426.3" y="285.2" width="0.9" height="0.9" fill="#5a62c0" opacity="0.36"/><rect x="397.1" y="363.5" width="1.0" height="1.0" fill="#7a80cc" opacity="0.19"/><rect x="406.5" y="310.6" width="0.9" height="0.9" fill="#6a70c8" opacity="0.32"/><rect x="448.5" y="290.7" width="0.8" height="0.8" fill="#7a80cc" opacity="0.28"/><rect x="351.5" y="248.7" width="1.0" height="1.0" fill="#6a70c8" opacity="0.19"/><rect x="367.1" y="344.0" width="0.9" height="0.9" fill="#5a62c0" opacity="0.16"/><rect x="451.9" y="298.8" width="0.8" height="0.8" fill="#7a80cc" opacity="0.35"/><rect x="365.8" y="365.3" width="1.0" height="1.0" fill="#6a70c8" opacity="0.22"/><rect x="411.9" y="282.8" width="0.8" height="0.8" fill="#8088d0" opacity="0.21"/><rect x="370.6" y="326.4" width="0.7" height="0.7" fill="#8088d0" opacity="0.38"/><rect x="343.5" y="313.1" width="1.0" height="1.0" fill="#5a62c0" opacity="0.29"/><rect x="421.3" y="352.2" width="0.7" height="0.7" fill="#7a80cc" opacity="0.31"/><rect x="373.0" y="316.9" width="1.0" height="1.0" fill="#7a80cc" opacity="0.16"/><rect x="342.2" y="313.9" width="1.0" height="1.0" fill="#8088d0" opacity="0.23"/><rect x="411.6" y="369.4" width="0.9" height="0.9" fill="#8088d0" opacity="0.16"/><rect x="407.9" y="334.5" width="1.0" height="1.0" fill="#7a80cc" opacity="0.21"/><rect x="375.9" y="223.9" width="0.9" height="0.9" fill="#7a80cc" opacity="0.20"/><rect x="354.1" y="320.3" width="0.9" height="0.9" fill="#6a70c8" opacity="0.23"/><rect x="409.7" y="337.8" width="1.0" height="1.0" fill="#5a62c0" opacity="0.26"/><rect x="366.8" y="370.0" width="0.8" height="0.8" fill="#7a80cc" opacity="0.31"/><rect x="352.3" y="248.6" width="0.9" height="0.9" fill="#7a80cc" opacity="0.39"/><rect x="357.7" y="290.0" width="0.9" height="0.9" fill="#6a70c8" opacity="0.18"/><rect x="434.5" y="307.6" width="0.7" height="0.7" fill="#8088d0" opacity="0.16"/><rect x="357.6" y="283.4" width="1.0" height="1.0" fill="#7a80cc" opacity="0.26"/><rect x="401.2" y="250.5" width="0.8" height="0.8" fill="#6a70c8" opacity="0.34"/><rect x="361.4" y="292.0" width="0.8" height="0.8" fill="#6a70c8" opacity="0.30"/><rect x="399.4" y="364.3" width="0.8" height="0.8" fill="#6a70c8" opacity="0.31"/><rect x="346.9" y="258.4" width="0.7" height="0.7" fill="#7a80cc" opacity="0.19"/><rect x="337.1" y="305.9" width="0.9" height="0.9" fill="#6a70c8" opacity="0.26"/><rect x="373.9" y="348.8" width="1.0" height="1.0" fill="#8088d0" opacity="0.15"/><rect x="368.8" y="332.0" width="0.9" height="0.9" fill="#5a62c0" opacity="0.28"/><rect x="355.5" y="300.3" width="0.7" height="0.7" fill="#5a62c0" opacity="0.27"/><rect x="448.5" y="300.4" width="0.7" height="0.7" fill="#8088d0" opacity="0.15"/><rect x="420.4" y="369.8" width="1.0" height="1.0" fill="#5a62c0" opacity="0.34"/><rect x="387.8" y="334.5" width="1.0" height="1.0" fill="#6a70c8" opacity="0.20"/><rect x="351.6" y="328.1" width="0.8" height="0.8" fill="#8088d0" opacity="0.33"/><rect x="432.3" y="341.3" width="1.0" height="1.0" fill="#5a62c0" opacity="0.37"/><rect x="424.8" y="267.2" width="1.0" height="1.0" fill="#5a62c0" opacity="0.31"/><rect x="365.0" y="270.4" width="0.8" height="0.8" fill="#8088d0" opacity="0.27"/><rect x="442.9" y="302.6" width="1.0" height="1.0" fill="#8088d0" opacity="0.16"/><rect x="378.0" y="344.8" width="0.8" height="0.8" fill="#8088d0" opacity="0.26"/><rect x="345.5" y="291.5" width="0.7" height="0.7" fill="#8088d0" opacity="0.20"/><rect x="339.8" y="305.8" width="0.7" height="0.7" fill="#8088d0" opacity="0.22"/><rect x="390.1" y="349.7" width="0.9" height="0.9" fill="#6a70c8" opacity="0.31"/><rect x="422.7" y="345.5" width="0.7" height="0.7" fill="#6a70c8" opacity="0.34"/><rect x="394.3" y="355.3" width="0.7" height="0.7" fill="#6a70c8" opacity="0.39"/><rect x="434.9" y="313.9" width="0.9" height="0.9" fill="#6a70c8" opacity="0.16"/><rect x="333.3" y="269.6" width="1.0" height="1.0" fill="#8088d0" opacity="0.23"/><rect x="447.6" y="287.9" width="0.9" height="0.9" fill="#5a62c0" opacity="0.22"/><rect x="358.6" y="277.0" width="0.9" height="0.9" fill="#5a62c0" opacity="0.30"/><rect x="367.5" y="315.7" width="1.0" height="1.0" fill="#7a80cc" opacity="0.16"/><rect x="419.4" y="315.9" width="1.0" height="1.0" fill="#6a70c8" opacity="0.17"/><rect x="347.6" y="311.5" width="0.8" height="0.8" fill="#6a70c8" opacity="0.31"/><rect x="355.9" y="356.3" width="0.9" height="0.9" fill="#7a80cc" opacity="0.34"/><rect x="346.5" y="280.3" width="0.8" height="0.8" fill="#7a80cc" opacity="0.20"/><rect x="434.5" y="337.1" width="1.0" height="1.0" fill="#8088d0" opacity="0.36"/><rect x="410.3" y="276.5" width="0.8" height="0.8" fill="#7a80cc" opacity="0.39"/><rect x="380.3" y="375.1" width="0.8" height="0.8" fill="#5a62c0" opacity="0.40"/><rect x="368.9" y="259.5" width="0.8" height="0.8" fill="#7a80cc" opacity="0.21"/><rect x="364.1" y="322.0" width="0.9" height="0.9" fill="#5a62c0" opacity="0.30"/><rect x="435.6" y="260.5" width="0.8" height="0.8" fill="#6a70c8" opacity="0.16"/><rect x="415.1" y="283.1" width="1.0" height="1.0" fill="#6a70c8" opacity="0.26"/><rect x="442.5" y="339.0" width="0.7" height="0.7" fill="#7a80cc" opacity="0.21"/><rect x="339.6" y="302.0" width="0.8" height="0.8" fill="#6a70c8" opacity="0.28"/><rect x="448.8" y="261.9" width="0.7" height="0.7" fill="#5a62c0" opacity="0.36"/><rect x="346.5" y="292.9" width="0.8" height="0.8" fill="#6a70c8" opacity="0.36"/><rect x="380.8" y="371.6" width="0.9" height="0.9" fill="#7a80cc" opacity="0.30"/><rect x="364.3" y="286.3" width="0.9" height="0.9" fill="#6a70c8" opacity="0.16"/><rect x="355.4" y="345.6" width="1.0" height="1.0" fill="#7a80cc" opacity="0.34"/><rect x="419.2" y="319.1" width="1.0" height="1.0" fill="#7a80cc" opacity="0.39"/><rect x="416.5" y="313.7" width="0.7" height="0.7" fill="#5a62c0" opacity="0.22"/><rect x="413.5" y="303.8" width="0.7" height="0.7" fill="#6a70c8" opacity="0.35"/><rect x="359.1" y="328.0" width="0.7" height="0.7" fill="#8088d0" opacity="0.39"/><rect x="433.1" y="237.0" width="0.9" height="0.9" fill="#8088d0" opacity="0.18"/><rect x="346.0" y="294.4" width="0.7" height="0.7" fill="#7a80cc" opacity="0.32"/><rect x="357.5" y="283.6" width="0.8" height="0.8" fill="#5a62c0" opacity="0.38"/><rect x="346.5" y="291.9" width="0.8" height="0.8" fill="#6a70c8" opacity="0.35"/><rect x="395.9" y="337.3" width="0.8" height="0.8" fill="#7a80cc" opacity="0.23"/><rect x="358.8" y="372.9" width="0.9" height="0.9" fill="#5a62c0" opacity="0.22"/><rect x="401.1" y="247.5" width="1.0" height="1.0" fill="#5a62c0" opacity="0.23"/><rect x="363.6" y="333.5" width="0.7" height="0.7" fill="#7a80cc" opacity="0.16"/><rect x="375.9" y="341.4" width="0.9" height="0.9" fill="#8088d0" opacity="0.39"/><rect x="398.0" y="354.6" width="1.0" height="1.0" fill="#8088d0" opacity="0.24"/><rect x="365.7" y="332.8" width="0.9" height="0.9" fill="#7a80cc" opacity="0.35"/><rect x="339.5" y="299.8" width="0.8" height="0.8" fill="#5a62c0" opacity="0.18"/><rect x="404.8" y="239.1" width="0.9" height="0.9" fill="#8088d0" opacity="0.36"/><rect x="368.2" y="307.9" width="0.7" height="0.7" fill="#7a80cc" opacity="0.18"/><rect x="344.9" y="274.5" width="1.0" height="1.0" fill="#7a80cc" opacity="0.34"/><rect x="343.2" y="330.5" width="0.7" height="0.7" fill="#5a62c0" opacity="0.38"/><rect x="410.2" y="242.0" width="0.9" height="0.9" fill="#6a70c8" opacity="0.23"/><rect x="444.4" y="315.3" width="0.8" height="0.8" fill="#7a80cc" opacity="0.36"/><rect x="365.7" y="319.1" width="0.8" height="0.8" fill="#8088d0" opacity="0.23"/><rect x="353.4" y="271.2" width="1.0" height="1.0" fill="#5a62c0" opacity="0.37"/><rect x="346.7" y="292.9" width="0.9" height="0.9" fill="#6a70c8" opacity="0.17"/><rect x="347.9" y="282.7" width="0.7" height="0.7" fill="#5a62c0" opacity="0.18"/><rect x="434.0" y="280.7" width="1.0" height="1.0" fill="#5a62c0" opacity="0.27"/><rect x="358.8" y="292.0" width="1.0" height="1.0" fill="#8088d0" opacity="0.34"/><rect x="336.2" y="302.8" width="0.9" height="0.9" fill="#5a62c0" opacity="0.27"/><rect x="352.0" y="334.9" width="1.0" height="1.0" fill="#6a70c8" opacity="0.34"/><rect x="352.2" y="263.9" width="0.8" height="0.8" fill="#8088d0" opacity="0.27"/><rect x="352.2" y="353.0" width="0.7" height="0.7" fill="#5a62c0" opacity="0.17"/><rect x="447.8" y="305.0" width="1.0" height="1.0" fill="#6a70c8" opacity="0.19"/><rect x="342.6" y="304.3" width="0.8" height="0.8" fill="#8088d0" opacity="0.37"/><rect x="450.0" y="280.7" width="0.7" height="0.7" fill="#6a70c8" opacity="0.18"/><rect x="394.0" y="368.7" width="0.8" height="0.8" fill="#5a62c0" opacity="0.34"/><rect x="361.0" y="271.3" width="0.8" height="0.8" fill="#8088d0" opacity="0.25"/><rect x="405.9" y="337.0" width="0.8" height="0.8" fill="#6a70c8" opacity="0.16"/><rect x="415.1" y="276.6" width="1.0" height="1.0" fill="#7a80cc" opacity="0.38"/><rect x="340.1" y="341.7" width="1.0" height="1.0" fill="#6a70c8" opacity="0.16"/><rect x="379.7" y="274.7" width="0.8" height="0.8" fill="#7a80cc" opacity="0.35"/><rect x="383.1" y="321.1" width="0.9" height="0.9" fill="#7a80cc" opacity="0.26"/><rect x="348.4" y="327.7" width="0.9" height="0.9" fill="#5a62c0" opacity="0.32"/><rect x="444.6" y="324.7" width="0.8" height="0.8" fill="#8088d0" opacity="0.28"/><rect x="429.2" y="289.7" width="0.7" height="0.7" fill="#6a70c8" opacity="0.33"/><rect x="422.3" y="357.0" width="1.0" height="1.0" fill="#8088d0" opacity="0.39"/><rect x="426.0" y="336.6" width="0.7" height="0.7" fill="#5a62c0" opacity="0.26"/><rect x="436.2" y="350.4" width="0.8" height="0.8" fill="#7a80cc" opacity="0.16"/><rect x="367.7" y="377.1" width="0.8" height="0.8" fill="#7a80cc" opacity="0.24"/><rect x="368.7" y="330.7" width="1.0" height="1.0" fill="#5a62c0" opacity="0.26"/><rect x="341.1" y="260.0" width="0.8" height="0.8" fill="#7a80cc" opacity="0.39"/><rect x="358.5" y="240.6" width="1.0" height="1.0" fill="#7a80cc" opacity="0.23"/><rect x="431.1" y="333.9" width="1.0" height="1.0" fill="#6a70c8" opacity="0.20"/><rect x="384.3" y="292.2" width="1.0" height="1.0" fill="#6a70c8" opacity="0.23"/><rect x="351.4" y="366.4" width="0.9" height="0.9" fill="#7a80cc" opacity="0.37"/><rect x="342.5" y="352.5" width="1.0" height="1.0" fill="#8088d0" opacity="0.40"/><rect x="349.9" y="295.6" width="0.8" height="0.8" fill="#5a62c0" opacity="0.26"/><rect x="371.9" y="312.7" width="0.8" height="0.8" fill="#6a70c8" opacity="0.35"/><rect x="342.3" y="280.6" width="1.0" height="1.0" fill="#8088d0" opacity="0.24"/><rect x="426.2" y="320.1" width="0.7" height="0.7" fill="#8088d0" opacity="0.19"/><rect x="359.2" y="266.0" width="0.8" height="0.8" fill="#8088d0" opacity="0.26"/><rect x="341.8" y="272.6" width="0.9" height="0.9" fill="#8088d0" opacity="0.16"/><rect x="372.6" y="344.3" width="0.9" height="0.9" fill="#6a70c8" opacity="0.38"/><rect x="370.6" y="270.7" width="1.0" height="1.0" fill="#5a62c0" opacity="0.19"/><rect x="362.5" y="358.9" width="1.0" height="1.0" fill="#6a70c8" opacity="0.35"/><rect x="344.5" y="295.0" width="0.9" height="0.9" fill="#6a70c8" opacity="0.20"/><rect x="425.6" y="354.6" width="1.0" height="1.0" fill="#5a62c0" opacity="0.18"/><rect x="344.1" y="317.8" width="0.8" height="0.8" fill="#7a80cc" opacity="0.16"/><rect x="371.8" y="278.2" width="0.8" height="0.8" fill="#5a62c0" opacity="0.37"/><rect x="453.3" y="318.9" width="0.8" height="0.8" fill="#7a80cc" opacity="0.37"/><rect x="352.5" y="305.8" width="1.0" height="1.0" fill="#5a62c0" opacity="0.18"/><rect x="395.1" y="370.6" width="1.0" height="1.0" fill="#5a62c0" opacity="0.21"/><rect x="424.7" y="339.9" width="0.7" height="0.7" fill="#5a62c0" opacity="0.26"/><rect x="356.4" y="311.3" width="0.9" height="0.9" fill="#7a80cc" opacity="0.19"/><rect x="367.7" y="327.3" width="0.8" height="0.8" fill="#7a80cc" opacity="0.19"/><rect x="423.1" y="234.8" width="1.0" height="1.0" fill="#8088d0" opacity="0.32"/><rect x="422.0" y="301.5" width="1.0" height="1.0" fill="#6a70c8" opacity="0.17"/><rect x="388.8" y="252.7" width="0.8" height="0.8" fill="#8088d0" opacity="0.28"/><rect x="353.4" y="338.5" width="1.0" height="1.0" fill="#8088d0" opacity="0.17"/><rect x="435.1" y="333.0" width="0.7" height="0.7" fill="#6a70c8" opacity="0.15"/><rect x="416.1" y="354.8" width="0.9" height="0.9" fill="#5a62c0" opacity="0.24"/><rect x="341.5" y="252.5" width="0.9" height="0.9" fill="#7a80cc" opacity="0.15"/><rect x="425.8" y="347.5" width="0.8" height="0.8" fill="#7a80cc" opacity="0.20"/><rect x="414.0" y="279.9" width="1.0" height="1.0" fill="#7a80cc" opacity="0.20"/><rect x="344.4" y="351.0" width="0.8" height="0.8" fill="#5a62c0" opacity="0.37"/><rect x="347.3" y="303.7" width="0.9" height="0.9" fill="#5a62c0" opacity="0.39"/><rect x="394.6" y="333.8" width="0.9" height="0.9" fill="#7a80cc" opacity="0.32"/><rect x="440.8" y="352.7" width="1.0" height="1.0" fill="#8088d0" opacity="0.33"/><rect x="396.6" y="362.2" width="0.9" height="0.9" fill="#7a80cc" opacity="0.34"/><rect x="352.9" y="276.6" width="1.0" height="1.0" fill="#7a80cc" opacity="0.20"/><rect x="375.6" y="359.3" width="0.8" height="0.8" fill="#5a62c0" opacity="0.32"/><rect x="373.0" y="341.3" width="1.0" height="1.0" fill="#6a70c8" opacity="0.38"/><rect x="370.6" y="283.6" width="0.8" height="0.8" fill="#8088d0" opacity="0.20"/><rect x="370.3" y="247.7" width="0.8" height="0.8" fill="#5a62c0" opacity="0.18"/><rect x="390.5" y="277.3" width="1.0" height="1.0" fill="#7a80cc" opacity="0.31"/><rect x="348.5" y="289.7" width="1.0" height="1.0" fill="#6a70c8" opacity="0.18"/><rect x="349.7" y="300.7" width="0.7" height="0.7" fill="#7a80cc" opacity="0.19"/><rect x="451.9" y="314.7" width="0.9" height="0.9" fill="#8088d0" opacity="0.20"/><rect x="365.7" y="330.8" width="0.8" height="0.8" fill="#8088d0" opacity="0.36"/><rect x="403.1" y="235.1" width="0.8" height="0.8" fill="#6a70c8" opacity="0.20"/><rect x="336.8" y="313.3" width="0.7" height="0.7" fill="#8088d0" opacity="0.35"/><rect x="425.2" y="278.0" width="0.7" height="0.7" fill="#7a80cc" opacity="0.29"/><rect x="338.2" y="322.3" width="0.7" height="0.7" fill="#7a80cc" opacity="0.22"/><rect x="358.6" y="315.8" width="0.9" height="0.9" fill="#5a62c0" opacity="0.26"/><rect x="424.0" y="257.1" width="0.8" height="0.8" fill="#5a62c0" opacity="0.16"/><rect x="391.2" y="289.4" width="0.8" height="0.8" fill="#5a62c0" opacity="0.22"/><rect x="400.9" y="230.0" width="0.7" height="0.7" fill="#7a80cc" opacity="0.28"/><rect x="384.1" y="359.7" width="1.0" height="1.0" fill="#8088d0" opacity="0.15"/><rect x="426.5" y="356.1" width="0.8" height="0.8" fill="#5a62c0" opacity="0.33"/><rect x="346.6" y="273.0" width="0.7" height="0.7" fill="#8088d0" opacity="0.40"/><rect x="363.5" y="302.9" width="0.7" height="0.7" fill="#6a70c8" opacity="0.21"/><rect x="345.5" y="261.8" width="1.0" height="1.0" fill="#5a62c0" opacity="0.36"/><rect x="407.7" y="365.1" width="1.0" height="1.0" fill="#8088d0" opacity="0.28"/><rect x="351.6" y="362.4" width="0.7" height="0.7" fill="#5a62c0" opacity="0.39"/><rect x="429.2" y="289.6" width="1.0" height="1.0" fill="#6a70c8" opacity="0.21"/><rect x="342.8" y="311.9" width="0.9" height="0.9" fill="#7a80cc" opacity="0.33"/><rect x="362.9" y="319.4" width="0.8" height="0.8" fill="#7a80cc" opacity="0.40"/><rect x="356.9" y="343.1" width="1.0" height="1.0" fill="#8088d0" opacity="0.39"/><rect x="344.0" y="357.9" width="0.9" height="0.9" fill="#5a62c0" opacity="0.17"/><rect x="385.0" y="248.9" width="0.9" height="0.9" fill="#5a62c0" opacity="0.20"/><rect x="336.8" y="312.9" width="0.8" height="0.8" fill="#6a70c8" opacity="0.17"/><rect x="416.2" y="346.3" width="0.9" height="0.9" fill="#5a62c0" opacity="0.29"/><rect x="355.1" y="246.2" width="0.7" height="0.7" fill="#7a80cc" opacity="0.37"/><rect x="373.1" y="271.8" width="0.9" height="0.9" fill="#7a80cc" opacity="0.29"/><rect x="339.4" y="327.2" width="1.0" height="1.0" fill="#6a70c8" opacity="0.19"/><rect x="412.6" y="342.4" width="0.8" height="0.8" fill="#6a70c8" opacity="0.16"/><rect x="353.0" y="278.9" width="1.0" height="1.0" fill="#8088d0" opacity="0.27"/><rect x="406.6" y="243.8" width="0.9" height="0.9" fill="#6a70c8" opacity="0.23"/><rect x="427.7" y="358.3" width="0.9" height="0.9" fill="#7a80cc" opacity="0.16"/><rect x="392.1" y="354.2" width="0.7" height="0.7" fill="#8088d0" opacity="0.35"/><rect x="382.9" y="220.0" width="1.0" height="1.0" fill="#5a62c0" opacity="0.24"/><rect x="438.2" y="281.7" width="0.8" height="0.8" fill="#8088d0" opacity="0.36"/><rect x="378.8" y="276.7" width="0.8" height="0.8" fill="#6a70c8" opacity="0.37"/><rect x="441.8" y="285.4" width="0.7" height="0.7" fill="#8088d0" opacity="0.38"/><rect x="394.7" y="323.4" width="0.9" height="0.9" fill="#6a70c8" opacity="0.37"/><rect x="353.2" y="271.2" width="0.7" height="0.7" fill="#7a80cc" opacity="0.19"/><rect x="352.8" y="328.7" width="0.7" height="0.7" fill="#8088d0" opacity="0.24"/><rect x="375.8" y="378.8" width="0.7" height="0.7" fill="#5a62c0" opacity="0.29"/><rect x="347.6" y="330.7" width="0.9" height="0.9" fill="#5a62c0" opacity="0.31"/><rect x="432.1" y="248.5" width="0.7" height="0.7" fill="#8088d0" opacity="0.21"/><rect x="412.4" y="348.4" width="0.8" height="0.8" fill="#8088d0" opacity="0.33"/><rect x="424.4" y="318.1" width="1.0" height="1.0" fill="#8088d0" opacity="0.26"/><rect x="331.2" y="316.2" width="0.7" height="0.7" fill="#6a70c8" opacity="0.39"/><rect x="396.0" y="221.4" width="1.0" height="1.0" fill="#5a62c0" opacity="0.39"/><rect x="381.6" y="332.4" width="0.9" height="0.9" fill="#8088d0" opacity="0.32"/><rect x="351.2" y="324.5" width="1.0" height="1.0" fill="#6a70c8" opacity="0.21"/><rect x="343.8" y="268.1" width="0.7" height="0.7" fill="#5a62c0" opacity="0.24"/><rect x="369.8" y="289.8" width="0.8" height="0.8" fill="#6a70c8" opacity="0.28"/><rect x="350.7" y="327.4" width="0.7" height="0.7" fill="#8088d0" opacity="0.33"/><rect x="425.6" y="315.2" width="0.7" height="0.7" fill="#7a80cc" opacity="0.40"/><rect x="383.8" y="229.9" width="1.0" height="1.0" fill="#7a80cc" opacity="0.22"/><rect x="424.3" y="289.0" width="0.7" height="0.7" fill="#7a80cc" opacity="0.40"/><rect x="394.0" y="238.1" width="0.7" height="0.7" fill="#7a80cc" opacity="0.36"/><rect x="358.1" y="333.5" width="0.8" height="0.8" fill="#6a70c8" opacity="0.38"/><rect x="441.1" y="278.4" width="0.8" height="0.8" fill="#5a62c0" opacity="0.16"/><rect x="447.6" y="304.2" width="0.9" height="0.9" fill="#7a80cc" opacity="0.37"/><rect x="426.4" y="316.6" width="0.9" height="0.9" fill="#5a62c0" opacity="0.37"/><rect x="389.1" y="357.9" width="0.8" height="0.8" fill="#5a62c0" opacity="0.27"/><rect x="371.3" y="276.6" width="0.9" height="0.9" fill="#6a70c8" opacity="0.34"/><rect x="410.0" y="326.6" width="1.0" height="1.0" fill="#7a80cc" opacity="0.40"/><rect x="447.2" y="259.8" width="1.0" height="1.0" fill="#6a70c8" opacity="0.20"/><rect x="450.2" y="335.3" width="0.9" height="0.9" fill="#6a70c8" opacity="0.36"/><rect x="417.0" y="352.5" width="0.9" height="0.9" fill="#6a70c8" opacity="0.15"/><rect x="329.0" y="296.6" width="1.0" height="1.0" fill="#7a80cc" opacity="0.27"/><rect x="440.7" y="296.4" width="1.0" height="1.0" fill="#6a70c8" opacity="0.23"/><rect x="349.8" y="336.6" width="1.0" height="1.0" fill="#7a80cc" opacity="0.26"/><rect x="362.0" y="307.4" width="0.7" height="0.7" fill="#5a62c0" opacity="0.19"/><rect x="361.9" y="266.2" width="0.8" height="0.8" fill="#8088d0" opacity="0.31"/><rect x="367.8" y="344.4" width="0.7" height="0.7" fill="#5a62c0" opacity="0.36"/><rect x="418.5" y="310.5" width="0.7" height="0.7" fill="#5a62c0" opacity="0.19"/><rect x="415.9" y="350.9" width="0.9" height="0.9" fill="#5a62c0" opacity="0.23"/><rect x="365.8" y="287.2" width="1.0" height="1.0" fill="#7a80cc" opacity="0.39"/><rect x="423.9" y="342.2" width="0.9" height="0.9" fill="#8088d0" opacity="0.19"/><rect x="389.7" y="235.0" width="0.9" height="0.9" fill="#5a62c0" opacity="0.37"/><rect x="355.8" y="328.2" width="0.7" height="0.7" fill="#7a80cc" opacity="0.22"/><rect x="410.4" y="234.5" width="0.7" height="0.7" fill="#8088d0" opacity="0.20"/><rect x="446.0" y="306.1" width="0.9" height="0.9" fill="#6a70c8" opacity="0.32"/><rect x="372.5" y="239.2" width="1.0" height="1.0" fill="#8088d0" opacity="0.19"/><rect x="331.5" y="311.3" width="0.8" height="0.8" fill="#8088d0" opacity="0.38"/><rect x="338.7" y="304.9" width="0.9" height="0.9" fill="#6a70c8" opacity="0.23"/><rect x="422.8" y="286.4" width="1.0" height="1.0" fill="#6a70c8" opacity="0.19"/><rect x="371.5" y="333.0" width="1.2" height="1.1" fill="#404890" opacity="0.52"/><rect x="343.6" y="343.4" width="0.8" height="0.7" fill="#8890d4" opacity="0.52"/><rect x="346.6" y="298.1" width="1.7" height="1.7" fill="#404890" opacity="0.29"/><rect x="371.5" y="256.5" width="1.7" height="1.9" fill="#2a8a8a" opacity="0.49"/><rect x="375.0" y="298.9" width="1.2" height="1.1" fill="#6a78c8" opacity="0.27"/><rect x="361.0" y="258.0" width="1.0" height="1.0" fill="#3a8a7a" opacity="0.27"/><rect x="430.0" y="334.1" width="1.7" height="2.0" fill="#5a6ac0" opacity="0.40"/><rect x="334.9" y="328.0" width="1.0" height="1.2" fill="#8890d4" opacity="0.34"/><rect x="454.9" y="313.1" width="1.7" height="1.5" fill="#5a6ac0" opacity="0.30"/><rect x="446.2" y="332.2" width="1.4" height="1.3" fill="#7080cc" opacity="0.36"/><rect x="365.0" y="253.1" width="1.0" height="1.2" fill="#6a78c8" opacity="0.51"/><rect x="445.5" y="309.7" width="0.8" height="0.8" fill="#404890" opacity="0.27"/><rect x="412.1" y="375.5" width="1.7" height="1.7" fill="#3c5cb0" opacity="0.29"/><rect x="351.4" y="358.3" width="1.4" height="1.4" fill="#2e7a8c" opacity="0.33"/><rect x="440.9" y="268.2" width="1.7" height="2.2" fill="#404890" opacity="0.46"/><rect x="421.6" y="284.2" width="1.4" height="1.7" fill="#5a6ac0" opacity="0.28"/><rect x="438.0" y="284.0" width="1.2" height="1.2" fill="#3c5cb0" opacity="0.41"/><rect x="423.9" y="233.5" width="0.8" height="0.9" fill="#5a6ac0" opacity="0.72"/><rect x="431.0" y="268.4" width="1.0" height="0.8" fill="#2e7a8c" opacity="0.38"/><rect x="369.9" y="250.3" width="1.7" height="1.9" fill="#5a6ac0" opacity="0.65"/><rect x="345.8" y="301.5" width="1.4" height="1.4" fill="#2e7a8c" opacity="0.61"/><rect x="409.3" y="341.5" width="1.2" height="1.0" fill="#7080cc" opacity="0.62"/><rect x="445.2" y="308.2" width="1.4" height="1.8" fill="#8890d4" opacity="0.48"/><rect x="386.6" y="345.0" width="1.0" height="1.1" fill="#7080cc" opacity="0.37"/><rect x="355.7" y="270.7" width="1.4" height="1.2" fill="#8890d4" opacity="0.45"/><rect x="401.5" y="230.6" width="1.0" height="1.2" fill="#5060b8" opacity="0.69"/><rect x="407.7" y="338.5" width="1.0" height="1.0" fill="#4a5ab4" opacity="0.70"/><rect x="421.9" y="360.8" width="1.2" height="1.5" fill="#8890d4" opacity="0.53"/><rect x="354.9" y="359.0" width="1.0" height="1.2" fill="#8890d4" opacity="0.31"/><rect x="389.3" y="251.9" width="1.0" height="1.3" fill="#4a5ab4" opacity="0.31"/><rect x="368.5" y="309.6" width="0.8" height="0.7" fill="#6a78c8" opacity="0.40"/><rect x="378.6" y="248.2" width="1.7" height="2.0" fill="#6a78c8" opacity="0.53"/><rect x="421.4" y="246.4" width="1.7" height="1.7" fill="#3a8a7a" opacity="0.31"/><rect x="356.7" y="312.6" width="0.8" height="0.8" fill="#3c4ca8" opacity="0.60"/><rect x="342.4" y="304.3" width="1.0" height="1.2" fill="#2a8a8a" opacity="0.52"/><rect x="444.9" y="278.2" width="0.8" height="1.0" fill="#7080cc" opacity="0.57"/><rect x="444.9" y="298.3" width="1.7" height="1.5" fill="#2e7a8c" opacity="0.75"/><rect x="347.4" y="264.6" width="1.7" height="1.8" fill="#5060b8" opacity="0.31"/><rect x="390.3" y="257.5" width="1.4" height="1.7" fill="#4a5ab4" opacity="0.37"/><rect x="444.7" y="310.9" width="1.4" height="1.4" fill="#2e7a8c" opacity="0.39"/><rect x="350.5" y="317.4" width="1.4" height="1.7" fill="#8890d4" opacity="0.46"/><rect x="356.8" y="285.1" width="1.2" height="1.3" fill="#4a5ab4" opacity="0.25"/><rect x="369.1" y="363.6" width="1.0" height="1.1" fill="#5a6ac0" opacity="0.39"/><rect x="455.6" y="314.8" width="1.0" height="1.2" fill="#7080cc" opacity="0.68"/><rect x="379.1" y="244.8" width="1.0" height="1.2" fill="#8890d4" opacity="0.34"/><rect x="338.1" y="304.3" width="1.4" height="1.4" fill="#404890" opacity="0.43"/><rect x="398.1" y="322.9" width="1.0" height="1.2" fill="#6a78c8" opacity="0.75"/><rect x="428.3" y="267.0" width="1.7" height="2.2" fill="#5060b8" opacity="0.62"/><rect x="343.7" y="307.4" width="1.4" height="1.4" fill="#3c4ca8" opacity="0.68"/><rect x="451.3" y="275.6" width="0.8" height="0.8" fill="#2a8a8a" opacity="0.56"/><rect x="401.1" y="233.4" width="1.7" height="2.2" fill="#6a78c8" opacity="0.71"/><rect x="409.6" y="230.0" width="1.0" height="1.1" fill="#7080cc" opacity="0.49"/><rect x="334.2" y="311.2" width="1.7" height="1.7" fill="#3c5cb0" opacity="0.51"/><rect x="412.5" y="305.3" width="1.0" height="1.1" fill="#4a5ab4" opacity="0.52"/><rect x="408.3" y="225.5" width="1.2" height="1.4" fill="#8890d4" opacity="0.48"/><rect x="432.1" y="243.9" width="1.2" height="1.3" fill="#8890d4" opacity="0.56"/><rect x="361.5" y="314.7" width="1.4" height="1.2" fill="#5060b8" opacity="0.38"/><rect x="370.7" y="243.4" width="1.0" height="1.0" fill="#404890" opacity="0.60"/><rect x="347.6" y="259.5" width="1.0" height="1.2" fill="#6a78c8" opacity="0.35"/><rect x="438.6" y="348.0" width="1.7" height="1.7" fill="#3a8a7a" opacity="0.54"/><rect x="397.2" y="255.6" width="1.7" height="2.0" fill="#6a78c8" opacity="0.60"/><rect x="358.8" y="323.4" width="0.8" height="1.0" fill="#3c4ca8" opacity="0.62"/><rect x="351.6" y="345.0" width="1.4" height="1.3" fill="#3c4ca8" opacity="0.28"/><rect x="421.4" y="348.1" width="1.7" height="2.1" fill="#2a8a8a" opacity="0.51"/><rect x="403.9" y="371.6" width="1.4" height="1.1" fill="#7080cc" opacity="0.59"/><rect x="344.6" y="277.5" width="1.2" height="1.0" fill="#404890" opacity="0.56"/><rect x="401.9" y="265.4" width="1.7" height="1.7" fill="#3c5cb0" opacity="0.46"/><rect x="362.6" y="367.3" width="1.4" height="1.7" fill="#4a5ab4" opacity="0.43"/><rect x="335.3" y="289.2" width="0.8" height="0.9" fill="#3c5cb0" opacity="0.53"/><rect x="343.9" y="314.3" width="1.0" height="1.2" fill="#3a8a7a" opacity="0.54"/><rect x="366.0" y="274.5" width="1.0" height="1.1" fill="#5060b8" opacity="0.70"/><rect x="366.8" y="374.8" width="1.4" height="1.8" fill="#2e7a8c" opacity="0.63"/><rect x="341.8" y="340.0" width="1.2" height="1.2" fill="#404890" opacity="0.53"/><rect x="369.0" y="341.3" width="1.4" height="1.4" fill="#3a8a7a" opacity="0.61"/><rect x="337.4" y="304.6" width="1.2" height="1.0" fill="#5a6ac0" opacity="0.57"/><rect x="362.5" y="321.1" width="1.0" height="1.0" fill="#5a6ac0" opacity="0.69"/><rect x="443.2" y="304.4" width="1.4" height="1.8" fill="#6a78c8" opacity="0.53"/><rect x="386.0" y="343.8" width="1.0" height="1.0" fill="#5060b8" opacity="0.62"/><rect x="436.9" y="332.3" width="1.0" height="1.0" fill="#5a6ac0" opacity="0.33"/><rect x="358.6" y="285.0" width="1.7" height="1.7" fill="#2a8a8a" opacity="0.68"/><rect x="448.8" y="328.9" width="1.2" height="1.2" fill="#2a8a8a" opacity="0.58"/><rect x="413.7" y="348.3" width="1.0" height="1.1" fill="#2a8a8a" opacity="0.59"/><rect x="351.8" y="277.6" width="0.8" height="1.0" fill="#2a8a8a" opacity="0.26"/><rect x="366.6" y="305.2" width="1.4" height="1.7" fill="#3a8a7a" opacity="0.59"/><rect x="443.0" y="309.8" width="1.0" height="1.1" fill="#404890" opacity="0.69"/><rect x="351.1" y="327.4" width="0.8" height="0.8" fill="#3c5cb0" opacity="0.25"/><rect x="407.0" y="295.4" width="1.0" height="1.0" fill="#3a8a7a" opacity="0.51"/><rect x="393.8" y="245.1" width="1.2" height="1.4" fill="#3c4ca8" opacity="0.64"/><rect x="369.3" y="273.0" width="1.0" height="1.0" fill="#6a78c8" opacity="0.62"/><rect x="350.1" y="251.6" width="0.8" height="0.9" fill="#5060b8" opacity="0.36"/><rect x="382.5" y="236.8" width="1.7" height="1.7" fill="#5a6ac0" opacity="0.56"/><rect x="373.3" y="374.4" width="1.0" height="1.3" fill="#2a8a8a" opacity="0.67"/><rect x="400.7" y="364.0" width="1.2" height="1.3" fill="#6a78c8" opacity="0.38"/><rect x="415.3" y="244.5" width="1.4" height="1.2" fill="#3c4ca8" opacity="0.47"/><rect x="428.0" y="340.4" width="1.2" height="1.2" fill="#8890d4" opacity="0.32"/><rect x="400.0" y="363.7" width="1.7" height="1.7" fill="#2e7a8c" opacity="0.26"/><rect x="363.0" y="241.1" width="1.0" height="1.0" fill="#8890d4" opacity="0.32"/><rect x="345.6" y="328.0" width="1.7" height="1.6" fill="#6a78c8" opacity="0.58"/><rect x="387.2" y="347.3" width="1.0" height="1.0" fill="#2a8a8a" opacity="0.58"/><rect x="446.7" y="257.0" width="0.8" height="0.8" fill="#3a8a7a" opacity="0.74"/><rect x="367.6" y="337.3" width="1.2" height="1.3" fill="#5060b8" opacity="0.40"/><rect x="354.1" y="293.7" width="1.0" height="1.0" fill="#8890d4" opacity="0.25"/><rect x="385.8" y="256.2" width="1.7" height="2.2" fill="#8890d4" opacity="0.51"/><rect x="406.9" y="338.0" width="1.4" height="1.7" fill="#8890d4" opacity="0.29"/><rect x="442.3" y="352.8" width="1.0" height="1.1" fill="#3c4ca8" opacity="0.47"/><rect x="425.9" y="259.6" width="0.8" height="0.7" fill="#8890d4" opacity="0.49"/><rect x="381.1" y="276.3" width="1.7" height="1.5" fill="#4a5ab4" opacity="0.51"/><rect x="434.8" y="267.6" width="1.7" height="1.6" fill="#2a8a8a" opacity="0.43"/><rect x="367.7" y="317.7" width="0.8" height="0.9" fill="#6a78c8" opacity="0.40"/><rect x="428.0" y="330.6" width="0.8" height="0.9" fill="#5060b8" opacity="0.39"/><rect x="363.8" y="307.1" width="1.0" height="0.9" fill="#7080cc" opacity="0.59"/><rect x="342.7" y="273.9" width="0.8" height="0.8" fill="#5060b8" opacity="0.61"/><rect x="428.3" y="242.7" width="0.8" height="0.7" fill="#3a8a7a" opacity="0.43"/><rect x="360.1" y="353.2" width="1.0" height="0.8" fill="#2a8a8a" opacity="0.48"/><rect x="392.8" y="349.7" width="1.4" height="1.3" fill="#7080cc" opacity="0.68"/><rect x="344.0" y="274.5" width="1.4" height="1.4" fill="#404890" opacity="0.64"/><rect x="420.5" y="291.1" width="0.8" height="0.9" fill="#2e7a8c" opacity="0.58"/><rect x="352.0" y="355.1" width="1.0" height="0.9" fill="#4a5ab4" opacity="0.33"/><rect x="401.0" y="218.4" width="1.7" height="1.9" fill="#8890d4" opacity="0.49"/><rect x="437.0" y="287.4" width="1.0" height="1.0" fill="#6a78c8" opacity="0.71"/><rect x="431.8" y="360.8" width="1.0" height="1.2" fill="#2e7a8c" opacity="0.37"/><rect x="412.0" y="328.8" width="1.0" height="1.1" fill="#3a8a7a" opacity="0.72"/><rect x="336.7" y="327.6" width="1.4" height="1.6" fill="#2a8a8a" opacity="0.44"/><rect x="413.8" y="230.6" width="1.0" height="0.8" fill="#8890d4" opacity="0.62"/><rect x="376.4" y="338.6" width="0.8" height="0.9" fill="#4a5ab4" opacity="0.61"/><rect x="371.6" y="343.9" width="0.8" height="0.8" fill="#3c5cb0" opacity="0.42"/><rect x="376.5" y="373.0" width="1.7" height="2.1" fill="#5060b8" opacity="0.45"/><rect x="412.4" y="358.4" width="1.0" height="1.0" fill="#404890" opacity="0.54"/><rect x="339.0" y="307.9" width="1.4" height="1.7" fill="#3c5cb0" opacity="0.71"/><rect x="431.4" y="244.9" width="1.0" height="0.9" fill="#7080cc" opacity="0.48"/><rect x="391.5" y="350.3" width="1.0" height="0.9" fill="#4a5ab4" opacity="0.42"/><rect x="411.6" y="334.1" width="1.2" height="1.3" fill="#8890d4" opacity="0.53"/><rect x="348.6" y="303.7" width="1.7" height="2.0" fill="#6a78c8" opacity="0.54"/><rect x="441.5" y="351.4" width="1.0" height="1.1" fill="#8890d4" opacity="0.56"/><rect x="342.2" y="286.1" width="1.0" height="0.9" fill="#5a6ac0" opacity="0.50"/><rect x="340.0" y="264.0" width="0.8" height="0.9" fill="#2a8a8a" opacity="0.56"/><rect x="449.8" y="282.9" width="1.4" height="1.4" fill="#3c4ca8" opacity="0.52"/><rect x="416.5" y="343.9" width="1.2" height="1.1" fill="#3c5cb0" opacity="0.67"/><rect x="356.0" y="312.8" width="1.0" height="1.1" fill="#3a8a7a" opacity="0.43"/><rect x="370.6" y="327.3" width="1.2" height="1.3" fill="#7080cc" opacity="0.67"/><rect x="352.1" y="303.0" width="1.0" height="0.8" fill="#5060b8" opacity="0.75"/><rect x="349.1" y="349.9" width="0.8" height="0.8" fill="#3c5cb0" opacity="0.40"/><rect x="343.7" y="302.7" width="1.0" height="1.0" fill="#6a78c8" opacity="0.29"/><rect x="361.7" y="277.5" width="1.4" height="1.7" fill="#4a5ab4" opacity="0.52"/><rect x="452.9" y="276.8" width="0.8" height="0.7" fill="#5a6ac0" opacity="0.46"/><rect x="408.8" y="351.6" width="0.8" height="0.7" fill="#8890d4" opacity="0.28"/><rect x="364.0" y="321.1" width="1.7" height="1.5" fill="#7080cc" opacity="0.37"/><rect x="345.6" y="280.2" width="1.0" height="1.1" fill="#3a8a7a" opacity="0.41"/><rect x="334.8" y="284.5" width="1.2" height="1.5" fill="#4a5ab4" opacity="0.30"/><rect x="356.1" y="285.0" width="1.0" height="1.1" fill="#3c5cb0" opacity="0.53"/><rect x="376.7" y="253.6" width="0.8" height="0.8" fill="#5060b8" opacity="0.64"/><rect x="343.1" y="283.4" width="1.2" height="1.4" fill="#2a8a8a" opacity="0.32"/><rect x="346.4" y="354.6" width="1.0" height="1.2" fill="#6a78c8" opacity="0.75"/><rect x="335.3" y="293.2" width="0.8" height="0.9" fill="#3c5cb0" opacity="0.39"/><rect x="351.3" y="345.4" width="1.7" height="2.1" fill="#2e7a8c" opacity="0.73"/><rect x="446.7" y="264.8" width="1.2" height="1.3" fill="#3c5cb0" opacity="0.40"/><rect x="358.1" y="318.0" width="0.8" height="1.0" fill="#2e7a8c" opacity="0.51"/><rect x="341.5" y="314.3" width="1.4" height="1.2" fill="#7080cc" opacity="0.64"/><rect x="424.3" y="250.4" width="1.0" height="1.1" fill="#3c5cb0" opacity="0.66"/><rect x="367.3" y="310.2" width="1.4" height="1.4" fill="#5060b8" opacity="0.74"/><rect x="447.6" y="317.4" width="1.0" height="1.2" fill="#5060b8" opacity="0.72"/><rect x="440.5" y="325.8" width="1.2" height="1.1" fill="#3c5cb0" opacity="0.62"/><rect x="387.9" y="319.6" width="1.7" height="1.9" fill="#404890" opacity="0.45"/><rect x="360.4" y="302.5" width="0.8" height="0.8" fill="#3a8a7a" opacity="0.65"/><rect x="359.4" y="295.0" width="1.7" height="1.4" fill="#4a5ab4" opacity="0.68"/><rect x="445.3" y="263.4" width="0.8" height="0.7" fill="#3c5cb0" opacity="0.32"/><rect x="439.5" y="316.1" width="0.8" height="1.0" fill="#3c4ca8" opacity="0.36"/><rect x="428.8" y="257.7" width="1.0" height="1.0" fill="#2e7a8c" opacity="0.63"/><rect x="334.3" y="271.9" width="1.0" height="0.9" fill="#3a8a7a" opacity="0.63"/><rect x="420.4" y="260.1" width="1.0" height="1.3" fill="#7080cc" opacity="0.42"/><rect x="363.4" y="346.9" width="1.0" height="1.3" fill="#8890d4" opacity="0.40"/><rect x="436.0" y="251.2" width="0.8" height="0.8" fill="#4a5ab4" opacity="0.50"/><rect x="331.3" y="304.9" width="1.4" height="1.6" fill="#404890" opacity="0.69"/><rect x="437.0" y="259.0" width="1.4" height="1.7" fill="#5a6ac0" opacity="0.74"/><rect x="418.3" y="298.3" width="1.7" height="1.7" fill="#6a78c8" opacity="0.38"/><rect x="416.6" y="334.1" width="1.0" height="1.1" fill="#2e7a8c" opacity="0.46"/><rect x="352.4" y="248.7" width="1.0" height="1.2" fill="#3a8a7a" opacity="0.58"/><rect x="448.8" y="301.2" width="1.2" height="1.2" fill="#404890" opacity="0.41"/><rect x="443.1" y="291.9" width="1.0" height="0.9" fill="#7080cc" opacity="0.55"/><rect x="350.0" y="297.8" width="0.8" height="1.0" fill="#3a8a7a" opacity="0.50"/><rect x="372.0" y="229.9" width="0.8" height="0.8" fill="#2a8a8a" opacity="0.44"/><rect x="340.7" y="312.0" width="1.7" height="1.6" fill="#7080cc" opacity="0.70"/><rect x="397.2" y="245.0" width="0.8" height="1.0" fill="#4a5ab4" opacity="0.69"/><rect x="430.8" y="350.3" width="1.0" height="1.3" fill="#5060b8" opacity="0.42"/><rect x="342.9" y="340.7" width="1.4" height="1.2" fill="#8890d4" opacity="0.30"/><rect x="333.0" y="311.4" width="1.7" height="1.9" fill="#3c4ca8" opacity="0.70"/><rect x="429.7" y="239.1" width="1.7" height="1.7" fill="#404890" opacity="0.30"/><rect x="354.3" y="285.6" width="1.7" height="1.7" fill="#3c5cb0" opacity="0.70"/><rect x="362.1" y="260.7" width="1.0" height="1.0" fill="#3c4ca8" opacity="0.53"/><rect x="423.4" y="322.5" width="0.8" height="0.9" fill="#404890" opacity="0.36"/><rect x="363.7" y="334.5" width="1.2" height="1.5" fill="#5a6ac0" opacity="0.48"/><rect x="412.7" y="259.0" width="1.0" height="1.2" fill="#2a8a8a" opacity="0.50"/><rect x="418.1" y="290.6" width="1.2" height="1.3" fill="#3c4ca8" opacity="0.37"/><rect x="429.9" y="362.0" width="0.8" height="0.9" fill="#2a8a8a" opacity="0.47"/><rect x="344.3" y="324.6" width="1.4" height="1.7" fill="#3c5cb0" opacity="0.43"/><rect x="436.3" y="273.3" width="0.8" height="1.0" fill="#5060b8" opacity="0.57"/><rect x="341.4" y="316.8" width="1.0" height="1.0" fill="#7080cc" opacity="0.43"/><rect x="362.7" y="342.8" width="0.8" height="0.8" fill="#4a5ab4" opacity="0.31"/><rect x="330.6" y="283.7" width="1.0" height="0.8" fill="#2e7a8c" opacity="0.58"/><rect x="449.2" y="324.8" width="1.0" height="1.2" fill="#3c4ca8" opacity="0.26"/><rect x="428.1" y="351.2" width="0.8" height="0.7" fill="#5a6ac0" opacity="0.71"/><rect x="357.4" y="274.7" width="1.0" height="1.2" fill="#404890" opacity="0.31"/><rect x="343.3" y="299.4" width="1.0" height="1.2" fill="#4a5ab4" opacity="0.33"/><rect x="392.4" y="329.3" width="1.7" height="1.8" fill="#8890d4" opacity="0.61"/><rect x="353.3" y="342.0" width="1.7" height="1.7" fill="#6a78c8" opacity="0.59"/><rect x="422.2" y="235.5" width="1.4" height="1.4" fill="#5060b8" opacity="0.64"/><rect x="373.7" y="293.1" width="0.8" height="0.8" fill="#404890" opacity="0.65"/><rect x="349.2" y="313.9" width="1.0" height="1.0" fill="#3a8a7a" opacity="0.32"/><rect x="349.9" y="350.0" width="1.4" height="1.5" fill="#4a5ab4" opacity="0.72"/><rect x="352.7" y="287.6" width="1.0" height="1.2" fill="#3c5cb0" opacity="0.73"/><rect x="343.8" y="323.1" width="1.4" height="1.2" fill="#2a8a8a" opacity="0.54"/><rect x="347.8" y="277.2" width="1.0" height="1.0" fill="#5a6ac0" opacity="0.41"/><rect x="366.8" y="286.4" width="1.2" height="1.0" fill="#6a78c8" opacity="0.31"/><rect x="446.8" y="271.3" width="1.7" height="1.7" fill="#2a8a8a" opacity="0.48"/><rect x="351.7" y="321.4" width="1.0" height="0.8" fill="#3a8a7a" opacity="0.69"/><rect x="349.5" y="267.8" width="1.4" height="1.6" fill="#6a78c8" opacity="0.33"/><rect x="370.2" y="355.3" width="1.4" height="1.2" fill="#5a6ac0" opacity="0.73"/><rect x="345.1" y="278.3" width="0.8" height="0.9" fill="#3c5cb0" opacity="0.55"/><rect x="363.0" y="356.8" width="0.8" height="0.7" fill="#5a6ac0" opacity="0.34"/><rect x="398.2" y="266.2" width="1.0" height="0.8" fill="#4a5ab4" opacity="0.51"/><rect x="355.6" y="344.5" width="1.0" height="0.9" fill="#404890" opacity="0.58"/><rect x="367.1" y="290.5" width="1.0" height="0.9" fill="#8890d4" opacity="0.30"/><rect x="349.0" y="353.1" width="1.0" height="0.9" fill="#404890" opacity="0.38"/><rect x="370.9" y="248.6" width="1.0" height="1.1" fill="#5060b8" opacity="0.25"/><rect x="356.6" y="344.5" width="1.0" height="0.9" fill="#5060b8" opacity="0.41"/><rect x="352.0" y="312.3" width="1.2" height="1.4" fill="#2a8a8a" opacity="0.72"/><rect x="392.0" y="350.5" width="1.0" height="1.2" fill="#3c4ca8" opacity="0.44"/><rect x="342.9" y="278.4" width="1.0" height="0.9" fill="#2a8a8a" opacity="0.49"/><rect x="350.4" y="362.0" width="1.2" height="1.1" fill="#404890" opacity="0.41"/><rect x="390.0" y="350.9" width="1.0" height="1.3" fill="#4a5ab4" opacity="0.47"/><rect x="446.0" y="272.3" width="1.0" height="0.8" fill="#5a6ac0" opacity="0.42"/><rect x="374.8" y="230.2" width="1.4" height="1.2" fill="#7080cc" opacity="0.32"/><rect x="424.6" y="348.6" width="1.0" height="0.9" fill="#404890" opacity="0.62"/><rect x="440.4" y="255.2" width="1.0" height="0.9" fill="#6a78c8" opacity="0.28"/><rect x="408.0" y="232.1" width="1.0" height="1.2" fill="#3c5cb0" opacity="0.33"/><rect x="413.5" y="360.5" width="1.7" height="1.4" fill="#3c4ca8" opacity="0.38"/><rect x="348.1" y="317.8" width="1.0" height="0.9" fill="#5a6ac0" opacity="0.38"/><rect x="355.4" y="293.7" width="1.2" height="1.5" fill="#7080cc" opacity="0.71"/><rect x="343.5" y="334.2" width="1.4" height="1.3" fill="#5060b8" opacity="0.46"/><rect x="340.1" y="348.0" width="1.2" height="1.4" fill="#2e7a8c" opacity="0.68"/><rect x="336.1" y="282.9" width="1.0" height="1.2" fill="#3c4ca8" opacity="0.54"/><rect x="407.5" y="368.1" width="0.8" height="0.8" fill="#3c5cb0" opacity="0.28"/><rect x="433.4" y="287.4" width="0.8" height="0.9" fill="#3c5cb0" opacity="0.68"/><rect x="381.2" y="263.6" width="0.8" height="1.0" fill="#8890d4" opacity="0.48"/><rect x="445.4" y="295.8" width="1.4" height="1.4" fill="#3c4ca8" opacity="0.37"/><rect x="340.1" y="310.5" width="1.0" height="1.0" fill="#4a5ab4" opacity="0.30"/><rect x="363.9" y="281.7" width="1.0" height="0.9" fill="#5060b8" opacity="0.37"/><rect x="423.0" y="362.9" width="0.8" height="0.7" fill="#3a8a7a" opacity="0.38"/><rect x="343.5" y="309.5" width="0.8" height="0.7" fill="#3a8a7a" opacity="0.71"/><rect x="362.8" y="241.5" width="1.0" height="1.3" fill="#404890" opacity="0.51"/><rect x="363.3" y="360.2" width="1.0" height="0.9" fill="#3c5cb0" opacity="0.65"/><rect x="390.9" y="260.9" width="0.8" height="0.9" fill="#3c5cb0" opacity="0.35"/><rect x="421.8" y="248.2" width="1.4" height="1.7" fill="#3c4ca8" opacity="0.69"/><rect x="404.4" y="365.5" width="1.7" height="1.8" fill="#3c4ca8" opacity="0.29"/><rect x="382.1" y="348.2" width="0.8" height="0.8" fill="#4a5ab4" opacity="0.48"/><rect x="380.1" y="332.8" width="1.7" height="1.9" fill="#4a5ab4" opacity="0.73"/><rect x="345.4" y="330.3" width="1.2" height="1.2" fill="#3c4ca8" opacity="0.69"/><rect x="338.7" y="289.5" width="1.0" height="0.9" fill="#7080cc" opacity="0.65"/><rect x="412.5" y="275.1" width="1.2" height="1.3" fill="#2e7a8c" opacity="0.74"/><rect x="351.5" y="276.1" width="1.7" height="1.9" fill="#5060b8" opacity="0.29"/><rect x="336.1" y="301.8" width="1.0" height="1.1" fill="#6a78c8" opacity="0.74"/><rect x="391.7" y="227.1" width="0.8" height="0.8" fill="#2e7a8c" opacity="0.35"/><rect x="413.1" y="278.2" width="1.7" height="1.4" fill="#3c5cb0" opacity="0.29"/><rect x="379.3" y="276.2" width="1.0" height="1.1" fill="#4a5ab4" opacity="0.70"/><rect x="381.1" y="367.4" width="1.4" height="1.2" fill="#3c5cb0" opacity="0.40"/><rect x="347.6" y="363.5" width="0.8" height="0.9" fill="#2e7a8c" opacity="0.60"/><rect x="400.9" y="246.0" width="1.0" height="1.0" fill="#4a5ab4" opacity="0.62"/><rect x="446.9" y="335.4" width="0.8" height="0.8" fill="#2e7a8c" opacity="0.65"/><rect x="435.7" y="255.6" width="1.7" height="2.0" fill="#5a6ac0" opacity="0.71"/><rect x="371.4" y="353.8" width="1.0" height="0.9" fill="#7080cc" opacity="0.56"/><rect x="390.6" y="356.3" width="1.4" height="1.7" fill="#5060b8" opacity="0.60"/><rect x="351.3" y="323.9" width="1.0" height="0.9" fill="#3c5cb0" opacity="0.32"/><rect x="336.4" y="298.6" width="1.0" height="0.9" fill="#6a78c8" opacity="0.42"/><rect x="342.9" y="258.0" width="1.7" height="1.5" fill="#3c5cb0" opacity="0.63"/><rect x="356.0" y="243.5" width="1.4" height="1.6" fill="#6a78c8" opacity="0.29"/><rect x="395.2" y="333.5" width="0.8" height="0.9" fill="#5a6ac0" opacity="0.69"/><rect x="436.8" y="316.6" width="1.0" height="1.0" fill="#8890d4" opacity="0.57"/><rect x="345.7" y="346.1" width="1.0" height="1.3" fill="#3a8a7a" opacity="0.46"/><rect x="369.3" y="255.4" width="1.4" height="1.6" fill="#2a8a8a" opacity="0.25"/><rect x="375.1" y="234.2" width="0.8" height="0.7" fill="#3a8a7a" opacity="0.57"/><rect x="383.4" y="263.6" width="1.0" height="0.8" fill="#4a5ab4" opacity="0.67"/><rect x="451.6" y="312.9" width="0.8" height="0.8" fill="#2e7a8c" opacity="0.57"/><rect x="343.0" y="259.3" width="0.8" height="0.8" fill="#8890d4" opacity="0.69"/><rect x="361.4" y="231.7" width="1.0" height="1.0" fill="#5060b8" opacity="0.67"/><rect x="364.1" y="275.7" width="1.0" height="1.1" fill="#7080cc" opacity="0.42"/><rect x="448.2" y="290.0" width="1.7" height="1.6" fill="#3a8a7a" opacity="0.40"/><rect x="373.3" y="269.6" width="0.8" height="0.9" fill="#404890" opacity="0.59"/><rect x="358.4" y="281.5" width="0.8" height="0.8" fill="#2e7a8c" opacity="0.33"/><rect x="348.0" y="284.7" width="0.8" height="1.0" fill="#6a78c8" opacity="0.71"/><rect x="400.4" y="338.9" width="1.2" height="1.1" fill="#2a8a8a" opacity="0.44"/><rect x="370.9" y="249.6" width="0.8" height="1.0" fill="#3c5cb0" opacity="0.50"/><rect x="439.3" y="326.5" width="1.2" height="1.1" fill="#404890" opacity="0.51"/><rect x="389.6" y="373.7" width="1.0" height="1.0" fill="#2a8a8a" opacity="0.41"/><rect x="419.5" y="298.7" width="0.8" height="0.8" fill="#8890d4" opacity="0.73"/><rect x="409.8" y="350.3" width="1.2" height="1.0" fill="#7080cc" opacity="0.48"/><rect x="418.9" y="361.6" width="1.7" height="1.7" fill="#4a5ab4" opacity="0.48"/><rect x="329.4" y="297.0" width="1.0" height="1.0" fill="#2a8a8a" opacity="0.56"/><rect x="429.9" y="314.2" width="1.4" height="1.5" fill="#7080cc" opacity="0.36"/><rect x="349.5" y="293.3" width="1.4" height="1.5" fill="#8890d4" opacity="0.25"/><rect x="346.8" y="305.3" width="1.0" height="0.9" fill="#3c5cb0" opacity="0.75"/><rect x="433.5" y="277.8" width="1.0" height="1.0" fill="#3a8a7a" opacity="0.65"/><rect x="412.9" y="345.6" width="1.7" height="2.0" fill="#3c5cb0" opacity="0.28"/><rect x="422.2" y="350.1" width="1.7" height="2.1" fill="#6a78c8" opacity="0.68"/><rect x="425.7" y="344.7" width="1.4" height="1.5" fill="#5060b8" opacity="0.52"/><rect x="407.4" y="360.8" width="1.2" height="1.2" fill="#3c4ca8" opacity="0.48"/><rect x="339.6" y="327.3" width="1.0" height="1.2" fill="#404890" opacity="0.42"/><rect x="444.1" y="318.4" width="1.0" height="1.3" fill="#8890d4" opacity="0.63"/><rect x="345.2" y="288.1" width="0.8" height="0.9" fill="#5a6ac0" opacity="0.57"/><rect x="356.0" y="279.9" width="1.4" height="1.8" fill="#3c5cb0" opacity="0.60"/><rect x="404.5" y="336.3" width="1.7" height="2.2" fill="#5060b8" opacity="0.42"/><rect x="422.4" y="285.7" width="1.4" height="1.2" fill="#3c4ca8" opacity="0.63"/><rect x="364.4" y="315.8" width="1.0" height="1.0" fill="#3c5cb0" opacity="0.36"/><rect x="408.1" y="351.3" width="0.8" height="1.0" fill="#2a8a8a" opacity="0.44"/><rect x="332.9" y="330.2" width="1.0" height="1.3" fill="#404890" opacity="0.74"/><rect x="346.3" y="279.4" width="1.4" height="1.2" fill="#7080cc" opacity="0.46"/><rect x="345.2" y="257.3" width="0.8" height="1.0" fill="#3c5cb0" opacity="0.36"/><rect x="379.1" y="372.7" width="1.0" height="1.2" fill="#6a78c8" opacity="0.62"/><rect x="361.8" y="321.2" width="1.0" height="0.9" fill="#3c4ca8" opacity="0.54"/><rect x="367.6" y="343.8" width="1.4" height="1.3" fill="#5060b8" opacity="0.59"/><rect x="420.4" y="371.6" width="1.7" height="1.9" fill="#7080cc" opacity="0.66"/><rect x="397.4" y="254.6" width="1.4" height="1.4" fill="#6a78c8" opacity="0.65"/><rect x="379.2" y="250.7" width="1.0" height="0.9" fill="#404890" opacity="0.56"/><rect x="403.7" y="359.0" width="1.2" height="1.0" fill="#4a5ab4" opacity="0.29"/><rect x="356.3" y="257.7" width="1.0" height="0.9" fill="#404890" opacity="0.40"/><rect x="399.0" y="345.3" width="1.7" height="1.7" fill="#5060b8" opacity="0.72"/><rect x="428.8" y="261.8" width="1.0" height="1.1" fill="#404890" opacity="0.50"/><rect x="381.9" y="259.7" width="1.2" height="1.5" fill="#4a5ab4" opacity="0.47"/><rect x="354.4" y="275.6" width="0.8" height="0.9" fill="#6a78c8" opacity="0.38"/><rect x="427.7" y="342.0" width="1.4" height="1.7" fill="#7080cc" opacity="0.26"/><rect x="443.8" y="292.7" width="1.0" height="0.9" fill="#4a5ab4" opacity="0.47"/><rect x="358.7" y="239.8" width="1.0" height="1.1" fill="#2a8a8a" opacity="0.46"/><rect x="333.3" y="296.0" width="0.8" height="1.0" fill="#3c4ca8" opacity="0.65"/><rect x="354.5" y="355.9" width="1.0" height="1.1" fill="#404890" opacity="0.39"/><rect x="423.0" y="351.1" width="1.4" height="1.2" fill="#2a8a8a" opacity="0.73"/><rect x="406.4" y="335.4" width="1.0" height="1.0" fill="#3a8a7a" opacity="0.58"/><rect x="365.9" y="364.0" width="1.0" height="0.9" fill="#5060b8" opacity="0.74"/><rect x="418.6" y="261.1" width="0.8" height="0.8" fill="#5060b8" opacity="0.44"/><rect x="416.1" y="311.3" width="1.0" height="1.0" fill="#3c5cb0" opacity="0.64"/><rect x="363.8" y="276.5" width="1.0" height="1.2" fill="#3a8a7a" opacity="0.68"/><rect x="361.1" y="306.7" width="1.0" height="1.0" fill="#5060b8" opacity="0.37"/><rect x="351.1" y="299.4" width="1.2" height="1.4" fill="#5060b8" opacity="0.52"/><rect x="363.0" y="368.4" width="1.2" height="1.3" fill="#3a8a7a" opacity="0.32"/><rect x="346.7" y="284.6" width="1.0" height="1.0" fill="#8890d4" opacity="0.40"/><rect x="396.7" y="242.8" width="1.7" height="1.7" fill="#3c5cb0" opacity="0.44"/><rect x="444.5" y="256.8" width="0.8" height="0.7" fill="#6a78c8" opacity="0.33"/><rect x="383.3" y="359.5" width="0.8" height="0.7" fill="#4a5ab4" opacity="0.57"/><rect x="341.9" y="296.2" width="1.0" height="1.2" fill="#5060b8" opacity="0.60"/><rect x="421.6" y="346.8" width="0.8" height="0.7" fill="#6a78c8" opacity="0.37"/><rect x="349.5" y="328.1" width="1.7" height="1.7" fill="#4a5ab4" opacity="0.39"/><rect x="363.2" y="316.1" width="1.4" height="1.4" fill="#404890" opacity="0.37"/><rect x="397.8" y="343.0" width="0.8" height="0.8" fill="#2e7a8c" opacity="0.61"/><rect x="379.0" y="357.6" width="1.2" height="1.0" fill="#2e7a8c" opacity="0.46"/><rect x="407.3" y="362.5" width="1.0" height="1.1" fill="#2e7a8c" opacity="0.63"/><rect x="442.8" y="288.5" width="1.4" height="1.8" fill="#5a6ac0" opacity="0.33"/><rect x="329.7" y="294.6" width="1.0" height="1.3" fill="#404890" opacity="0.26"/><rect x="357.6" y="316.9" width="1.0" height="1.1" fill="#8890d4" opacity="0.68"/><rect x="430.3" y="307.0" width="1.0" height="1.1" fill="#6a78c8" opacity="0.74"/><rect x="365.3" y="331.2" width="1.4" height="1.2" fill="#404890" opacity="0.40"/><rect x="356.2" y="323.6" width="1.0" height="1.1" fill="#2e7a8c" opacity="0.56"/><rect x="417.7" y="261.3" width="1.7" height="1.8" fill="#6a78c8" opacity="0.67"/><rect x="370.3" y="234.3" width="1.2" height="1.4" fill="#404890" opacity="0.68"/><rect x="338.8" y="318.2" width="0.8" height="0.8" fill="#3c4ca8" opacity="0.69"/><rect x="343.8" y="301.3" width="1.4" height="1.2" fill="#3a8a7a" opacity="0.65"/><rect x="362.3" y="246.9" width="1.0" height="0.8" fill="#3a8a7a" opacity="0.28"/><rect x="375.7" y="233.1" width="1.4" height="1.7" fill="#3c5cb0" opacity="0.69"/><rect x="426.5" y="291.9" width="1.0" height="1.0" fill="#3c5cb0" opacity="0.65"/><rect x="400.2" y="366.1" width="1.0" height="0.8" fill="#5a6ac0" opacity="0.40"/><rect x="439.1" y="323.9" width="1.7" height="1.6" fill="#5060b8" opacity="0.31"/><rect x="415.1" y="238.4" width="1.4" height="1.4" fill="#4a5ab4" opacity="0.66"/><rect x="370.0" y="283.0" width="1.2" height="1.4" fill="#3a8a7a" opacity="0.40"/><rect x="376.8" y="366.3" width="1.0" height="1.0" fill="#3c5cb0" opacity="0.35"/><rect x="348.0" y="254.2" width="1.2" height="1.3" fill="#3c5cb0" opacity="0.66"/><rect x="346.1" y="309.9" width="1.0" height="0.8" fill="#2a8a8a" opacity="0.60"/><rect x="331.3" y="311.9" width="1.0" height="0.8" fill="#5060b8" opacity="0.47"/><rect x="348.3" y="263.2" width="1.0" height="1.0" fill="#2a8a8a" opacity="0.64"/><rect x="427.8" y="340.9" width="1.0" height="0.9" fill="#2e7a8c" opacity="0.41"/><rect x="403.6" y="367.6" width="1.2" height="1.1" fill="#5060b8" opacity="0.36"/><rect x="342.6" y="282.5" width="1.0" height="1.2" fill="#8890d4" opacity="0.61"/><rect x="359.7" y="245.4" width="1.4" height="1.3" fill="#4a5ab4" opacity="0.74"/><rect x="395.4" y="363.0" width="1.0" height="1.1" fill="#4a5ab4" opacity="0.39"/><rect x="333.2" y="321.3" width="1.7" height="1.9" fill="#8890d4" opacity="0.64"/><rect x="357.2" y="269.4" width="0.8" height="0.9" fill="#6a78c8" opacity="0.48"/><rect x="353.1" y="253.7" width="1.0" height="1.0" fill="#2e7a8c" opacity="0.50"/><rect x="412.8" y="320.0" width="0.8" height="0.7" fill="#404890" opacity="0.29"/><rect x="419.5" y="284.7" width="0.8" height="1.0" fill="#404890" opacity="0.49"/><rect x="343.4" y="270.5" width="1.7" height="2.1" fill="#404890" opacity="0.35"/><rect x="435.0" y="249.3" width="1.2" height="1.3" fill="#3c4ca8" opacity="0.41"/><rect x="375.2" y="327.6" width="1.7" height="2.1" fill="#4a5ab4" opacity="0.35"/><rect x="351.0" y="285.2" width="0.8" height="0.8" fill="#3c5cb0" opacity="0.35"/><rect x="368.4" y="298.3" width="1.7" height="1.5" fill="#2e7a8c" opacity="0.50"/><rect x="355.6" y="250.3" width="1.0" height="1.0" fill="#2e7a8c" opacity="0.32"/><rect x="344.9" y="255.0" width="1.0" height="1.2" fill="#404890" opacity="0.44"/><rect x="347.0" y="292.2" width="1.4" height="1.3" fill="#3c4ca8" opacity="0.44"/><rect x="372.5" y="248.6" width="1.4" height="1.3" fill="#4a5ab4" opacity="0.36"/><rect x="393.5" y="246.3" width="1.2" height="1.3" fill="#2a8a8a" opacity="0.48"/><rect x="396.3" y="374.2" width="1.7" height="1.7" fill="#6a78c8" opacity="0.37"/><rect x="337.3" y="311.2" width="0.8" height="0.8" fill="#3a8a7a" opacity="0.73"/><rect x="361.7" y="366.7" width="1.7" height="1.6" fill="#3a8a7a" opacity="0.47"/><rect x="423.6" y="343.0" width="1.0" height="1.0" fill="#3a8a7a" opacity="0.40"/><rect x="373.1" y="288.3" width="1.0" height="0.9" fill="#3c5cb0" opacity="0.41"/><rect x="410.4" y="336.1" width="0.8" height="0.9" fill="#3c4ca8" opacity="0.55"/><rect x="370.4" y="306.9" width="1.7" height="2.2" fill="#5a6ac0" opacity="0.42"/><rect x="357.0" y="327.9" width="1.7" height="1.9" fill="#3c5cb0" opacity="0.30"/><rect x="338.3" y="340.7" width="1.4" height="1.2" fill="#3c4ca8" opacity="0.58"/><rect x="450.4" y="274.8" width="1.0" height="0.9" fill="#404890" opacity="0.33"/><rect x="415.8" y="289.8" width="1.2" height="1.3" fill="#2a8a8a" opacity="0.54"/><rect x="378.0" y="350.5" width="1.4" height="1.4" fill="#3a8a7a" opacity="0.72"/><rect x="351.0" y="293.5" width="1.7" height="1.8" fill="#7080cc" opacity="0.71"/><rect x="349.5" y="360.8" width="1.2" height="1.5" fill="#5a6ac0" opacity="0.73"/><rect x="343.0" y="266.8" width="1.7" height="2.2" fill="#2e7a8c" opacity="0.33"/><rect x="343.2" y="303.7" width="1.4" height="1.8" fill="#8890d4" opacity="0.27"/><rect x="442.3" y="280.9" width="1.4" height="1.5" fill="#8890d4" opacity="0.59"/><rect x="379.0" y="238.6" width="1.0" height="1.1" fill="#5060b8" opacity="0.53"/><rect x="408.8" y="354.2" width="1.7" height="1.8" fill="#5a6ac0" opacity="0.34"/><rect x="356.9" y="272.3" width="0.8" height="1.0" fill="#3a8a7a" opacity="0.66"/><rect x="397.5" y="340.0" width="1.7" height="2.1" fill="#8890d4" opacity="0.60"/><rect x="386.8" y="351.3" width="1.0" height="0.9" fill="#4a5ab4" opacity="0.74"/><rect x="352.7" y="307.1" width="1.0" height="1.2" fill="#3c5cb0" opacity="0.47"/><rect x="352.1" y="326.3" width="1.0" height="0.9" fill="#4a5ab4" opacity="0.41"/><rect x="401.6" y="220.7" width="0.8" height="0.7" fill="#3c5cb0" opacity="0.69"/><rect x="416.1" y="312.5" width="0.8" height="0.9" fill="#3c4ca8" opacity="0.33"/><rect x="350.3" y="268.4" width="1.2" height="1.4" fill="#3a8a7a" opacity="0.26"/><rect x="409.3" y="346.6" width="1.0" height="0.9" fill="#404890" opacity="0.54"/><rect x="438.9" y="312.7" width="0.8" height="0.8" fill="#3c5cb0" opacity="0.34"/><rect x="357.9" y="267.9" width="1.0" height="1.2" fill="#5a6ac0" opacity="0.68"/><rect x="336.9" y="274.1" width="1.2" height="1.4" fill="#5060b8" opacity="0.35"/><rect x="373.0" y="349.9" width="0.8" height="0.8" fill="#3c4ca8" opacity="0.36"/><rect x="386.7" y="238.4" width="1.0" height="1.1" fill="#5060b8" opacity="0.35"/><rect x="413.4" y="373.6" width="0.8" height="0.7" fill="#7080cc" opacity="0.44"/><rect x="343.7" y="344.3" width="1.0" height="1.3" fill="#404890" opacity="0.30"/><rect x="408.4" y="352.4" width="1.4" height="1.3" fill="#8890d4" opacity="0.70"/><rect x="412.7" y="284.3" width="1.0" height="1.2" fill="#8890d4" opacity="0.72"/><rect x="448.9" y="338.8" width="1.0" height="0.8" fill="#8890d4" opacity="0.50"/><rect x="378.1" y="358.1" width="1.7" height="2.1" fill="#3c4ca8" opacity="0.39"/><rect x="445.2" y="298.5" width="0.8" height="0.8" fill="#3a8a7a" opacity="0.46"/><rect x="439.8" y="260.6" width="1.0" height="1.2" fill="#4a5ab4" opacity="0.47"/><rect x="417.4" y="319.3" width="1.0" height="1.2" fill="#7080cc" opacity="0.52"/><rect x="360.9" y="299.7" width="1.2" height="1.4" fill="#6a78c8" opacity="0.34"/><rect x="352.1" y="288.7" width="1.2" height="1.1" fill="#5060b8" opacity="0.73"/><rect x="428.6" y="274.4" width="1.2" height="1.4" fill="#6a78c8" opacity="0.34"/><rect x="439.5" y="306.0" width="1.4" height="1.4" fill="#3c4ca8" opacity="0.49"/><rect x="352.1" y="297.1" width="1.4" height="1.5" fill="#2a8a8a" opacity="0.69"/><rect x="420.6" y="231.4" width="1.4" height="1.6" fill="#8890d4" opacity="0.53"/><rect x="372.9" y="261.8" width="1.0" height="1.1" fill="#3c4ca8" opacity="0.65"/><rect x="366.1" y="274.1" width="1.7" height="1.5" fill="#7080cc" opacity="0.37"/><rect x="402.5" y="331.0" width="1.2" height="1.1" fill="#5060b8" opacity="0.36"/><rect x="406.4" y="367.9" width="1.0" height="1.3" fill="#5060b8" opacity="0.41"/><rect x="353.4" y="308.6" width="1.2" height="1.2" fill="#6a78c8" opacity="0.31"/><rect x="419.0" y="351.8" width="1.0" height="0.8" fill="#6a78c8" opacity="0.41"/><rect x="370.1" y="238.4" width="1.2" height="1.0" fill="#5a6ac0" opacity="0.45"/><rect x="402.6" y="293.7" width="1.0" height="1.2" fill="#7080cc" opacity="0.41"/><rect x="354.7" y="360.6" width="1.2" height="1.0" fill="#2e7a8c" opacity="0.53"/><rect x="380.9" y="347.0" width="0.8" height="0.9" fill="#3c5cb0" opacity="0.39"/><rect x="456.2" y="300.0" width="1.7" height="1.4" fill="#2a8a8a" opacity="0.46"/><rect x="443.2" y="348.5" width="1.4" height="1.3" fill="#2a8a8a" opacity="0.66"/><rect x="450.7" y="296.4" width="1.2" height="1.1" fill="#3c4ca8" opacity="0.58"/><rect x="412.2" y="325.8" width="1.0" height="1.3" fill="#4a5ab4" opacity="0.29"/><rect x="352.9" y="311.1" width="1.0" height="1.1" fill="#6a78c8" opacity="0.39"/><rect x="429.9" y="299.6" width="1.7" height="1.6" fill="#8890d4" opacity="0.59"/><rect x="363.4" y="321.0" width="1.2" height="1.0" fill="#3c4ca8" opacity="0.66"/><rect x="441.7" y="303.7" width="1.7" height="1.5" fill="#2a8a8a" opacity="0.68"/><rect x="354.4" y="326.0" width="0.8" height="0.8" fill="#3c5cb0" opacity="0.60"/><rect x="360.9" y="304.8" width="1.4" height="1.2" fill="#404890" opacity="0.26"/><rect x="342.6" y="334.0" width="1.0" height="1.2" fill="#3a8a7a" opacity="0.31"/><rect x="362.7" y="267.2" width="1.0" height="0.8" fill="#3c5cb0" opacity="0.67"/><rect x="343.2" y="320.4" width="1.4" height="1.1" fill="#2e7a8c" opacity="0.32"/><rect x="443.9" y="293.1" width="0.8" height="0.7" fill="#8890d4" opacity="0.64"/><rect x="346.8" y="317.8" width="0.8" height="0.7" fill="#3c5cb0" opacity="0.63"/><rect x="345.3" y="298.4" width="0.8" height="0.8" fill="#4a5ab4" opacity="0.73"/><rect x="396.1" y="353.8" width="1.0" height="1.2" fill="#3a8a7a" opacity="0.61"/><rect x="397.5" y="364.4" width="1.4" height="1.2" fill="#404890" opacity="0.33"/><rect x="355.8" y="314.9" width="0.8" height="0.7" fill="#3a8a7a" opacity="0.63"/><rect x="349.7" y="254.2" width="1.2" height="1.4" fill="#7080cc" opacity="0.66"/><rect x="347.7" y="328.8" width="1.7" height="1.9" fill="#3a8a7a" opacity="0.74"/><rect x="333.0" y="300.6" width="1.0" height="1.0" fill="#7080cc" opacity="0.70"/><rect x="451.8" y="295.0" width="1.0" height="0.9" fill="#2a8a8a" opacity="0.36"/><rect x="347.6" y="316.7" width="1.0" height="0.9" fill="#8890d4" opacity="0.55"/><rect x="348.8" y="292.8" width="1.7" height="2.0" fill="#3c5cb0" opacity="0.49"/><rect x="439.4" y="280.7" width="1.7" height="2.2" fill="#2a8a8a" opacity="0.56"/><rect x="448.5" y="283.3" width="1.2" height="1.3" fill="#3c5cb0" opacity="0.34"/><rect x="445.1" y="300.4" width="1.4" height="1.4" fill="#3a8a7a" opacity="0.38"/><rect x="398.0" y="257.5" width="1.0" height="0.9" fill="#5060b8" opacity="0.65"/><rect x="393.7" y="221.0" width="0.8" height="1.0" fill="#3a8a7a" opacity="0.69"/><rect x="369.8" y="315.8" width="1.7" height="2.1" fill="#8890d4" opacity="0.70"/><rect x="413.3" y="360.3" width="1.4" height="1.4" fill="#6a78c8" opacity="0.39"/><rect x="385.0" y="296.6" width="1.0" height="1.2" fill="#5060b8" opacity="0.71"/><rect x="360.0" y="312.8" width="1.2" height="1.3" fill="#5060b8" opacity="0.47"/><rect x="394.8" y="365.3" width="1.0" height="1.1" fill="#4a5ab4" opacity="0.71"/><rect x="444.3" y="265.6" width="1.0" height="1.0" fill="#3c5cb0" opacity="0.51"/><rect x="383.0" y="357.8" width="1.2" height="1.0" fill="#3c5cb0" opacity="0.73"/><rect x="410.8" y="307.3" width="1.0" height="0.9" fill="#8890d4" opacity="0.33"/><rect x="429.2" y="282.9" width="1.7" height="2.0" fill="#5a6ac0" opacity="0.72"/><rect x="373.3" y="331.2" width="1.2" height="1.4" fill="#2a8a8a" opacity="0.75"/><rect x="385.6" y="326.5" width="1.2" height="1.3" fill="#3c4ca8" opacity="0.57"/><rect x="354.0" y="268.8" width="0.8" height="0.6" fill="#404890" opacity="0.28"/><rect x="410.0" y="362.6" width="1.2" height="1.1" fill="#3a8a7a" opacity="0.69"/><rect x="351.6" y="297.9" width="1.4" height="1.7" fill="#6a78c8" opacity="0.60"/><rect x="383.6" y="256.2" width="1.2" height="1.3" fill="#4a5ab4" opacity="0.41"/><rect x="368.3" y="318.8" width="1.0" height="1.2" fill="#6a78c8" opacity="0.75"/><rect x="442.5" y="338.7" width="1.7" height="1.4" fill="#5060b8" opacity="0.75"/><rect x="443.9" y="323.9" width="1.4" height="1.2" fill="#3c4ca8" opacity="0.54"/><rect x="403.9" y="263.0" width="1.0" height="0.8" fill="#7080cc" opacity="0.56"/><rect x="364.3" y="303.1" width="1.7" height="1.6" fill="#6a78c8" opacity="0.54"/><rect x="450.0" y="263.3" width="1.4" height="1.7" fill="#5a6ac0" opacity="0.59"/><rect x="367.8" y="259.4" width="1.4" height="1.3" fill="#3c5cb0" opacity="0.64"/><rect x="435.8" y="362.8" width="1.0" height="1.3" fill="#404890" opacity="0.43"/><rect x="340.0" y="302.5" width="1.0" height="0.9" fill="#2e7a8c" opacity="0.63"/><rect x="415.0" y="369.3" width="0.8" height="0.7" fill="#8890d4" opacity="0.33"/><rect x="340.1" y="324.6" width="1.7" height="1.7" fill="#2a8a8a" opacity="0.72"/><rect x="358.4" y="347.3" width="1.2" height="1.1" fill="#404890" opacity="0.72"/><rect x="371.0" y="357.9" width="1.0" height="1.1" fill="#4a5ab4" opacity="0.47"/><rect x="407.9" y="373.1" width="1.4" height="1.2" fill="#3a8a7a" opacity="0.35"/><rect x="338.2" y="326.2" width="1.2" height="1.3" fill="#6a78c8" opacity="0.41"/><rect x="364.7" y="318.9" width="1.0" height="1.0" fill="#404890" opacity="0.47"/><rect x="390.1" y="235.8" width="1.0" height="0.9" fill="#4a5ab4" opacity="0.26"/><rect x="431.1" y="323.7" width="0.8" height="0.9" fill="#5a6ac0" opacity="0.30"/><rect x="348.2" y="360.4" width="0.8" height="0.9" fill="#5060b8" opacity="0.33"/><rect x="433.0" y="283.9" width="1.2" height="1.2" fill="#5a6ac0" opacity="0.39"/><rect x="437.0" y="260.3" width="1.0" height="1.3" fill="#2e7a8c" opacity="0.27"/><rect x="347.5" y="347.8" width="1.0" height="0.9" fill="#2e7a8c" opacity="0.52"/><rect x="341.8" y="346.0" width="1.4" height="1.3" fill="#5a6ac0" opacity="0.26"/><rect x="404.5" y="289.1" width="0.8" height="0.7" fill="#8890d4" opacity="0.69"/><rect x="413.9" y="309.3" width="1.7" height="1.7" fill="#6a78c8" opacity="0.65"/><rect x="394.6" y="355.2" width="1.0" height="1.3" fill="#3c5cb0" opacity="0.32"/><rect x="334.3" y="329.8" width="1.2" height="1.6" fill="#4a5ab4" opacity="0.51"/><rect x="446.3" y="295.9" width="1.0" height="0.9" fill="#404890" opacity="0.67"/><rect x="406.5" y="366.1" width="1.4" height="1.5" fill="#3a8a7a" opacity="0.29"/><rect x="367.8" y="326.0" width="1.0" height="1.3" fill="#6a78c8" opacity="0.65"/><rect x="344.5" y="321.1" width="1.0" height="1.2" fill="#3c4ca8" opacity="0.73"/><rect x="441.6" y="325.5" width="1.2" height="1.1" fill="#3a8a7a" opacity="0.34"/><rect x="420.0" y="339.8" width="0.8" height="0.8" fill="#8890d4" opacity="0.72"/><rect x="390.1" y="251.6" width="1.4" height="1.4" fill="#404890" opacity="0.72"/><rect x="353.3" y="288.7" width="1.7" height="2.1" fill="#404890" opacity="0.41"/><rect x="351.3" y="343.6" width="1.4" height="1.6" fill="#2a8a8a" opacity="0.30"/><rect x="438.4" y="295.0" width="1.2" height="1.3" fill="#3c5cb0" opacity="0.41"/><rect x="355.5" y="319.6" width="1.7" height="1.5" fill="#7080cc" opacity="0.30"/><rect x="439.7" y="275.3" width="1.4" height="1.5" fill="#8890d4" opacity="0.68"/><rect x="339.6" y="322.0" width="0.8" height="0.7" fill="#6a78c8" opacity="0.44"/><rect x="355.5" y="355.6" width="1.0" height="1.1" fill="#6a78c8" opacity="0.47"/><rect x="375.2" y="311.2" width="1.2" height="1.4" fill="#7080cc" opacity="0.70"/><rect x="373.5" y="309.9" width="1.7" height="1.8" fill="#7080cc" opacity="0.43"/><rect x="352.7" y="359.7" width="1.7" height="2.2" fill="#5060b8" opacity="0.59"/><rect x="377.2" y="313.7" width="0.8" height="1.0" fill="#6a78c8" opacity="0.74"/><rect x="368.6" y="282.9" width="1.4" height="1.4" fill="#5060b8" opacity="0.51"/><rect x="357.2" y="254.1" width="1.0" height="0.9" fill="#6a78c8" opacity="0.25"/><rect x="342.1" y="286.0" width="1.4" height="1.5" fill="#5a6ac0" opacity="0.25"/><rect x="344.5" y="305.2" width="1.4" height="1.2" fill="#8890d4" opacity="0.35"/><rect x="354.5" y="283.1" width="0.8" height="0.7" fill="#7080cc" opacity="0.26"/><rect x="338.5" y="306.7" width="1.2" height="1.4" fill="#7080cc" opacity="0.40"/><rect x="335.1" y="318.3" width="1.7" height="1.8" fill="#2a8a8a" opacity="0.60"/><rect x="331.7" y="290.0" width="1.4" height="1.7" fill="#2a8a8a" opacity="0.42"/><rect x="336.8" y="299.5" width="1.2" height="1.0" fill="#2a8a8a" opacity="0.74"/><rect x="451.7" y="300.7" width="1.7" height="2.1" fill="#7080cc" opacity="0.55"/><rect x="376.3" y="272.2" width="1.0" height="0.9" fill="#4a5ab4" opacity="0.40"/><rect x="373.5" y="327.9" width="1.0" height="1.0" fill="#3c5cb0" opacity="0.26"/><rect x="351.1" y="280.5" width="0.8" height="0.8" fill="#7080cc" opacity="0.48"/><rect x="407.1" y="239.2" width="0.8" height="1.0" fill="#7080cc" opacity="0.60"/><rect x="352.9" y="346.7" width="1.7" height="1.7" fill="#5a6ac0" opacity="0.41"/><rect x="414.3" y="330.9" width="1.2" height="1.6" fill="#5060b8" opacity="0.38"/><rect x="349.8" y="287.7" width="1.4" height="1.2" fill="#4a5ab4" opacity="0.74"/><rect x="386.3" y="373.0" width="1.0" height="0.8" fill="#3c5cb0" opacity="0.52"/><rect x="447.8" y="304.8" width="1.0" height="1.0" fill="#3c4ca8" opacity="0.46"/><rect x="350.1" y="286.6" width="1.0" height="1.1" fill="#3c5cb0" opacity="0.67"/><rect x="342.2" y="263.7" width="1.0" height="1.2" fill="#3a8a7a" opacity="0.60"/><rect x="372.8" y="258.9" width="1.0" height="1.1" fill="#6a78c8" opacity="0.68"/><rect x="377.2" y="229.6" width="1.2" height="1.4" fill="#5a6ac0" opacity="0.66"/><rect x="393.0" y="344.0" width="1.0" height="0.9" fill="#2e7a8c" opacity="0.27"/><rect x="448.3" y="274.3" width="1.0" height="0.9" fill="#3a8a7a" opacity="0.62"/><rect x="397.5" y="379.5" width="1.7" height="2.1" fill="#2a8a8a" opacity="0.51"/><rect x="439.9" y="296.7" width="1.0" height="1.1" fill="#404890" opacity="0.37"/><rect x="411.1" y="233.4" width="1.4" height="1.2" fill="#3c4ca8" opacity="0.38"/><rect x="412.9" y="263.3" width="1.0" height="1.2" fill="#404890" opacity="0.35"/><rect x="396.9" y="220.2" width="0.8" height="0.9" fill="#3c5cb0" opacity="0.60"/><rect x="350.6" y="307.4" width="1.7" height="2.2" fill="#2a8a8a" opacity="0.54"/><rect x="437.6" y="322.0" width="1.2" height="1.5" fill="#2e7a8c" opacity="0.68"/><rect x="363.1" y="278.4" width="1.0" height="0.9" fill="#2a8a8a" opacity="0.39"/><rect x="433.2" y="333.7" width="1.7" height="1.9" fill="#4a5ab4" opacity="0.39"/><rect x="440.4" y="324.0" width="1.2" height="1.2" fill="#6a78c8" opacity="0.49"/><rect x="387.0" y="363.0" width="1.4" height="1.6" fill="#6a78c8" opacity="0.74"/><rect x="448.3" y="318.2" width="1.0" height="1.1" fill="#5a6ac0" opacity="0.37"/><rect x="383.8" y="269.5" width="1.0" height="1.1" fill="#8890d4" opacity="0.32"/><rect x="382.5" y="364.4" width="1.7" height="2.1" fill="#6a78c8" opacity="0.47"/><rect x="374.4" y="277.4" width="1.4" height="1.4" fill="#7080cc" opacity="0.29"/><rect x="425.8" y="367.0" width="1.2" height="1.1" fill="#2a8a8a" opacity="0.70"/><rect x="425.4" y="276.1" width="1.0" height="1.0" fill="#3c5cb0" opacity="0.49"/><rect x="373.8" y="332.8" width="1.2" height="1.4" fill="#4a5ab4" opacity="0.46"/><rect x="383.8" y="342.1" width="1.0" height="1.2" fill="#4a5ab4" opacity="0.26"/><rect x="376.3" y="378.5" width="1.7" height="1.8" fill="#3a8a7a" opacity="0.51"/><rect x="341.7" y="317.9" width="1.4" height="1.7" fill="#2a8a8a" opacity="0.59"/><rect x="381.2" y="300.4" width="1.0" height="1.1" fill="#8890d4" opacity="0.48"/><rect x="443.2" y="258.3" width="1.0" height="1.1" fill="#5a6ac0" opacity="0.26"/><rect x="353.8" y="243.6" width="1.2" height="1.5" fill="#404890" opacity="0.54"/><rect x="368.1" y="254.0" width="1.7" height="1.8" fill="#3c5cb0" opacity="0.75"/><rect x="329.5" y="299.0" width="0.8" height="0.7" fill="#2e7a8c" opacity="0.45"/><rect x="364.9" y="248.3" width="1.2" height="1.3" fill="#3a8a7a" opacity="0.44"/><rect x="368.6" y="361.2" width="1.7" height="2.1" fill="#5a6ac0" opacity="0.25"/><rect x="342.9" y="329.9" width="1.4" height="1.5" fill="#6a78c8" opacity="0.44"/><rect x="336.2" y="270.3" width="0.8" height="0.9" fill="#404890" opacity="0.68"/><rect x="385.0" y="303.2" width="1.2" height="1.4" fill="#3c4ca8" opacity="0.55"/><rect x="357.4" y="331.5" width="1.7" height="1.9" fill="#6a78c8" opacity="0.41"/><rect x="402.3" y="291.7" width="1.0" height="1.0" fill="#6a78c8" opacity="0.56"/><rect x="436.5" y="275.1" width="1.0" height="1.2" fill="#8890d4" opacity="0.67"/><rect x="393.9" y="363.0" width="1.2" height="1.1" fill="#404890" opacity="0.70"/><rect x="419.3" y="319.8" width="1.7" height="1.7" fill="#4a5ab4" opacity="0.44"/><rect x="374.5" y="327.8" width="1.0" height="1.0" fill="#7080cc" opacity="0.40"/><rect x="441.7" y="268.7" width="1.4" height="1.8" fill="#404890" opacity="0.71"/><rect x="448.5" y="279.1" width="0.8" height="1.0" fill="#4a5ab4" opacity="0.54"/><rect x="386.8" y="283.5" width="1.7" height="2.0" fill="#3c5cb0" opacity="0.37"/><rect x="440.6" y="342.8" width="1.7" height="2.2" fill="#3c5cb0" opacity="0.61"/><rect x="369.4" y="359.6" width="1.0" height="0.8" fill="#5a6ac0" opacity="0.74"/><rect x="387.3" y="348.6" width="1.0" height="1.0" fill="#7080cc" opacity="0.44"/><rect x="357.9" y="270.2" width="1.0" height="1.1" fill="#3c4ca8" opacity="0.62"/><rect x="430.4" y="341.6" width="0.8" height="0.9" fill="#3a8a7a" opacity="0.53"/><rect x="379.0" y="247.8" width="1.0" height="1.1" fill="#2a8a8a" opacity="0.75"/><rect x="346.8" y="291.3" width="1.7" height="1.9" fill="#8890d4" opacity="0.67"/><rect x="390.5" y="307.2" width="1.0" height="1.0" fill="#3a8a7a" opacity="0.72"/><rect x="408.8" y="350.5" width="1.4" height="1.5" fill="#7080cc" opacity="0.69"/><rect x="405.8" y="314.8" width="1.0" height="0.8" fill="#404890" opacity="0.42"/><rect x="381.0" y="236.7" width="1.2" height="1.2" fill="#3c4ca8" opacity="0.34"/><rect x="363.7" y="242.9" width="1.7" height="1.9" fill="#4a5ab4" opacity="0.36"/><rect x="339.0" y="306.7" width="1.0" height="0.9" fill="#5060b8" opacity="0.57"/><rect x="335.9" y="320.6" width="1.7" height="2.1" fill="#2e7a8c" opacity="0.56"/><rect x="383.7" y="343.8" width="1.0" height="0.9" fill="#5060b8" opacity="0.57"/><rect x="352.7" y="323.6" width="1.4" height="1.2" fill="#2e7a8c" opacity="0.50"/><rect x="428.2" y="349.0" width="1.4" height="1.8" fill="#404890" opacity="0.34"/><rect x="356.5" y="369.4" width="1.7" height="2.1" fill="#7080cc" opacity="0.70"/><rect x="396.2" y="315.2" width="1.2" height="1.3" fill="#2e7a8c" opacity="0.44"/><rect x="406.3" y="240.6" width="1.0" height="1.2" fill="#3c4ca8" opacity="0.51"/><rect x="356.0" y="273.1" width="1.2" height="1.2" fill="#404890" opacity="0.27"/><rect x="384.8" y="347.5" width="1.0" height="1.1" fill="#7080cc" opacity="0.29"/><rect x="383.4" y="347.1" width="1.0" height="1.0" fill="#2e7a8c" opacity="0.49"/><rect x="357.1" y="246.5" width="1.2" height="1.1" fill="#2e7a8c" opacity="0.62"/><rect x="430.3" y="356.9" width="1.2" height="1.1" fill="#7080cc" opacity="0.53"/><rect x="408.4" y="262.2" width="1.0" height="1.3" fill="#2e7a8c" opacity="0.52"/><rect x="368.5" y="377.3" width="0.8" height="0.7" fill="#4a5ab4" opacity="0.31"/><rect x="347.1" y="267.0" width="1.7" height="2.2" fill="#3c4ca8" opacity="0.48"/><rect x="370.0" y="337.5" width="1.0" height="1.2" fill="#4a5ab4" opacity="0.63"/><rect x="426.9" y="304.9" width="1.4" height="1.7" fill="#3a8a7a" opacity="0.73"/><rect x="446.1" y="342.7" width="0.8" height="0.7" fill="#6a78c8" opacity="0.71"/><rect x="356.3" y="311.3" width="1.0" height="0.9" fill="#2e7a8c" opacity="0.26"/><rect x="432.9" y="266.4" width="1.0" height="0.9" fill="#3c5cb0" opacity="0.38"/><rect x="362.8" y="325.3" width="1.7" height="1.4" fill="#2e7a8c" opacity="0.47"/><rect x="420.0" y="347.0" width="1.2" height="1.3" fill="#4a5ab4" opacity="0.33"/><rect x="360.1" y="344.9" width="0.8" height="0.7" fill="#2e7a8c" opacity="0.38"/><rect x="421.2" y="355.6" width="1.4" height="1.2" fill="#5a6ac0" opacity="0.43"/><rect x="348.8" y="290.5" width="1.7" height="2.1" fill="#7080cc" opacity="0.71"/><rect x="341.6" y="277.2" width="1.0" height="0.9" fill="#4a5ab4" opacity="0.68"/><rect x="424.3" y="313.2" width="0.8" height="1.0" fill="#7080cc" opacity="0.42"/><rect x="372.4" y="316.7" width="1.7" height="2.0" fill="#404890" opacity="0.61"/><rect x="438.6" y="264.6" width="1.2" height="1.0" fill="#5060b8" opacity="0.41"/><rect x="349.0" y="296.4" width="1.4" height="1.1" fill="#2a8a8a" opacity="0.38"/><rect x="410.3" y="349.7" width="1.2" height="1.4" fill="#5a6ac0" opacity="0.53"/><rect x="338.6" y="301.0" width="0.8" height="0.9" fill="#2e7a8c" opacity="0.63"/><rect x="432.3" y="300.4" width="1.7" height="1.6" fill="#3a8a7a" opacity="0.63"/><rect x="364.6" y="287.6" width="0.8" height="0.8" fill="#4a5ab4" opacity="0.66"/><rect x="345.8" y="268.6" width="1.0" height="0.8" fill="#3c5cb0" opacity="0.27"/><rect x="410.1" y="247.4" width="0.8" height="0.8" fill="#2e7a8c" opacity="0.49"/><rect x="435.2" y="271.6" width="1.0" height="1.1" fill="#8890d4" opacity="0.39"/><rect x="373.1" y="329.6" width="1.0" height="1.1" fill="#3a8a7a" opacity="0.32"/><rect x="351.1" y="330.7" width="0.8" height="0.7" fill="#2a8a8a" opacity="0.61"/><rect x="367.3" y="324.7" width="1.2" height="1.0" fill="#8890d4" opacity="0.54"/><rect x="336.8" y="289.6" width="1.4" height="1.3" fill="#6a78c8" opacity="0.74"/><rect x="428.6" y="281.7" width="0.8" height="0.9" fill="#7080cc" opacity="0.46"/><rect x="359.4" y="360.2" width="1.7" height="1.9" fill="#3a8a7a" opacity="0.28"/><rect x="380.2" y="358.2" width="1.0" height="0.9" fill="#3a8a7a" opacity="0.48"/><rect x="357.5" y="321.3" width="1.0" height="1.2" fill="#3c4ca8" opacity="0.63"/><rect x="375.5" y="343.6" width="1.7" height="2.0" fill="#3c4ca8" opacity="0.31"/><rect x="414.0" y="366.1" width="1.2" height="1.1" fill="#4a5ab4" opacity="0.69"/><rect x="367.5" y="293.7" width="1.2" height="1.4" fill="#3a8a7a" opacity="0.58"/><rect x="346.6" y="300.7" width="1.2" height="1.5" fill="#404890" opacity="0.50"/><rect x="424.5" y="369.3" width="1.0" height="1.1" fill="#2e7a8c" opacity="0.31"/><rect x="350.4" y="258.0" width="1.7" height="1.7" fill="#2e7a8c" opacity="0.52"/><rect x="433.7" y="285.7" width="1.0" height="1.1" fill="#3c5cb0" opacity="0.50"/><rect x="370.6" y="257.6" width="1.7" height="1.8" fill="#7080cc" opacity="0.27"/><rect x="378.3" y="358.1" width="1.0" height="1.2" fill="#7080cc" opacity="0.49"/><rect x="335.5" y="306.3" width="1.0" height="0.9" fill="#2e7a8c" opacity="0.70"/><rect x="371.3" y="231.3" width="1.0" height="1.2" fill="#2e7a8c" opacity="0.49"/><rect x="409.0" y="353.6" width="1.0" height="0.9" fill="#404890" opacity="0.35"/><rect x="414.9" y="346.6" width="1.4" height="1.2" fill="#3a8a7a" opacity="0.43"/><rect x="393.0" y="320.2" width="1.0" height="0.8" fill="#2e7a8c" opacity="0.58"/><rect x="428.9" y="319.2" width="0.8" height="0.9" fill="#6a78c8" opacity="0.49"/><rect x="427.5" y="333.1" width="1.0" height="1.2" fill="#8890d4" opacity="0.61"/><rect x="343.7" y="287.5" width="0.8" height="0.8" fill="#3c5cb0" opacity="0.66"/><rect x="337.8" y="289.8" width="1.7" height="2.2" fill="#3a8a7a" opacity="0.36"/><rect x="359.4" y="300.5" width="0.8" height="0.7" fill="#7080cc" opacity="0.66"/><rect x="427.0" y="286.0" width="1.2" height="1.4" fill="#2e7a8c" opacity="0.40"/><rect x="346.9" y="343.2" width="1.0" height="1.2" fill="#5060b8" opacity="0.49"/><rect x="371.2" y="364.4" width="1.4" height="1.5" fill="#4a5ab4" opacity="0.29"/><rect x="416.5" y="272.9" width="1.0" height="0.9" fill="#4a5ab4" opacity="0.58"/><rect x="340.5" y="295.2" width="1.0" height="1.3" fill="#2a8a8a" opacity="0.75"/><rect x="414.0" y="373.8" width="1.4" height="1.7" fill="#3c5cb0" opacity="0.42"/><rect x="362.9" y="236.4" width="1.0" height="1.2" fill="#404890" opacity="0.74"/><rect x="382.1" y="360.7" width="1.2" height="1.4" fill="#8890d4" opacity="0.28"/><rect x="398.1" y="378.7" width="1.0" height="1.0" fill="#3c4ca8" opacity="0.55"/><rect x="340.8" y="317.5" width="1.4" height="1.5" fill="#3a8a7a" opacity="0.29"/><rect x="363.5" y="357.0" width="1.4" height="1.7" fill="#3c5cb0" opacity="0.46"/><rect x="353.2" y="254.1" width="1.7" height="1.8" fill="#3c5cb0" opacity="0.26"/><rect x="411.8" y="369.0" width="1.0" height="1.1" fill="#2e7a8c" opacity="0.65"/><rect x="391.5" y="366.5" width="1.0" height="0.9" fill="#7080cc" opacity="0.70"/><rect x="400.9" y="355.7" width="1.7" height="1.8" fill="#3a8a7a" opacity="0.60"/><rect x="371.4" y="336.2" width="1.7" height="1.4" fill="#2a8a8a" opacity="0.32"/><rect x="413.4" y="370.7" width="1.7" height="1.9" fill="#2a8a8a" opacity="0.52"/><rect x="429.2" y="304.1" width="0.8" height="0.9" fill="#7080cc" opacity="0.50"/><rect x="408.4" y="355.8" width="1.7" height="1.9" fill="#404890" opacity="0.26"/><rect x="388.3" y="361.2" width="1.0" height="0.9" fill="#3c4ca8" opacity="0.59"/><rect x="446.4" y="301.4" width="1.7" height="2.0" fill="#5a6ac0" opacity="0.39"/><rect x="435.5" y="316.6" width="1.4" height="1.5" fill="#5060b8" opacity="0.69"/><rect x="339.9" y="325.3" width="1.2" height="1.3" fill="#8890d4" opacity="0.37"/><rect x="440.0" y="285.3" width="1.2" height="1.1" fill="#3c5cb0" opacity="0.33"/><rect x="435.1" y="302.9" width="1.7" height="1.8" fill="#6a78c8" opacity="0.53"/><rect x="346.1" y="331.2" width="1.0" height="1.1" fill="#6a78c8" opacity="0.67"/><rect x="408.6" y="309.6" width="1.0" height="0.8" fill="#4a5ab4" opacity="0.70"/><rect x="347.9" y="294.8" width="1.2" height="1.5" fill="#3c4ca8" opacity="0.67"/><rect x="407.4" y="354.6" width="1.7" height="1.9" fill="#7080cc" opacity="0.43"/><rect x="413.3" y="329.3" width="0.8" height="0.6" fill="#4a5ab4" opacity="0.72"/><rect x="341.4" y="314.3" width="1.2" height="1.2" fill="#6a78c8" opacity="0.44"/><rect x="383.5" y="365.0" width="1.2" height="1.0" fill="#3c4ca8" opacity="0.57"/><rect x="408.6" y="312.5" width="1.2" height="1.1" fill="#7080cc" opacity="0.27"/><rect x="439.4" y="332.1" width="1.0" height="1.1" fill="#3a8a7a" opacity="0.59"/><rect x="352.1" y="336.7" width="1.7" height="1.9" fill="#404890" opacity="0.42"/><rect x="347.7" y="339.5" width="1.0" height="1.0" fill="#3a8a7a" opacity="0.73"/><rect x="440.8" y="317.5" width="1.7" height="1.4" fill="#3c5cb0" opacity="0.69"/><rect x="448.7" y="284.5" width="1.4" height="1.5" fill="#8890d4" opacity="0.36"/><rect x="429.2" y="311.8" width="1.2" height="1.2" fill="#2a8a8a" opacity="0.28"/><rect x="353.7" y="316.4" width="1.7" height="2.1" fill="#5a6ac0" opacity="0.64"/><rect x="417.6" y="316.7" width="1.7" height="2.0" fill="#6a78c8" opacity="0.56"/><rect x="341.0" y="295.2" width="1.0" height="0.8" fill="#404890" opacity="0.72"/><rect x="407.6" y="378.0" width="1.2" height="1.5" fill="#3a8a7a" opacity="0.27"/><rect x="375.9" y="350.5" width="1.0" height="1.0" fill="#4a5ab4" opacity="0.36"/><rect x="378.6" y="351.0" width="0.8" height="0.7" fill="#6a78c8" opacity="0.48"/><rect x="349.5" y="311.2" width="0.8" height="0.9" fill="#2e7a8c" opacity="0.67"/><rect x="335.8" y="306.8" width="1.4" height="1.6" fill="#3c5cb0" opacity="0.72"/><rect x="351.8" y="341.1" width="1.0" height="1.3" fill="#4a5ab4" opacity="0.48"/><rect x="356.0" y="351.2" width="1.4" height="1.5" fill="#4a5ab4" opacity="0.68"/><rect x="341.2" y="349.9" width="1.0" height="1.1" fill="#2a8a8a" opacity="0.32"/><rect x="366.0" y="249.0" width="1.2" height="1.5" fill="#3c4ca8" opacity="0.60"/><rect x="365.8" y="268.9" width="1.7" height="1.4" fill="#4a5ab4" opacity="0.27"/><rect x="444.6" y="272.3" width="1.2" height="1.3" fill="#5a6ac0" opacity="0.52"/><rect x="365.0" y="354.2" width="1.2" height="1.4" fill="#3c5cb0" opacity="0.69"/><rect x="351.0" y="267.3" width="1.7" height="1.4" fill="#404890" opacity="0.74"/><rect x="339.1" y="284.6" width="1.0" height="0.9" fill="#3c5cb0" opacity="0.68"/><rect x="362.5" y="335.2" width="1.0" height="0.9" fill="#2a8a8a" opacity="0.34"/><rect x="365.1" y="336.5" width="1.0" height="0.8" fill="#2a8a8a" opacity="0.46"/><rect x="426.9" y="367.8" width="1.2" height="1.4" fill="#4a5ab4" opacity="0.64"/><rect x="370.4" y="352.1" width="1.7" height="1.8" fill="#3c4ca8" opacity="0.26"/><rect x="363.9" y="327.6" width="1.0" height="1.2" fill="#3a8a7a" opacity="0.48"/><rect x="446.9" y="314.3" width="1.7" height="1.4" fill="#3a8a7a" opacity="0.33"/><rect x="336.2" y="264.0" width="0.8" height="0.9" fill="#4a5ab4" opacity="0.44"/><rect x="444.2" y="265.3" width="1.7" height="2.1" fill="#8890d4" opacity="0.27"/><rect x="416.0" y="302.4" width="1.4" height="1.3" fill="#7080cc" opacity="0.27"/><rect x="438.8" y="276.5" width="0.9" height="0.9" fill="#5060b8" opacity="0.40"/><rect x="441.1" y="276.0" width="1.3" height="1.3" fill="#5060b8" opacity="0.38"/><rect x="440.2" y="275.2" width="1.1" height="1.1" fill="#5060b8" opacity="0.74"/><rect x="348.6" y="363.4" width="0.9" height="0.9" fill="#404890" opacity="0.62"/><rect x="349.5" y="366.1" width="0.9" height="0.9" fill="#404890" opacity="0.30"/><rect x="351.0" y="363.6" width="1.3" height="1.3" fill="#404890" opacity="0.51"/><rect x="350.9" y="362.4" width="1.3" height="1.3" fill="#404890" opacity="0.49"/><rect x="349.6" y="353.0" width="1.5" height="1.5" fill="#6a78c8" opacity="0.75"/><rect x="349.7" y="353.7" width="1.5" height="1.5" fill="#6a78c8" opacity="0.45"/><rect x="347.5" y="354.1" width="1.5" height="1.5" fill="#6a78c8" opacity="0.60"/><rect x="351.6" y="310.9" width="1.5" height="1.5" fill="#3a6a98" opacity="0.43"/><rect x="354.0" y="309.3" width="0.9" height="0.9" fill="#3a6a98" opacity="0.35"/><rect x="352.6" y="310.0" width="1.1" height="1.1" fill="#3a6a98" opacity="0.44"/><rect x="410.0" y="362.6" width="1.3" height="1.3" fill="#6a78c8" opacity="0.59"/><rect x="411.4" y="361.0" width="1.3" height="1.3" fill="#6a78c8" opacity="0.44"/><rect x="409.0" y="363.0" width="1.1" height="1.1" fill="#6a78c8" opacity="0.51"/><rect x="356.5" y="296.6" width="1.1" height="1.1" fill="#3c4ca8" opacity="0.60"/><rect x="355.5" y="297.5" width="1.1" height="1.1" fill="#3c4ca8" opacity="0.55"/><rect x="354.4" y="295.4" width="0.9" height="0.9" fill="#3c4ca8" opacity="0.46"/><rect x="374.4" y="327.6" width="1.5" height="1.5" fill="#5a6ac0" opacity="0.41"/><rect x="375.5" y="325.4" width="1.3" height="1.3" fill="#5a6ac0" opacity="0.58"/><rect x="373.1" y="324.9" width="0.9" height="0.9" fill="#5a6ac0" opacity="0.48"/><rect x="374.2" y="329.3" width="0.9" height="0.9" fill="#5a6ac0" opacity="0.51"/><rect x="451.1" y="308.7" width="1.1" height="1.1" fill="#3a6a98" opacity="0.40"/><rect x="453.5" y="310.0" width="1.1" height="1.1" fill="#3a6a98" opacity="0.66"/><rect x="452.6" y="306.8" width="1.1" height="1.1" fill="#3a6a98" opacity="0.33"/><rect x="450.5" y="311.4" width="1.5" height="1.5" fill="#3a6a98" opacity="0.33"/><rect x="435.7" y="319.1" width="0.9" height="0.9" fill="#3a6a98" opacity="0.50"/><rect x="436.1" y="321.2" width="1.3" height="1.3" fill="#3a6a98" opacity="0.45"/><rect x="433.2" y="319.7" width="1.5" height="1.5" fill="#3a6a98" opacity="0.59"/><rect x="337.3" y="311.2" width="1.5" height="1.5" fill="#4a5ab4" opacity="0.35"/><rect x="335.1" y="310.6" width="0.9" height="0.9" fill="#4a5ab4" opacity="0.67"/><rect x="337.1" y="311.0" width="1.3" height="1.3" fill="#4a5ab4" opacity="0.73"/><rect x="339.1" y="313.4" width="1.1" height="1.1" fill="#4a5ab4" opacity="0.48"/><rect x="336.1" y="308.4" width="1.3" height="1.3" fill="#4a5ab4" opacity="0.60"/><rect x="394.2" y="357.0" width="1.3" height="1.3" fill="#3c4ca8" opacity="0.66"/><rect x="395.6" y="356.3" width="1.1" height="1.1" fill="#3c4ca8" opacity="0.43"/><rect x="393.5" y="353.2" width="1.3" height="1.3" fill="#3c4ca8" opacity="0.49"/><rect x="336.6" y="296.9" width="1.5" height="1.5" fill="#5a6ac0" opacity="0.50"/><rect x="335.9" y="295.6" width="1.5" height="1.5" fill="#5a6ac0" opacity="0.66"/><rect x="335.9" y="295.7" width="0.9" height="0.9" fill="#5a6ac0" opacity="0.31"/><rect x="337.1" y="297.6" width="1.3" height="1.3" fill="#5a6ac0" opacity="0.61"/><rect x="337.9" y="295.3" width="0.9" height="0.9" fill="#5a6ac0" opacity="0.68"/><rect x="337.0" y="296.1" width="0.9" height="0.9" fill="#5a6ac0" opacity="0.44"/><rect x="423.2" y="272.3" width="1.5" height="1.5" fill="#3a6a98" opacity="0.31"/><rect x="424.1" y="273.1" width="1.5" height="1.5" fill="#3a6a98" opacity="0.67"/><rect x="423.0" y="273.7" width="1.5" height="1.5" fill="#3a6a98" opacity="0.42"/><rect x="423.3" y="274.5" width="1.1" height="1.1" fill="#3a6a98" opacity="0.46"/><rect x="424.1" y="273.2" width="1.3" height="1.3" fill="#3a6a98" opacity="0.35"/><rect x="434.0" y="294.2" width="1.1" height="1.1" fill="#5a6ac0" opacity="0.56"/><rect x="435.3" y="295.3" width="1.5" height="1.5" fill="#5a6ac0" opacity="0.51"/><rect x="434.3" y="295.3" width="0.9" height="0.9" fill="#5a6ac0" opacity="0.64"/><rect x="352.0" y="345.2" width="1.5" height="1.5" fill="#5060b8" opacity="0.56"/><rect x="349.0" y="345.3" width="0.9" height="0.9" fill="#5060b8" opacity="0.48"/><rect x="351.4" y="344.5" width="1.3" height="1.3" fill="#5060b8" opacity="0.39"/><rect x="349.7" y="344.3" width="1.5" height="1.5" fill="#5060b8" opacity="0.60"/><rect x="352.4" y="345.4" width="0.9" height="0.9" fill="#5060b8" opacity="0.34"/><rect x="350.4" y="345.5" width="1.5" height="1.5" fill="#5060b8" opacity="0.74"/><rect x="376.6" y="266.8" width="1.3" height="1.3" fill="#2a8a8a" opacity="0.73"/><rect x="379.3" y="265.7" width="1.1" height="1.1" fill="#2a8a8a" opacity="0.58"/><rect x="377.6" y="266.2" width="1.1" height="1.1" fill="#2a8a8a" opacity="0.64"/><rect x="335.9" y="323.0" width="0.9" height="0.9" fill="#404890" opacity="0.48"/><rect x="337.4" y="322.7" width="1.3" height="1.3" fill="#404890" opacity="0.49"/><rect x="335.3" y="323.5" width="1.5" height="1.5" fill="#404890" opacity="0.67"/><rect x="363.0" y="328.1" width="1.1" height="1.1" fill="#3a6a98" opacity="0.56"/><rect x="364.5" y="330.8" width="1.1" height="1.1" fill="#3a6a98" opacity="0.74"/><rect x="364.1" y="328.4" width="1.1" height="1.1" fill="#3a6a98" opacity="0.33"/><rect x="351.5" y="347.8" width="1.3" height="1.3" fill="#5060b8" opacity="0.55"/><rect x="349.3" y="345.8" width="1.3" height="1.3" fill="#5060b8" opacity="0.49"/><rect x="350.3" y="345.9" width="1.1" height="1.1" fill="#5060b8" opacity="0.66"/><rect x="350.9" y="346.0" width="1.5" height="1.5" fill="#5060b8" opacity="0.45"/><rect x="343.2" y="290.2" width="1.3" height="1.3" fill="#34788c" opacity="0.64"/><rect x="343.5" y="289.9" width="1.5" height="1.5" fill="#34788c" opacity="0.53"/><rect x="341.2" y="289.2" width="1.3" height="1.3" fill="#34788c" opacity="0.63"/><rect x="344.0" y="287.5" width="1.1" height="1.1" fill="#34788c" opacity="0.60"/><rect x="364.1" y="342.2" width="1.3" height="1.3" fill="#2a8a8a" opacity="0.67"/><rect x="362.9" y="340.9" width="1.3" height="1.3" fill="#2a8a8a" opacity="0.74"/><rect x="366.3" y="343.2" width="1.3" height="1.3" fill="#2a8a8a" opacity="0.32"/><rect x="371.4" y="366.6" width="1.1" height="1.1" fill="#34788c" opacity="0.64"/><rect x="372.4" y="363.4" width="1.5" height="1.5" fill="#34788c" opacity="0.45"/><rect x="370.8" y="364.5" width="0.9" height="0.9" fill="#34788c" opacity="0.46"/><rect x="356.8" y="259.4" width="1.3" height="1.3" fill="#2a8a8a" opacity="0.39"/><rect x="358.9" y="262.5" width="1.5" height="1.5" fill="#2a8a8a" opacity="0.63"/><rect x="356.4" y="264.3" width="1.5" height="1.5" fill="#2a8a8a" opacity="0.31"/><rect x="444.3" y="330.0" width="1.1" height="1.1" fill="#5060b8" opacity="0.73"/><rect x="444.6" y="326.4" width="1.3" height="1.3" fill="#5060b8" opacity="0.49"/><rect x="443.8" y="328.2" width="1.3" height="1.3" fill="#5060b8" opacity="0.31"/><rect x="443.5" y="330.7" width="0.9" height="0.9" fill="#5060b8" opacity="0.38"/><rect x="444.8" y="329.1" width="1.1" height="1.1" fill="#5060b8" opacity="0.49"/><rect x="444.2" y="332.0" width="1.1" height="1.1" fill="#5060b8" opacity="0.75"/><rect x="366.0" y="242.6" width="1.5" height="1.5" fill="#5060b8" opacity="0.46"/><rect x="364.1" y="240.9" width="1.5" height="1.5" fill="#5060b8" opacity="0.68"/><rect x="367.1" y="244.3" width="1.3" height="1.3" fill="#5060b8" opacity="0.42"/><rect x="365.2" y="242.0" width="0.9" height="0.9" fill="#5060b8" opacity="0.48"/><rect x="365.5" y="240.7" width="0.9" height="0.9" fill="#5060b8" opacity="0.68"/><rect x="366.9" y="239.9" width="1.3" height="1.3" fill="#5060b8" opacity="0.53"/><rect x="381.0" y="351.3" width="0.9" height="0.9" fill="#5a6ac0" opacity="0.57"/><rect x="378.8" y="349.4" width="1.5" height="1.5" fill="#5a6ac0" opacity="0.57"/><rect x="381.4" y="353.0" width="1.3" height="1.3" fill="#5a6ac0" opacity="0.68"/><rect x="454.0" y="298.7" width="1.1" height="1.1" fill="#3c4ca8" opacity="0.44"/><rect x="453.8" y="297.0" width="0.9" height="0.9" fill="#3c4ca8" opacity="0.36"/><rect x="453.7" y="298.9" width="1.1" height="1.1" fill="#3c4ca8" opacity="0.42"/><rect x="452.7" y="299.3" width="1.3" height="1.3" fill="#3c4ca8" opacity="0.60"/><rect x="451.4" y="299.8" width="0.9" height="0.9" fill="#3c4ca8" opacity="0.60"/><rect x="454.4" y="301.4" width="1.1" height="1.1" fill="#3c4ca8" opacity="0.63"/><rect x="345.9" y="287.8" width="1.5" height="1.5" fill="#6a78c8" opacity="0.68"/><rect x="346.5" y="289.5" width="1.1" height="1.1" fill="#6a78c8" opacity="0.64"/><rect x="347.3" y="290.0" width="0.9" height="0.9" fill="#6a78c8" opacity="0.68"/><rect x="344.6" y="287.5" width="1.3" height="1.3" fill="#6a78c8" opacity="0.49"/><rect x="376.4" y="355.6" width="1.3" height="1.3" fill="#34788c" opacity="0.68"/><rect x="377.1" y="355.2" width="0.9" height="0.9" fill="#34788c" opacity="0.40"/><rect x="377.7" y="355.7" width="1.1" height="1.1" fill="#34788c" opacity="0.74"/><rect x="377.6" y="354.4" width="1.1" height="1.1" fill="#34788c" opacity="0.66"/><rect x="379.5" y="356.1" width="0.9" height="0.9" fill="#34788c" opacity="0.37"/><rect x="375.3" y="356.1" width="0.9" height="0.9" fill="#34788c" opacity="0.41"/><rect x="430.6" y="293.0" width="1.5" height="1.5" fill="#3c4ca8" opacity="0.34"/><rect x="427.0" y="295.5" width="1.5" height="1.5" fill="#3c4ca8" opacity="0.44"/><rect x="429.3" y="297.0" width="0.9" height="0.9" fill="#3c4ca8" opacity="0.74"/><rect x="429.3" y="292.7" width="1.5" height="1.5" fill="#3c4ca8" opacity="0.57"/><rect x="399.5" y="350.3" width="1.5" height="1.5" fill="#2a8a8a" opacity="0.75"/><rect x="399.1" y="350.5" width="1.5" height="1.5" fill="#2a8a8a" opacity="0.65"/><rect x="401.3" y="350.1" width="0.9" height="0.9" fill="#2a8a8a" opacity="0.57"/><rect x="402.0" y="350.7" width="1.3" height="1.3" fill="#2a8a8a" opacity="0.59"/><rect x="426.4" y="329.2" width="1.3" height="1.3" fill="#3c4ca8" opacity="0.36"/><rect x="426.2" y="328.6" width="1.3" height="1.3" fill="#3c4ca8" opacity="0.73"/><rect x="426.5" y="325.2" width="0.9" height="0.9" fill="#3c4ca8" opacity="0.38"/><rect x="420.8" y="360.7" width="1.5" height="1.5" fill="#3c4ca8" opacity="0.36"/><rect x="421.9" y="359.4" width="1.5" height="1.5" fill="#3c4ca8" opacity="0.61"/><rect x="418.9" y="363.8" width="1.3" height="1.3" fill="#3c4ca8" opacity="0.61"/><rect x="420.5" y="362.6" width="1.3" height="1.3" fill="#3c4ca8" opacity="0.34"/><rect x="421.2" y="363.8" width="1.3" height="1.3" fill="#3c4ca8" opacity="0.38"/><rect x="372.0" y="252.0" width="0.9" height="0.9" fill="#34788c" opacity="0.45"/><rect x="370.5" y="251.3" width="1.1" height="1.1" fill="#34788c" opacity="0.34"/><rect x="373.2" y="252.4" width="1.1" height="1.1" fill="#34788c" opacity="0.35"/><rect x="436.6" y="252.7" width="1.5" height="1.5" fill="#4a5ab4" opacity="0.31"/><rect x="439.8" y="252.3" width="1.3" height="1.3" fill="#4a5ab4" opacity="0.52"/><rect x="438.9" y="252.8" width="1.5" height="1.5" fill="#4a5ab4" opacity="0.44"/><rect x="436.8" y="250.5" width="1.3" height="1.3" fill="#4a5ab4" opacity="0.40"/><rect x="422.7" y="263.8" width="1.1" height="1.1" fill="#2a8a8a" opacity="0.38"/><rect x="420.8" y="265.0" width="1.1" height="1.1" fill="#2a8a8a" opacity="0.55"/><rect x="420.3" y="260.7" width="0.9" height="0.9" fill="#2a8a8a" opacity="0.52"/><rect x="420.6" y="264.2" width="1.5" height="1.5" fill="#2a8a8a" opacity="0.63"/><rect x="419.5" y="261.8" width="1.5" height="1.5" fill="#2a8a8a" opacity="0.53"/><rect x="420.6" y="260.6" width="1.5" height="1.5" fill="#2a8a8a" opacity="0.64"/><rect x="364.8" y="331.6" width="1.5" height="1.5" fill="#3a6a98" opacity="0.71"/><rect x="362.8" y="329.1" width="1.3" height="1.3" fill="#3a6a98" opacity="0.69"/><rect x="362.8" y="330.2" width="1.5" height="1.5" fill="#3a6a98" opacity="0.46"/><rect x="364.7" y="331.7" width="1.5" height="1.5" fill="#3a6a98" opacity="0.67"/><rect x="362.9" y="328.2" width="1.1" height="1.1" fill="#3a6a98" opacity="0.53"/><rect x="371.0" y="301.2" width="1.5" height="1.5" fill="#5060b8" opacity="0.55"/><rect x="371.2" y="302.0" width="1.1" height="1.1" fill="#5060b8" opacity="0.53"/><rect x="371.6" y="303.9" width="1.5" height="1.5" fill="#5060b8" opacity="0.48"/><rect x="428.4" y="339.6" width="1.1" height="1.1" fill="#3a6a98" opacity="0.73"/><rect x="425.5" y="338.2" width="0.9" height="0.9" fill="#3a6a98" opacity="0.64"/><rect x="426.9" y="339.1" width="1.1" height="1.1" fill="#3a6a98" opacity="0.48"/><rect x="427.0" y="335.0" width="1.1" height="1.1" fill="#3a6a98" opacity="0.67"/><rect x="427.2" y="340.5" width="0.9" height="0.9" fill="#3a6a98" opacity="0.73"/><rect x="427.6" y="338.7" width="1.1" height="1.1" fill="#3a6a98" opacity="0.67"/><rect x="380.9" y="238.3" width="1.1" height="1.1" fill="#5060b8" opacity="0.42"/><rect x="382.1" y="237.7" width="1.5" height="1.5" fill="#5060b8" opacity="0.58"/><rect x="384.8" y="239.4" width="1.5" height="1.5" fill="#5060b8" opacity="0.31"/><rect x="383.9" y="239.0" width="1.1" height="1.1" fill="#5060b8" opacity="0.53"/><rect x="386.3" y="235.6" width="1.5" height="1.5" fill="#5060b8" opacity="0.39"/><rect x="383.1" y="241.7" width="1.1" height="1.1" fill="#5060b8" opacity="0.53"/><rect x="356.1" y="337.1" width="1.5" height="1.5" fill="#5060b8" opacity="0.34"/><rect x="355.7" y="337.8" width="0.9" height="0.9" fill="#5060b8" opacity="0.37"/><rect x="355.9" y="338.7" width="0.9" height="0.9" fill="#5060b8" opacity="0.43"/><rect x="356.3" y="339.0" width="0.9" height="0.9" fill="#5060b8" opacity="0.44"/><rect x="361.3" y="345.9" width="0.9" height="0.9" fill="#2a8a8a" opacity="0.73"/><rect x="357.5" y="346.1" width="0.9" height="0.9" fill="#2a8a8a" opacity="0.34"/><rect x="359.3" y="348.2" width="1.1" height="1.1" fill="#2a8a8a" opacity="0.44"/><rect x="359.9" y="345.9" width="1.1" height="1.1" fill="#2a8a8a" opacity="0.75"/><rect x="368.0" y="328.2" width="1.1" height="1.1" fill="#6a78c8" opacity="0.60"/><rect x="369.1" y="329.4" width="1.3" height="1.3" fill="#6a78c8" opacity="0.57"/><rect x="369.8" y="329.8" width="0.9" height="0.9" fill="#6a78c8" opacity="0.43"/><rect x="388.6" y="233.5" width="1.1" height="1.1" fill="#5a6ac0" opacity="0.68"/><rect x="390.4" y="232.8" width="1.1" height="1.1" fill="#5a6ac0" opacity="0.62"/><rect x="390.0" y="232.6" width="1.3" height="1.3" fill="#5a6ac0" opacity="0.69"/><rect x="364.3" y="304.4" width="1.3" height="1.3" fill="#5a6ac0" opacity="0.52"/><rect x="366.4" y="306.0" width="1.1" height="1.1" fill="#5a6ac0" opacity="0.58"/><rect x="362.9" y="305.0" width="0.9" height="0.9" fill="#5a6ac0" opacity="0.74"/><rect x="364.6" y="306.3" width="0.9" height="0.9" fill="#5a6ac0" opacity="0.73"/><rect x="364.0" y="305.3" width="0.9" height="0.9" fill="#5a6ac0" opacity="0.71"/><rect x="342.8" y="299.3" width="1.5" height="1.5" fill="#5060b8" opacity="0.41"/><rect x="343.4" y="300.3" width="1.3" height="1.3" fill="#5060b8" opacity="0.60"/><rect x="344.5" y="296.0" width="0.9" height="0.9" fill="#5060b8" opacity="0.71"/><rect x="347.5" y="344.5" width="1.3" height="1.3" fill="#34788c" opacity="0.68"/><rect x="350.1" y="344.9" width="0.9" height="0.9" fill="#34788c" opacity="0.75"/><rect x="351.3" y="346.3" width="1.3" height="1.3" fill="#34788c" opacity="0.43"/><rect x="349.9" y="342.9" width="1.1" height="1.1" fill="#34788c" opacity="0.63"/><rect x="445.2" y="308.9" width="1.1" height="1.1" fill="#2a8a8a" opacity="0.39"/><rect x="444.7" y="305.8" width="1.3" height="1.3" fill="#2a8a8a" opacity="0.46"/><rect x="443.2" y="307.8" width="1.1" height="1.1" fill="#2a8a8a" opacity="0.44"/><rect x="443.9" y="308.2" width="0.9" height="0.9" fill="#2a8a8a" opacity="0.51"/><rect x="407.1" y="345.0" width="1.1" height="1.1" fill="#5060b8" opacity="0.54"/><rect x="406.8" y="344.0" width="0.9" height="0.9" fill="#5060b8" opacity="0.61"/><rect x="408.1" y="345.6" width="1.5" height="1.5" fill="#5060b8" opacity="0.38"/><rect x="408.6" y="344.6" width="1.3" height="1.3" fill="#5060b8" opacity="0.62"/><rect x="406.3" y="345.7" width="0.9" height="0.9" fill="#5060b8" opacity="0.39"/><rect x="413.2" y="275.8" width="0.9" height="0.9" fill="#5a6ac0" opacity="0.64"/><rect x="412.5" y="273.2" width="1.5" height="1.5" fill="#5a6ac0" opacity="0.63"/><rect x="412.1" y="273.7" width="1.3" height="1.3" fill="#5a6ac0" opacity="0.56"/><rect x="412.8" y="274.3" width="1.5" height="1.5" fill="#5a6ac0" opacity="0.70"/><rect x="411.7" y="273.9" width="0.9" height="0.9" fill="#5a6ac0" opacity="0.69"/><rect x="377.3" y="240.0" width="1.3" height="1.3" fill="#4a5ab4" opacity="0.42"/><rect x="378.1" y="242.0" width="1.1" height="1.1" fill="#4a5ab4" opacity="0.59"/><rect x="378.1" y="239.2" width="0.9" height="0.9" fill="#4a5ab4" opacity="0.74"/><rect x="380.9" y="240.0" width="1.1" height="1.1" fill="#4a5ab4" opacity="0.67"/><rect x="379.7" y="240.1" width="1.5" height="1.5" fill="#4a5ab4" opacity="0.70"/><rect x="439.8" y="271.9" width="0.9" height="0.9" fill="#5a6ac0" opacity="0.35"/><rect x="439.1" y="272.8" width="1.5" height="1.5" fill="#5a6ac0" opacity="0.68"/><rect x="438.3" y="271.1" width="1.5" height="1.5" fill="#5a6ac0" opacity="0.71"/><rect x="440.5" y="272.8" width="1.5" height="1.5" fill="#5a6ac0" opacity="0.54"/><rect x="440.0" y="271.1" width="1.5" height="1.5" fill="#5a6ac0" opacity="0.54"/><rect x="444.1" y="306.8" width="0.9" height="0.9" fill="#4a5ab4" opacity="0.65"/><rect x="442.6" y="309.1" width="1.5" height="1.5" fill="#4a5ab4" opacity="0.58"/><rect x="439.9" y="308.6" width="0.9" height="0.9" fill="#4a5ab4" opacity="0.35"/><rect x="443.0" y="306.8" width="1.5" height="1.5" fill="#4a5ab4" opacity="0.69"/><rect x="443.8" y="308.2" width="1.1" height="1.1" fill="#4a5ab4" opacity="0.65"/><rect x="388.9" y="357.6" width="0.9" height="0.9" fill="#3c4ca8" opacity="0.72"/><rect x="388.7" y="360.4" width="1.1" height="1.1" fill="#3c4ca8" opacity="0.61"/><rect x="388.8" y="358.8" width="1.3" height="1.3" fill="#3c4ca8" opacity="0.39"/><rect x="356.5" y="371.0" width="1.3" height="1.3" fill="#3c4ca8" opacity="0.49"/><rect x="356.6" y="368.1" width="1.5" height="1.5" fill="#3c4ca8" opacity="0.42"/><rect x="355.6" y="366.2" width="1.1" height="1.1" fill="#3c4ca8" opacity="0.35"/><rect x="358.2" y="368.2" width="1.1" height="1.1" fill="#3c4ca8" opacity="0.67"/><rect x="355.4" y="368.7" width="1.1" height="1.1" fill="#3c4ca8" opacity="0.48"/><rect x="369.8" y="259.9" width="1.3" height="1.3" fill="#4a5ab4" opacity="0.54"/><rect x="371.2" y="262.5" width="1.5" height="1.5" fill="#4a5ab4" opacity="0.37"/><rect x="370.8" y="260.3" width="1.5" height="1.5" fill="#4a5ab4" opacity="0.51"/><rect x="354.1" y="325.7" width="1.3" height="1.3" fill="#4a5ab4" opacity="0.70"/><rect x="353.9" y="326.9" width="1.1" height="1.1" fill="#4a5ab4" opacity="0.38"/><rect x="354.4" y="323.7" width="1.5" height="1.5" fill="#4a5ab4" opacity="0.52"/><rect x="353.8" y="326.1" width="0.9" height="0.9" fill="#4a5ab4" opacity="0.46"/><rect x="353.0" y="326.3" width="1.3" height="1.3" fill="#4a5ab4" opacity="0.47"/><rect x="415.7" y="348.4" width="1.5" height="1.5" fill="#3c4ca8" opacity="0.53"/><rect x="413.0" y="347.0" width="1.1" height="1.1" fill="#3c4ca8" opacity="0.39"/><rect x="416.2" y="347.9" width="1.5" height="1.5" fill="#3c4ca8" opacity="0.69"/><rect x="414.1" y="348.3" width="0.9" height="0.9" fill="#3c4ca8" opacity="0.55"/><rect x="414.1" y="346.5" width="1.5" height="1.5" fill="#3c4ca8" opacity="0.69"/><rect x="335.3" y="263.1" width="1.3" height="1.3" fill="#404890" opacity="0.52"/><rect x="335.5" y="265.3" width="0.9" height="0.9" fill="#404890" opacity="0.43"/><rect x="335.8" y="262.0" width="1.3" height="1.3" fill="#404890" opacity="0.46"/><rect x="335.7" y="261.3" width="1.3" height="1.3" fill="#404890" opacity="0.67"/><rect x="342.8" y="280.8" width="1.1" height="1.1" fill="#2a8a8a" opacity="0.49"/><rect x="343.0" y="283.2" width="1.5" height="1.5" fill="#2a8a8a" opacity="0.39"/><rect x="344.1" y="282.3" width="1.3" height="1.3" fill="#2a8a8a" opacity="0.50"/><rect x="416.0" y="342.9" width="0.9" height="0.9" fill="#5a6ac0" opacity="0.62"/><rect x="415.8" y="345.9" width="1.3" height="1.3" fill="#5a6ac0" opacity="0.32"/><rect x="417.7" y="344.5" width="0.9" height="0.9" fill="#5a6ac0" opacity="0.70"/><rect x="353.0" y="329.5" width="1.3" height="1.3" fill="#3c4ca8" opacity="0.42"/><rect x="354.2" y="330.2" width="0.9" height="0.9" fill="#3c4ca8" opacity="0.70"/><rect x="352.6" y="329.4" width="0.9" height="0.9" fill="#3c4ca8" opacity="0.69"/><rect x="372.1" y="331.9" width="0.9" height="0.9" fill="#4a5ab4" opacity="0.69"/><rect x="374.6" y="331.4" width="1.5" height="1.5" fill="#4a5ab4" opacity="0.64"/><rect x="372.7" y="332.2" width="1.1" height="1.1" fill="#4a5ab4" opacity="0.54"/><rect x="378.0" y="331.7" width="1.3" height="1.3" fill="#4a5ab4" opacity="0.59"/><rect x="374.2" y="331.4" width="1.3" height="1.3" fill="#4a5ab4" opacity="0.49"/><rect x="372.6" y="330.4" width="1.5" height="1.5" fill="#4a5ab4" opacity="0.49"/><rect x="420.1" y="354.4" width="1.3" height="1.3" fill="#5060b8" opacity="0.51"/><rect x="420.7" y="351.5" width="1.5" height="1.5" fill="#5060b8" opacity="0.49"/><rect x="419.7" y="352.9" width="1.1" height="1.1" fill="#5060b8" opacity="0.46"/><rect x="421.8" y="352.6" width="1.3" height="1.3" fill="#5060b8" opacity="0.54"/><rect x="376.1" y="261.8" width="1.5" height="1.5" fill="#34788c" opacity="0.42"/><rect x="378.0" y="262.2" width="1.3" height="1.3" fill="#34788c" opacity="0.58"/><rect x="378.2" y="262.3" width="1.1" height="1.1" fill="#34788c" opacity="0.42"/><rect x="376.7" y="264.6" width="1.3" height="1.3" fill="#34788c" opacity="0.32"/><rect x="362.7" y="320.5" width="1.1" height="1.1" fill="#3a6a98" opacity="0.30"/><rect x="364.4" y="319.4" width="1.3" height="1.3" fill="#3a6a98" opacity="0.44"/><rect x="364.9" y="317.8" width="1.3" height="1.3" fill="#3a6a98" opacity="0.71"/><rect x="351.4" y="304.4" width="1.5" height="1.5" fill="#34788c" opacity="0.45"/><rect x="352.8" y="302.7" width="0.9" height="0.9" fill="#34788c" opacity="0.34"/><rect x="354.4" y="303.1" width="1.1" height="1.1" fill="#34788c" opacity="0.73"/><rect x="354.5" y="304.0" width="1.1" height="1.1" fill="#34788c" opacity="0.44"/><rect x="354.4" y="301.9" width="1.5" height="1.5" fill="#34788c" opacity="0.63"/><rect x="353.0" y="301.5" width="0.9" height="0.9" fill="#34788c" opacity="0.36"/><rect x="431.4" y="337.7" width="1.3" height="1.3" fill="#3c4ca8" opacity="0.44"/><rect x="431.8" y="339.9" width="0.9" height="0.9" fill="#3c4ca8" opacity="0.60"/><rect x="431.1" y="336.5" width="1.5" height="1.5" fill="#3c4ca8" opacity="0.52"/><rect x="430.7" y="337.6" width="1.5" height="1.5" fill="#3c4ca8" opacity="0.75"/><rect x="429.3" y="342.7" width="1.1" height="1.1" fill="#3a6a98" opacity="0.48"/><rect x="430.9" y="339.5" width="1.1" height="1.1" fill="#3a6a98" opacity="0.36"/><rect x="432.0" y="340.6" width="0.9" height="0.9" fill="#3a6a98" opacity="0.61"/><rect x="432.2" y="341.1" width="1.3" height="1.3" fill="#3a6a98" opacity="0.44"/><rect x="337.7" y="292.8" width="0.9" height="0.9" fill="#6a78c8" opacity="0.50"/><rect x="336.8" y="293.9" width="1.1" height="1.1" fill="#6a78c8" opacity="0.73"/><rect x="338.0" y="293.9" width="1.5" height="1.5" fill="#6a78c8" opacity="0.30"/><rect x="356.6" y="317.5" width="1.3" height="1.3" fill="#5a6ac0" opacity="0.56"/><rect x="358.3" y="315.3" width="0.9" height="0.9" fill="#5a6ac0" opacity="0.39"/><rect x="355.6" y="315.4" width="0.9" height="0.9" fill="#5a6ac0" opacity="0.32"/><rect x="354.8" y="316.6" width="1.3" height="1.3" fill="#5a6ac0" opacity="0.45"/><rect x="367.1" y="239.2" width="1.3" height="1.3" fill="#3c4ca8" opacity="0.31"/><rect x="365.5" y="240.0" width="1.5" height="1.5" fill="#3c4ca8" opacity="0.64"/><rect x="365.5" y="238.3" width="0.9" height="0.9" fill="#3c4ca8" opacity="0.45"/><rect x="382.0" y="377.4" width="1.5" height="1.5" fill="#3c4ca8" opacity="0.44"/><rect x="379.7" y="377.5" width="1.5" height="1.5" fill="#3c4ca8" opacity="0.46"/><rect x="380.7" y="378.6" width="1.5" height="1.5" fill="#3c4ca8" opacity="0.60"/><rect x="369.8" y="249.1" width="1.1" height="1.1" fill="#3a6a98" opacity="0.57"/><rect x="370.4" y="249.9" width="1.5" height="1.5" fill="#3a6a98" opacity="0.61"/><rect x="369.6" y="248.6" width="1.5" height="1.5" fill="#3a6a98" opacity="0.57"/><rect x="371.2" y="250.1" width="0.9" height="0.9" fill="#3a6a98" opacity="0.71"/><rect x="368.3" y="249.3" width="0.9" height="0.9" fill="#3a6a98" opacity="0.56"/><rect x="343.2" y="339.2" width="1.1" height="1.1" fill="#5060b8" opacity="0.73"/><rect x="344.8" y="339.2" width="0.9" height="0.9" fill="#5060b8" opacity="0.62"/><rect x="341.0" y="337.1" width="0.9" height="0.9" fill="#5060b8" opacity="0.37"/><rect x="340.3" y="337.5" width="1.5" height="1.5" fill="#5060b8" opacity="0.37"/><rect x="341.8" y="339.5" width="1.3" height="1.3" fill="#5060b8" opacity="0.65"/><rect x="342.1" y="338.4" width="1.5" height="1.5" fill="#5060b8" opacity="0.49"/><rect x="401.8" y="341.5" width="1.3" height="1.3" fill="#2a8a8a" opacity="0.37"/><rect x="403.8" y="343.6" width="0.9" height="0.9" fill="#2a8a8a" opacity="0.45"/><rect x="402.7" y="342.7" width="1.3" height="1.3" fill="#2a8a8a" opacity="0.74"/><rect x="402.5" y="343.0" width="0.9" height="0.9" fill="#2a8a8a" opacity="0.52"/><rect x="400.7" y="342.9" width="1.5" height="1.5" fill="#2a8a8a" opacity="0.73"/><rect x="437.7" y="276.2" width="1.3" height="1.3" fill="#5a6ac0" opacity="0.70"/><rect x="433.9" y="278.1" width="0.9" height="0.9" fill="#5a6ac0" opacity="0.39"/><rect x="436.5" y="276.4" width="0.9" height="0.9" fill="#5a6ac0" opacity="0.51"/><rect x="435.3" y="278.0" width="1.5" height="1.5" fill="#5a6ac0" opacity="0.33"/><rect x="424.4" y="360.3" width="0.9" height="0.9" fill="#4a5ab4" opacity="0.44"/><rect x="427.2" y="360.5" width="1.3" height="1.3" fill="#4a5ab4" opacity="0.59"/><rect x="423.9" y="360.0" width="0.9" height="0.9" fill="#4a5ab4" opacity="0.59"/><rect x="427.6" y="358.7" width="1.3" height="1.3" fill="#4a5ab4" opacity="0.46"/><rect x="426.9" y="361.4" width="1.3" height="1.3" fill="#4a5ab4" opacity="0.43"/><rect x="369.9" y="354.0" width="1.1" height="1.1" fill="#34788c" opacity="0.33"/><rect x="372.2" y="352.7" width="0.9" height="0.9" fill="#34788c" opacity="0.55"/><rect x="367.6" y="354.4" width="1.5" height="1.5" fill="#34788c" opacity="0.32"/><rect x="375.0" y="310.8" width="1.3" height="1.3" fill="#2a8a8a" opacity="0.36"/><rect x="375.9" y="311.1" width="1.5" height="1.5" fill="#2a8a8a" opacity="0.37"/><rect x="374.7" y="310.1" width="0.9" height="0.9" fill="#2a8a8a" opacity="0.53"/><rect x="421.3" y="298.9" width="1.5" height="1.5" fill="#6a78c8" opacity="0.64"/><rect x="423.0" y="297.1" width="1.1" height="1.1" fill="#6a78c8" opacity="0.60"/><rect x="422.3" y="297.5" width="1.5" height="1.5" fill="#6a78c8" opacity="0.70"/><rect x="423.9" y="297.0" width="1.3" height="1.3" fill="#6a78c8" opacity="0.66"/><rect x="425.0" y="296.3" width="0.9" height="0.9" fill="#6a78c8" opacity="0.72"/><rect x="424.1" y="299.5" width="0.9" height="0.9" fill="#6a78c8" opacity="0.71"/><rect x="393.5" y="330.1" width="1.3" height="1.3" fill="#2a8a8a" opacity="0.51"/><rect x="393.8" y="332.7" width="1.3" height="1.3" fill="#2a8a8a" opacity="0.39"/><rect x="392.1" y="331.6" width="0.9" height="0.9" fill="#2a8a8a" opacity="0.34"/><rect x="394.2" y="331.1" width="1.5" height="1.5" fill="#2a8a8a" opacity="0.65"/><rect x="394.0" y="331.2" width="1.5" height="1.5" fill="#2a8a8a" opacity="0.58"/><rect x="395.1" y="333.3" width="1.5" height="1.5" fill="#2a8a8a" opacity="0.51"/><rect x="342.2" y="267.2" width="0.9" height="0.9" fill="#4a5ab4" opacity="0.66"/><rect x="339.5" y="266.2" width="1.1" height="1.1" fill="#4a5ab4" opacity="0.38"/><rect x="342.5" y="267.3" width="1.5" height="1.5" fill="#4a5ab4" opacity="0.41"/><rect x="340.3" y="268.4" width="1.5" height="1.5" fill="#4a5ab4" opacity="0.47"/><rect x="341.5" y="267.8" width="0.9" height="0.9" fill="#4a5ab4" opacity="0.56"/><rect x="348.4" y="238.7" width="1.1" height="1.1" fill="#2a8a8a" opacity="0.68"/><rect x="349.0" y="241.7" width="1.5" height="1.5" fill="#2a8a8a" opacity="0.68"/><rect x="349.9" y="241.6" width="1.5" height="1.5" fill="#2a8a8a" opacity="0.56"/><rect x="364.4" y="226.0" width="0.9" height="0.9" fill="#3a6a98" opacity="0.39"/><rect x="363.2" y="227.6" width="0.9" height="0.9" fill="#3a6a98" opacity="0.70"/><rect x="362.1" y="229.0" width="1.5" height="1.5" fill="#3a6a98" opacity="0.64"/><rect x="432.3" y="241.8" width="1.5" height="1.5" fill="#5060b8" opacity="0.66"/><rect x="432.9" y="242.6" width="1.3" height="1.3" fill="#5060b8" opacity="0.32"/><rect x="433.5" y="243.9" width="1.3" height="1.3" fill="#5060b8" opacity="0.35"/><rect x="435.9" y="242.5" width="1.5" height="1.5" fill="#5060b8" opacity="0.34"/><rect x="433.3" y="243.1" width="0.9" height="0.9" fill="#5060b8" opacity="0.54"/><rect x="433.0" y="243.1" width="1.5" height="1.5" fill="#5060b8" opacity="0.38"/><rect x="344.3" y="296.1" width="1.5" height="1.5" fill="#3c4ca8" opacity="0.32"/><rect x="345.4" y="294.3" width="1.5" height="1.5" fill="#3c4ca8" opacity="0.34"/><rect x="343.8" y="292.7" width="1.3" height="1.3" fill="#3c4ca8" opacity="0.44"/><rect x="346.2" y="293.6" width="1.5" height="1.5" fill="#3c4ca8" opacity="0.41"/><rect x="428.9" y="317.6" width="1.1" height="1.1" fill="#5060b8" opacity="0.43"/><rect x="430.1" y="315.0" width="1.5" height="1.5" fill="#5060b8" opacity="0.51"/><rect x="429.4" y="318.7" width="1.1" height="1.1" fill="#5060b8" opacity="0.33"/><rect x="431.5" y="315.4" width="1.1" height="1.1" fill="#5060b8" opacity="0.34"/><rect x="430.4" y="315.9" width="1.5" height="1.5" fill="#5060b8" opacity="0.70"/><rect x="429.3" y="314.7" width="1.1" height="1.1" fill="#5060b8" opacity="0.60"/><rect x="375.9" y="348.0" width="1.1" height="1.1" fill="#5a6ac0" opacity="0.65"/><rect x="373.5" y="347.4" width="1.3" height="1.3" fill="#5a6ac0" opacity="0.40"/><rect x="373.4" y="345.1" width="1.5" height="1.5" fill="#5a6ac0" opacity="0.53"/><rect x="375.4" y="347.1" width="1.1" height="1.1" fill="#5a6ac0" opacity="0.46"/><rect x="406.7" y="323.9" width="1.1" height="1.1" fill="#5a6ac0" opacity="0.74"/><rect x="407.6" y="324.6" width="1.5" height="1.5" fill="#5a6ac0" opacity="0.39"/><rect x="406.8" y="323.5" width="1.3" height="1.3" fill="#5a6ac0" opacity="0.37"/><rect x="406.6" y="324.8" width="1.5" height="1.5" fill="#5a6ac0" opacity="0.39"/><rect x="406.0" y="322.9" width="1.1" height="1.1" fill="#5a6ac0" opacity="0.42"/><rect x="407.7" y="322.6" width="1.3" height="1.3" fill="#5a6ac0" opacity="0.58"/><rect x="355.7" y="294.7" width="1.5" height="1.5" fill="#3a6a98" opacity="0.31"/><rect x="355.1" y="296.4" width="1.5" height="1.5" fill="#3a6a98" opacity="0.61"/><rect x="355.3" y="297.0" width="0.9" height="0.9" fill="#3a6a98" opacity="0.62"/><rect x="355.5" y="296.9" width="1.5" height="1.5" fill="#3a6a98" opacity="0.34"/><rect x="340.2" y="273.8" width="1.3" height="1.3" fill="#404890" opacity="0.43"/><rect x="339.8" y="270.6" width="1.5" height="1.5" fill="#404890" opacity="0.66"/><rect x="341.3" y="272.6" width="0.9" height="0.9" fill="#404890" opacity="0.68"/><rect x="347.9" y="297.6" width="1.3" height="1.3" fill="#404890" opacity="0.61"/><rect x="347.6" y="298.5" width="1.3" height="1.3" fill="#404890" opacity="0.36"/><rect x="346.7" y="297.6" width="1.1" height="1.1" fill="#404890" opacity="0.36"/><rect x="348.3" y="298.6" width="1.1" height="1.1" fill="#404890" opacity="0.69"/><rect x="371.2" y="316.7" width="1.3" height="1.3" fill="#404890" opacity="0.63"/><rect x="371.4" y="315.1" width="1.3" height="1.3" fill="#404890" opacity="0.36"/><rect x="369.5" y="316.3" width="1.1" height="1.1" fill="#404890" opacity="0.59"/><rect x="371.7" y="315.2" width="0.9" height="0.9" fill="#404890" opacity="0.45"/><rect x="425.4" y="232.4" width="1.5" height="1.5" fill="#4a5ab4" opacity="0.46"/><rect x="430.7" y="233.9" width="1.1" height="1.1" fill="#4a5ab4" opacity="0.33"/><rect x="428.1" y="233.2" width="1.3" height="1.3" fill="#4a5ab4" opacity="0.36"/><rect x="426.9" y="233.3" width="1.1" height="1.1" fill="#4a5ab4" opacity="0.75"/><rect x="407.4" y="233.8" width="1.5" height="1.5" fill="#5060b8" opacity="0.53"/><rect x="405.0" y="234.1" width="0.9" height="0.9" fill="#5060b8" opacity="0.37"/><rect x="404.0" y="231.3" width="1.5" height="1.5" fill="#5060b8" opacity="0.43"/><rect x="405.5" y="230.4" width="1.1" height="1.1" fill="#5060b8" opacity="0.75"/><rect x="403.7" y="232.0" width="0.9" height="0.9" fill="#5060b8" opacity="0.32"/><rect x="381.3" y="238.4" width="1.1" height="1.1" fill="#3a6a98" opacity="0.70"/><rect x="381.7" y="236.0" width="1.5" height="1.5" fill="#3a6a98" opacity="0.72"/><rect x="379.5" y="236.0" width="0.9" height="0.9" fill="#3a6a98" opacity="0.66"/><rect x="383.3" y="277.0" width="1.5" height="1.5" fill="#6a78c8" opacity="0.60"/><rect x="382.1" y="275.0" width="1.5" height="1.5" fill="#6a78c8" opacity="0.61"/><rect x="383.7" y="277.0" width="1.3" height="1.3" fill="#6a78c8" opacity="0.58"/><rect x="382.1" y="272.4" width="1.5" height="1.5" fill="#6a78c8" opacity="0.38"/><rect x="451.8" y="295.1" width="1.5" height="1.5" fill="#2a8a8a" opacity="0.58"/><rect x="451.7" y="291.3" width="1.1" height="1.1" fill="#2a8a8a" opacity="0.32"/><rect x="453.1" y="292.1" width="1.3" height="1.3" fill="#2a8a8a" opacity="0.57"/><rect x="359.8" y="334.9" width="1.1" height="1.1" fill="#2a8a8a" opacity="0.54"/><rect x="361.9" y="334.7" width="0.9" height="0.9" fill="#2a8a8a" opacity="0.62"/><rect x="359.6" y="334.6" width="1.3" height="1.3" fill="#2a8a8a" opacity="0.44"/><rect x="360.2" y="337.6" width="0.9" height="0.9" fill="#2a8a8a" opacity="0.30"/><rect x="359.9" y="337.0" width="1.1" height="1.1" fill="#2a8a8a" opacity="0.43"/><rect x="347.8" y="318.7" width="1.1" height="1.1" fill="#4a5ab4" opacity="0.40"/><rect x="347.3" y="322.7" width="1.3" height="1.3" fill="#4a5ab4" opacity="0.69"/><rect x="346.5" y="316.1" width="1.3" height="1.3" fill="#4a5ab4" opacity="0.59"/><rect x="355.4" y="306.3" width="1.1" height="1.1" fill="#404890" opacity="0.47"/><rect x="355.7" y="307.5" width="0.9" height="0.9" fill="#404890" opacity="0.43"/><rect x="353.8" y="303.6" width="0.9" height="0.9" fill="#404890" opacity="0.72"/><rect x="357.3" y="303.2" width="0.9" height="0.9" fill="#404890" opacity="0.44"/><rect x="352.3" y="305.7" width="0.9" height="0.9" fill="#404890" opacity="0.59"/><rect x="341.1" y="299.4" width="1.5" height="1.5" fill="#2a8a8a" opacity="0.50"/><rect x="343.2" y="300.8" width="1.5" height="1.5" fill="#2a8a8a" opacity="0.60"/><rect x="341.1" y="299.3" width="1.1" height="1.1" fill="#2a8a8a" opacity="0.40"/><rect x="342.5" y="298.4" width="1.1" height="1.1" fill="#2a8a8a" opacity="0.62"/><rect x="432.8" y="284.3" width="1.5" height="1.5" fill="#2a8a8a" opacity="0.52"/><rect x="432.3" y="286.1" width="1.1" height="1.1" fill="#2a8a8a" opacity="0.43"/><rect x="432.6" y="284.3" width="1.3" height="1.3" fill="#2a8a8a" opacity="0.34"/><rect x="433.2" y="284.3" width="1.3" height="1.3" fill="#2a8a8a" opacity="0.73"/><rect x="365.5" y="300.6" width="0.9" height="0.9" fill="#5060b8" opacity="0.46"/><rect x="363.9" y="301.5" width="1.1" height="1.1" fill="#5060b8" opacity="0.41"/><rect x="365.8" y="304.0" width="0.9" height="0.9" fill="#5060b8" opacity="0.41"/><rect x="364.3" y="304.3" width="1.3" height="1.3" fill="#5060b8" opacity="0.33"/><rect x="366.8" y="302.6" width="0.9" height="0.9" fill="#5060b8" opacity="0.45"/><rect x="364.6" y="302.5" width="1.1" height="1.1" fill="#5060b8" opacity="0.64"/><rect x="350.8" y="308.4" width="1.3" height="1.3" fill="#5060b8" opacity="0.56"/><rect x="350.0" y="307.3" width="1.5" height="1.5" fill="#5060b8" opacity="0.35"/><rect x="351.2" y="308.2" width="1.5" height="1.5" fill="#5060b8" opacity="0.69"/><rect x="447.6" y="277.8" width="0.9" height="0.9" fill="#3c4ca8" opacity="0.65"/><rect x="446.2" y="280.7" width="1.1" height="1.1" fill="#3c4ca8" opacity="0.74"/><rect x="445.9" y="278.5" width="1.3" height="1.3" fill="#3c4ca8" opacity="0.68"/><rect x="366.1" y="283.0" width="1.3" height="1.3" fill="#5a6ac0" opacity="0.61"/><rect x="365.1" y="282.4" width="1.1" height="1.1" fill="#5a6ac0" opacity="0.43"/><rect x="365.2" y="284.4" width="0.9" height="0.9" fill="#5a6ac0" opacity="0.58"/><rect x="329.3" y="289.7" width="1.5" height="1.5" fill="#2a8a8a" opacity="0.52"/><rect x="330.6" y="289.6" width="0.9" height="0.9" fill="#2a8a8a" opacity="0.38"/><rect x="330.3" y="288.0" width="1.5" height="1.5" fill="#2a8a8a" opacity="0.67"/><rect x="430.6" y="305.9" width="0.9" height="0.9" fill="#3c4ca8" opacity="0.60"/><rect x="431.8" y="306.2" width="1.5" height="1.5" fill="#3c4ca8" opacity="0.52"/><rect x="431.4" y="307.1" width="1.5" height="1.5" fill="#3c4ca8" opacity="0.59"/><rect x="430.7" y="308.1" width="1.3" height="1.3" fill="#3c4ca8" opacity="0.40"/><rect x="431.2" y="307.2" width="0.9" height="0.9" fill="#3c4ca8" opacity="0.48"/></g>
<path d="M353,265 Q345,280 345,295 Q345.5,312 352,326" stroke="#3444a4" stroke-width="1.8" fill="none" opacity="0.6" filter="url(#b08)"/>
<g font-family="Liberation Sans, Arial, sans-serif" font-size="6.2" fill="#333" stroke="#333" stroke-width="0.18" text-rendering="geometricPrecision">
<path d="M15,189 H243.00 M15,189 V18.00" stroke="#c4c4c4" stroke-width="1.2" fill="none"/>
<path d="M15.00,187.7V189.6M18.80,187.7V189.6M22.60,187.7V189.6M26.40,187.7V189.6M30.20,187.7V189.6M34.00,187.7V189.6M37.80,187.7V189.6M41.60,187.7V189.6M45.40,187.7V189.6M49.20,187.7V189.6M53.00,187.7V189.6M56.80,187.7V189.6M60.60,187.7V189.6M64.40,187.7V189.6M68.20,187.7V189.6M72.00,187.7V189.6M75.80,187.7V189.6M79.60,187.7V189.6M83.40,187.7V189.6M87.20,187.7V189.6M91.00,187.7V189.6M94.80,187.7V189.6M98.60,187.7V189.6M102.40,187.7V189.6M106.20,187.7V189.6M110.00,187.7V189.6M113.80,187.7V189.6M117.60,187.7V189.6M121.40,187.7V189.6M125.20,187.7V189.6M129.00,187.7V189.6M132.80,187.7V189.6M136.60,187.7V189.6M140.40,187.7V189.6M144.20,187.7V189.6M148.00,187.7V189.6M151.80,187.7V189.6M155.60,187.7V189.6M159.40,187.7V189.6M163.20,187.7V189.6M167.00,187.7V189.6M170.80,187.7V189.6M174.60,187.7V189.6M178.40,187.7V189.6M182.20,187.7V189.6M186.00,187.7V189.6M189.80,187.7V189.6M193.60,187.7V189.6M197.40,187.7V189.6M201.20,187.7V189.6M205.00,187.7V189.6M208.80,187.7V189.6M212.60,187.7V189.6M216.40,187.7V189.6M220.20,187.7V189.6M224.00,187.7V189.6M227.80,187.7V189.6M231.60,187.7V189.6M235.40,187.7V189.6M239.20,187.7V189.6M243.00,187.7V189.6M14.4,189.00H16.3M14.4,185.20H16.3M14.4,181.40H16.3M14.4,177.60H16.3M14.4,173.80H16.3M14.4,170.00H16.3M14.4,166.20H16.3M14.4,162.40H16.3M14.4,158.60H16.3M14.4,154.80H16.3M14.4,151.00H16.3M14.4,147.20H16.3M14.4,143.40H16.3M14.4,139.60H16.3M14.4,135.80H16.3M14.4,132.00H16.3M14.4,128.20H16.3M14.4,124.40H16.3M14.4,120.60H16.3M14.4,116.80H16.3M14.4,113.00H16.3M14.4,109.20H16.3M14.4,105.40H16.3M14.4,101.60H16.3M14.4,97.80H16.3M14.4,94.00H16.3M14.4,90.20H16.3M14.4,86.40H16.3M14.4,82.60H16.3M14.4,78.80H16.3M14.4,75.00H16.3M14.4,71.20H16.3M14.4,67.40H16.3M14.4,63.60H16.3M14.4,59.80H16.3M14.4,56.00H16.3M14.4,52.20H16.3M14.4,48.40H16.3M14.4,44.60H16.3M14.4,40.80H16.3M14.4,37.00H16.3M14.4,33.20H16.3M14.4,29.40H16.3M14.4,25.60H16.3M14.4,21.80H16.3M14.4,18.00H16.3" stroke="#909090" stroke-width="0.9" fill="none"/>
<text x="15.00" y="196.00" text-anchor="middle">0</text>
<text x="34.00" y="196.00" text-anchor="middle">0.5</text>
<text x="53.00" y="196.00" text-anchor="middle">1</text>
<text x="72.00" y="196.00" text-anchor="middle">1.5</text>
<text x="91.00" y="196.00" text-anchor="middle">2</text>
<text x="110.00" y="196.00" text-anchor="middle">2.5</text>
<text x="129.00" y="196.00" text-anchor="middle">3</text>
<text x="148.00" y="196.00" text-anchor="middle">3.5</text>
<text x="167.00" y="196.00" text-anchor="middle">4</text>
<text x="186.00" y="196.00" text-anchor="middle">4.5</text>
<text x="205.00" y="196.00" text-anchor="middle">5</text>
<text x="224.00" y="196.00" text-anchor="middle">5.5</text>
<text x="243.00" y="196.00" text-anchor="middle">6</text>
<text x="13.30" y="191.00" text-anchor="end">0</text>
<text x="13.30" y="172.00" text-anchor="end">0.5</text>
<text x="13.30" y="153.00" text-anchor="end">1</text>
<text x="13.30" y="134.00" text-anchor="end">1.5</text>
<text x="13.30" y="115.00" text-anchor="end">2</text>
<text x="13.30" y="96.00" text-anchor="end">2.5</text>
<text x="13.30" y="77.00" text-anchor="end">3</text>
<text x="13.30" y="58.00" text-anchor="end">3.5</text>
<text x="13.30" y="39.00" text-anchor="end">4</text>
<text x="13.30" y="20.00" text-anchor="end">4.5</text>
<text x="8" y="11.0" >[mm]</text>
<text x="246" y="188">[mm]</text>
<path d="M290,189 H530.75 M290,189 V29.40" stroke="#c4c4c4" stroke-width="1.2" fill="none"/>
<path d="M290.00,187.7V189.6M295.35,187.7V189.6M300.70,187.7V189.6M306.05,187.7V189.6M311.40,187.7V189.6M316.75,187.7V189.6M322.10,187.7V189.6M327.45,187.7V189.6M332.80,187.7V189.6M338.15,187.7V189.6M343.50,187.7V189.6M348.85,187.7V189.6M354.20,187.7V189.6M359.55,187.7V189.6M364.90,187.7V189.6M370.25,187.7V189.6M375.60,187.7V189.6M380.95,187.7V189.6M386.30,187.7V189.6M391.65,187.7V189.6M397.00,187.7V189.6M402.35,187.7V189.6M407.70,187.7V189.6M413.05,187.7V189.6M418.40,187.7V189.6M423.75,187.7V189.6M429.10,187.7V189.6M434.45,187.7V189.6M439.80,187.7V189.6M445.15,187.7V189.6M450.50,187.7V189.6M455.85,187.7V189.6M461.20,187.7V189.6M466.55,187.7V189.6M471.90,187.7V189.6M477.25,187.7V189.6M482.60,187.7V189.6M487.95,187.7V189.6M493.30,187.7V189.6M498.65,187.7V189.6M504.00,187.7V189.6M509.35,187.7V189.6M514.70,187.7V189.6M520.05,187.7V189.6M525.40,187.7V189.6M530.75,187.7V189.6M289.4,189.00H291.3M289.4,183.68H291.3M289.4,178.36H291.3M289.4,173.04H291.3M289.4,167.72H291.3M289.4,162.40H291.3M289.4,157.08H291.3M289.4,151.76H291.3M289.4,146.44H291.3M289.4,141.12H291.3M289.4,135.80H291.3M289.4,130.48H291.3M289.4,125.16H291.3M289.4,119.84H291.3M289.4,114.52H291.3M289.4,109.20H291.3M289.4,103.88H291.3M289.4,98.56H291.3M289.4,93.24H291.3M289.4,87.92H291.3M289.4,82.60H291.3M289.4,77.28H291.3M289.4,71.96H291.3M289.4,66.64H291.3M289.4,61.32H291.3M289.4,56.00H291.3M289.4,50.68H291.3M289.4,45.36H291.3M289.4,40.04H291.3M289.4,34.72H291.3M289.4,29.40H291.3" stroke="#909090" stroke-width="0.9" fill="none"/>
<text x="290.00" y="196.00" text-anchor="middle">0</text>
<text x="316.75" y="196.00" text-anchor="middle">1</text>
<text x="343.50" y="196.00" text-anchor="middle">2</text>
<text x="370.25" y="196.00" text-anchor="middle">3</text>
<text x="397.00" y="196.00" text-anchor="middle">4</text>
<text x="423.75" y="196.00" text-anchor="middle">5</text>
<text x="450.50" y="196.00" text-anchor="middle">6</text>
<text x="477.25" y="196.00" text-anchor="middle">7</text>
<text x="504.00" y="196.00" text-anchor="middle">8</text>
<text x="530.75" y="196.00" text-anchor="middle">9</text>
<text x="288.30" y="191.00" text-anchor="end">0</text>
<text x="288.30" y="164.40" text-anchor="end">1</text>
<text x="288.30" y="137.80" text-anchor="end">2</text>
<text x="288.30" y="111.20" text-anchor="end">3</text>
<text x="288.30" y="84.60" text-anchor="end">4</text>
<text x="288.30" y="58.00" text-anchor="end">5</text>
<text x="288.30" y="31.40" text-anchor="end">6</text>
<text x="284" y="22.0" >[mm]</text>
<text x="533" y="188">[mm]</text>
<path d="M15,397 H231.00 M15,397 V235.00" stroke="#c4c4c4" stroke-width="1.2" fill="none"/>
<path d="M15.00,395.7V397.6M25.80,395.7V397.6M36.60,395.7V397.6M47.40,395.7V397.6M58.20,395.7V397.6M69.00,395.7V397.6M79.80,395.7V397.6M90.60,395.7V397.6M101.40,395.7V397.6M112.20,395.7V397.6M123.00,395.7V397.6M133.80,395.7V397.6M144.60,395.7V397.6M155.40,395.7V397.6M166.20,395.7V397.6M177.00,395.7V397.6M187.80,395.7V397.6M198.60,395.7V397.6M209.40,395.7V397.6M220.20,395.7V397.6M231.00,395.7V397.6M14.4,397.00H16.3M14.4,386.20H16.3M14.4,375.40H16.3M14.4,364.60H16.3M14.4,353.80H16.3M14.4,343.00H16.3M14.4,332.20H16.3M14.4,321.40H16.3M14.4,310.60H16.3M14.4,299.80H16.3M14.4,289.00H16.3M14.4,278.20H16.3M14.4,267.40H16.3M14.4,256.60H16.3M14.4,245.80H16.3M14.4,235.00H16.3" stroke="#909090" stroke-width="0.9" fill="none"/>
<text x="15.00" y="404.00" text-anchor="middle">0</text>
<text x="69.00" y="404.00" text-anchor="middle">2.5</text>
<text x="123.00" y="404.00" text-anchor="middle">5</text>
<text x="177.00" y="404.00" text-anchor="middle">7.5</text>
<text x="231.00" y="404.00" text-anchor="middle">10</text>
<text x="13.30" y="399.00" text-anchor="end">0</text>
<text x="13.30" y="345.00" text-anchor="end">2.5</text>
<text x="13.30" y="291.00" text-anchor="end">5</text>
<text x="13.30" y="237.00" text-anchor="end">7.5</text>
<text x="8" y="228" >[mm]</text>
<text x="235" y="396.5">[mm]</text>
<path d="M290,397 H506.00 M290,397 V235.00" stroke="#c4c4c4" stroke-width="1.2" fill="none"/>
<path d="M290.00,395.7V397.6M300.80,395.7V397.6M311.60,395.7V397.6M322.40,395.7V397.6M333.20,395.7V397.6M344.00,395.7V397.6M354.80,395.7V397.6M365.60,395.7V397.6M376.40,395.7V397.6M387.20,395.7V397.6M398.00,395.7V397.6M408.80,395.7V397.6M419.60,395.7V397.6M430.40,395.7V397.6M441.20,395.7V397.6M452.00,395.7V397.6M462.80,395.7V397.6M473.60,395.7V397.6M484.40,395.7V397.6M495.20,395.7V397.6M506.00,395.7V397.6M289.4,397.00H291.3M289.4,386.20H291.3M289.4,375.40H291.3M289.4,364.60H291.3M289.4,353.80H291.3M289.4,343.00H291.3M289.4,332.20H291.3M289.4,321.40H291.3M289.4,310.60H291.3M289.4,299.80H291.3M289.4,289.00H291.3M289.4,278.20H291.3M289.4,267.40H291.3M289.4,256.60H291.3M289.4,245.80H291.3M289.4,235.00H291.3" stroke="#909090" stroke-width="0.9" fill="none"/>
<text x="290.00" y="404.00" text-anchor="middle">0</text>
<text x="344.00" y="404.00" text-anchor="middle">5</text>
<text x="398.00" y="404.00" text-anchor="middle">10</text>
<text x="452.00" y="404.00" text-anchor="middle">15</text>
<text x="506.00" y="404.00" text-anchor="middle">20</text>
<text x="288.30" y="399.00" text-anchor="end">0</text>
<text x="288.30" y="345.00" text-anchor="end">5</text>
<text x="288.30" y="291.00" text-anchor="end">10</text>
<text x="288.30" y="237.00" text-anchor="end">15</text>
<text x="284" y="228" >[mm]</text>
<text x="510" y="396.5">[mm]</text>
<rect x="229.8" y="25" width="6.3" height="141" fill="url(#cb)"/>
<rect x="232.20000000000002" y="25" width="3.9" height="141" fill="url(#chk)"/>
<text x="237.8" y="26.00">0.22</text>
<text x="237.8" y="96.10">0.095</text>
<text x="237.8" y="166.80">0.03</text>
<rect x="504.4" y="25" width="6.3" height="141" fill="url(#cb)"/>
<rect x="506.79999999999995" y="25" width="3.9" height="141" fill="url(#chk)"/>
<text x="512.4" y="26.00">0.22</text>
<text x="512.4" y="96.10">0.11</text>
<text x="512.4" y="166.80">0</text>
<rect x="229.8" y="233" width="6.3" height="142" fill="url(#cb)"/>
<rect x="232.20000000000002" y="233" width="3.9" height="142" fill="url(#chk)"/>
<text x="237.8" y="234.00">0.22</text>
<text x="237.8" y="304.60">0.11</text>
<text x="237.8" y="375.80">0.02</text>
<rect x="504.4" y="233" width="6.3" height="142" fill="url(#cb)"/>
<rect x="506.79999999999995" y="233" width="3.9" height="142" fill="url(#chk)"/>
<text x="512.4" y="234.00">0.6</text>
<text x="512.4" y="304.60">0.3</text>
<text x="512.4" y="375.80">0</text>
</g>
</svg>
</body></html>
